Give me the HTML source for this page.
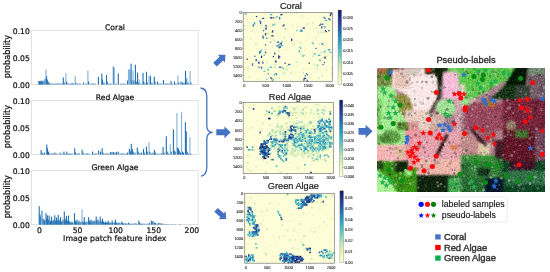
<!DOCTYPE html>
<html><head><meta charset="utf-8"><style>
html,body{margin:0;padding:0;background:#fff;}
body{width:550px;height:272px;overflow:hidden;}
svg{display:block;}
text{font-family:"Liberation Sans", "DejaVu Sans", sans-serif;}
.t1{font-size:7.65px;fill:#111;stroke:#111;stroke-width:0.22px;font-family:'DejaVu Sans',sans-serif;}
.tk{font-size:7.65px;fill:#111;stroke:#111;stroke-width:0.22px;font-family:'DejaVu Sans',sans-serif;}
.yl{font-size:8.1px;fill:#111;stroke:#111;stroke-width:0.22px;font-family:'DejaVu Sans',sans-serif;}
.xl{font-size:7.8px;fill:#111;stroke:#111;stroke-width:0.22px;font-family:'DejaVu Sans',sans-serif;}
.ht{font-size:9.2px;fill:#1a1a1a;stroke:#1a1a1a;stroke-width:0.2px;}
.hk{font-size:3.9px;fill:#222;stroke:#222;stroke-width:0.08px;}
.lg{font-size:8.7px;fill:#151515;stroke:#151515;stroke-width:0.15px;}
.pl{font-size:9.7px;fill:#262626;stroke:#262626;stroke-width:0.3px;}
.cl{font-size:9.4px;fill:#333;stroke:#333;stroke-width:0.4px;}
</style></head><body>
<svg width="550" height="272" viewBox="0 0 550 272">
<rect x="31.4" y="30.4" width="166.8" height="54.1" fill="none" stroke="#dcdcdc" stroke-width="0.9"/>
<rect x="38.35" y="81.00" width="1.1" height="3.50" fill="#2170b2"/>
<rect x="39.05" y="81.00" width="1.1" height="3.50" fill="#2170b2"/>
<rect x="39.85" y="81.50" width="1.1" height="3.00" fill="#2170b2"/>
<rect x="40.65" y="80.50" width="1.1" height="4.00" fill="#2170b2"/>
<rect x="41.45" y="81.00" width="1.1" height="3.50" fill="#2170b2"/>
<rect x="42.15" y="81.50" width="1.1" height="3.00" fill="#2170b2"/>
<rect x="43.45" y="80.50" width="1.1" height="4.00" fill="#2170b2"/>
<rect x="44.65" y="78.50" width="1.1" height="6.00" fill="#2170b2"/>
<rect x="45.45" y="69.50" width="1.1" height="15.00" fill="#7fb2dc"/>
<rect x="46.05" y="76.30" width="1.1" height="8.20" fill="#2170b2"/>
<rect x="46.75" y="79.50" width="1.1" height="5.00" fill="#2170b2"/>
<rect x="47.55" y="81.50" width="1.1" height="3.00" fill="#2170b2"/>
<rect x="48.45" y="82.50" width="1.1" height="2.00" fill="#2170b2"/>
<rect x="49.95" y="83.50" width="1.1" height="1.00" fill="#2170b2"/>
<rect x="51.45" y="83.50" width="1.1" height="1.00" fill="#2170b2"/>
<rect x="53.45" y="83.50" width="1.1" height="1.00" fill="#2170b2"/>
<rect x="55.45" y="83.50" width="1.1" height="1.00" fill="#2170b2"/>
<rect x="57.45" y="83.00" width="1.1" height="1.50" fill="#2170b2"/>
<rect x="59.45" y="83.50" width="1.1" height="1.00" fill="#2170b2"/>
<rect x="61.45" y="83.50" width="1.1" height="1.00" fill="#2170b2"/>
<rect x="62.75" y="77.50" width="1.1" height="7.00" fill="#2170b2"/>
<rect x="63.55" y="82.50" width="1.1" height="2.00" fill="#2170b2"/>
<rect x="65.35" y="73.00" width="1.1" height="11.50" fill="#7fb2dc"/>
<rect x="66.15" y="81.50" width="1.1" height="3.00" fill="#2170b2"/>
<rect x="67.45" y="83.50" width="1.1" height="1.00" fill="#2170b2"/>
<rect x="69.45" y="83.50" width="1.1" height="1.00" fill="#2170b2"/>
<rect x="71.45" y="83.00" width="1.1" height="1.50" fill="#2170b2"/>
<rect x="72.95" y="83.50" width="1.1" height="1.00" fill="#2170b2"/>
<rect x="74.65" y="75.90" width="1.1" height="8.60" fill="#7fb2dc"/>
<rect x="75.35" y="82.50" width="1.1" height="2.00" fill="#2170b2"/>
<rect x="77.45" y="83.50" width="1.1" height="1.00" fill="#2170b2"/>
<rect x="79.45" y="83.50" width="1.1" height="1.00" fill="#2170b2"/>
<rect x="82.95" y="82.50" width="1.1" height="2.00" fill="#2170b2"/>
<rect x="85.45" y="83.50" width="1.1" height="1.00" fill="#2170b2"/>
<rect x="87.35" y="70.50" width="1.1" height="14.00" fill="#7fb2dc"/>
<rect x="88.05" y="81.50" width="1.1" height="3.00" fill="#2170b2"/>
<rect x="90.45" y="83.50" width="1.1" height="1.00" fill="#2170b2"/>
<rect x="92.45" y="83.50" width="1.1" height="1.00" fill="#2170b2"/>
<rect x="94.45" y="83.50" width="1.1" height="1.00" fill="#2170b2"/>
<rect x="97.85" y="76.80" width="1.1" height="7.70" fill="#2170b2"/>
<rect x="101.25" y="73.50" width="1.1" height="11.00" fill="#2170b2"/>
<rect x="101.95" y="79.50" width="1.1" height="5.00" fill="#2170b2"/>
<rect x="103.45" y="82.50" width="1.1" height="2.00" fill="#2170b2"/>
<rect x="105.95" y="75.00" width="1.1" height="9.50" fill="#2170b2"/>
<rect x="106.65" y="81.50" width="1.1" height="3.00" fill="#2170b2"/>
<rect x="108.45" y="83.50" width="1.1" height="1.00" fill="#2170b2"/>
<rect x="110.45" y="83.50" width="1.1" height="1.00" fill="#2170b2"/>
<rect x="112.65" y="65.90" width="1.1" height="18.60" fill="#7fb2dc"/>
<rect x="113.35" y="67.50" width="1.1" height="17.00" fill="#2170b2"/>
<rect x="115.45" y="83.50" width="1.1" height="1.00" fill="#2170b2"/>
<rect x="117.75" y="73.50" width="1.1" height="11.00" fill="#2170b2"/>
<rect x="120.45" y="83.50" width="1.1" height="1.00" fill="#2170b2"/>
<rect x="122.45" y="83.50" width="1.1" height="1.00" fill="#2170b2"/>
<rect x="124.45" y="83.50" width="1.1" height="1.00" fill="#2170b2"/>
<rect x="126.95" y="80.50" width="1.1" height="4.00" fill="#2170b2"/>
<rect x="127.95" y="69.50" width="1.1" height="15.00" fill="#7fb2dc"/>
<rect x="128.75" y="69.50" width="1.1" height="15.00" fill="#7fb2dc"/>
<rect x="129.65" y="69.50" width="1.1" height="15.00" fill="#7fb2dc"/>
<rect x="130.55" y="63.70" width="1.1" height="20.80" fill="#2170b2"/>
<rect x="131.35" y="80.50" width="1.1" height="4.00" fill="#2170b2"/>
<rect x="132.45" y="70.50" width="1.1" height="14.00" fill="#7fb2dc"/>
<rect x="133.25" y="80.50" width="1.1" height="4.00" fill="#2170b2"/>
<rect x="134.85" y="64.80" width="1.1" height="19.70" fill="#2170b2"/>
<rect x="135.65" y="81.50" width="1.1" height="3.00" fill="#2170b2"/>
<rect x="137.05" y="72.50" width="1.1" height="12.00" fill="#2170b2"/>
<rect x="137.85" y="82.50" width="1.1" height="2.00" fill="#2170b2"/>
<rect x="138.75" y="79.50" width="1.1" height="5.00" fill="#7fb2dc"/>
<rect x="140.45" y="83.50" width="1.1" height="1.00" fill="#2170b2"/>
<rect x="142.45" y="72.80" width="1.1" height="11.70" fill="#2170b2"/>
<rect x="143.25" y="81.50" width="1.1" height="3.00" fill="#2170b2"/>
<rect x="144.45" y="83.50" width="1.1" height="1.00" fill="#2170b2"/>
<rect x="145.95" y="71.70" width="1.1" height="12.80" fill="#2170b2"/>
<rect x="146.75" y="82.50" width="1.1" height="2.00" fill="#2170b2"/>
<rect x="148.45" y="75.50" width="1.1" height="9.00" fill="#7fb2dc"/>
<rect x="149.95" y="76.10" width="1.1" height="8.40" fill="#2170b2"/>
<rect x="151.45" y="82.50" width="1.1" height="2.00" fill="#2170b2"/>
<rect x="153.75" y="76.70" width="1.1" height="7.80" fill="#2170b2"/>
<rect x="154.45" y="81.50" width="1.1" height="3.00" fill="#2170b2"/>
<rect x="156.95" y="81.50" width="1.1" height="3.00" fill="#2170b2"/>
<rect x="158.45" y="83.50" width="1.1" height="1.00" fill="#2170b2"/>
<rect x="160.45" y="83.50" width="1.1" height="1.00" fill="#2170b2"/>
<rect x="162.85" y="80.10" width="1.1" height="4.40" fill="#2170b2"/>
<rect x="164.45" y="83.50" width="1.1" height="1.00" fill="#2170b2"/>
<rect x="166.45" y="83.50" width="1.1" height="1.00" fill="#2170b2"/>
<rect x="168.45" y="83.50" width="1.1" height="1.00" fill="#2170b2"/>
<rect x="170.45" y="81.10" width="1.1" height="3.40" fill="#2170b2"/>
<rect x="171.45" y="83.50" width="1.1" height="1.00" fill="#2170b2"/>
<rect x="173.95" y="81.50" width="1.1" height="3.00" fill="#2170b2"/>
<rect x="175.45" y="83.50" width="1.1" height="1.00" fill="#2170b2"/>
<rect x="177.35" y="75.50" width="1.1" height="9.00" fill="#7fb2dc"/>
<rect x="178.15" y="82.50" width="1.1" height="2.00" fill="#2170b2"/>
<rect x="180.45" y="81.50" width="1.1" height="3.00" fill="#2170b2"/>
<rect x="181.95" y="82.50" width="1.1" height="2.00" fill="#2170b2"/>
<rect x="183.45" y="82.50" width="1.1" height="2.00" fill="#2170b2"/>
<rect x="184.95" y="70.80" width="1.1" height="13.70" fill="#2170b2"/>
<rect x="185.75" y="79.50" width="1.1" height="5.00" fill="#2170b2"/>
<rect x="186.45" y="77.50" width="1.1" height="7.00" fill="#7fb2dc"/>
<rect x="187.45" y="82.50" width="1.1" height="2.00" fill="#2170b2"/>
<rect x="189.55" y="71.10" width="1.1" height="13.40" fill="#7fb2dc"/>
<rect x="190.35" y="82.50" width="1.1" height="2.00" fill="#2170b2"/>
<text x="115" y="29.5" text-anchor="middle" class="t1">Coral</text>
<text x="29.8" y="33.5" text-anchor="end" class="tk">0.10</text>
<text x="29.8" y="60.6" text-anchor="end" class="tk">0.05</text>
<text x="29.8" y="87.6" text-anchor="end" class="tk">0.00</text>
<text transform="translate(10.2 56.6) rotate(-90)" text-anchor="middle" class="yl">probability</text>
<rect x="31.4" y="100.5" width="166.8" height="54.1" fill="none" stroke="#dcdcdc" stroke-width="0.9"/>
<rect x="40.55" y="150.00" width="1.1" height="4.60" fill="#2170b2"/>
<rect x="41.45" y="152.60" width="1.1" height="2.00" fill="#2170b2"/>
<rect x="42.45" y="153.60" width="1.1" height="1.00" fill="#2170b2"/>
<rect x="43.95" y="152.60" width="1.1" height="2.00" fill="#2170b2"/>
<rect x="46.25" y="144.60" width="1.1" height="10.00" fill="#2170b2"/>
<rect x="46.95" y="148.30" width="1.1" height="6.30" fill="#2170b2"/>
<rect x="47.95" y="151.60" width="1.1" height="3.00" fill="#2170b2"/>
<rect x="48.95" y="153.60" width="1.1" height="1.00" fill="#2170b2"/>
<rect x="50.45" y="153.60" width="1.1" height="1.00" fill="#2170b2"/>
<rect x="52.45" y="153.10" width="1.1" height="1.50" fill="#2170b2"/>
<rect x="54.45" y="152.60" width="1.1" height="2.00" fill="#2170b2"/>
<rect x="56.45" y="153.60" width="1.1" height="1.00" fill="#2170b2"/>
<rect x="59.45" y="152.60" width="1.1" height="2.00" fill="#2170b2"/>
<rect x="61.45" y="153.60" width="1.1" height="1.00" fill="#2170b2"/>
<rect x="63.35" y="151.60" width="1.1" height="3.00" fill="#2170b2"/>
<rect x="64.45" y="153.60" width="1.1" height="1.00" fill="#2170b2"/>
<rect x="66.25" y="151.60" width="1.1" height="3.00" fill="#2170b2"/>
<rect x="67.45" y="153.60" width="1.1" height="1.00" fill="#2170b2"/>
<rect x="69.45" y="153.10" width="1.1" height="1.50" fill="#2170b2"/>
<rect x="71.45" y="153.60" width="1.1" height="1.00" fill="#2170b2"/>
<rect x="74.15" y="148.30" width="1.1" height="6.30" fill="#2170b2"/>
<rect x="74.95" y="152.60" width="1.1" height="2.00" fill="#2170b2"/>
<rect x="76.45" y="153.60" width="1.1" height="1.00" fill="#2170b2"/>
<rect x="78.45" y="153.10" width="1.1" height="1.50" fill="#2170b2"/>
<rect x="81.55" y="149.60" width="1.1" height="5.00" fill="#2170b2"/>
<rect x="82.45" y="152.60" width="1.1" height="2.00" fill="#2170b2"/>
<rect x="84.45" y="153.60" width="1.1" height="1.00" fill="#2170b2"/>
<rect x="86.45" y="153.10" width="1.1" height="1.50" fill="#2170b2"/>
<rect x="88.45" y="153.60" width="1.1" height="1.00" fill="#2170b2"/>
<rect x="91.95" y="151.60" width="1.1" height="3.00" fill="#2170b2"/>
<rect x="93.45" y="153.60" width="1.1" height="1.00" fill="#2170b2"/>
<rect x="95.45" y="153.10" width="1.1" height="1.50" fill="#2170b2"/>
<rect x="98.05" y="150.60" width="1.1" height="4.00" fill="#2170b2"/>
<rect x="99.95" y="151.60" width="1.1" height="3.00" fill="#2170b2"/>
<rect x="101.65" y="148.30" width="1.1" height="6.30" fill="#2170b2"/>
<rect x="102.45" y="152.60" width="1.1" height="2.00" fill="#2170b2"/>
<rect x="104.45" y="153.60" width="1.1" height="1.00" fill="#2170b2"/>
<rect x="106.45" y="153.10" width="1.1" height="1.50" fill="#2170b2"/>
<rect x="108.45" y="153.60" width="1.1" height="1.00" fill="#2170b2"/>
<rect x="109.95" y="152.10" width="1.1" height="2.50" fill="#2170b2"/>
<rect x="111.45" y="152.10" width="1.1" height="2.50" fill="#2170b2"/>
<rect x="112.95" y="152.10" width="1.1" height="2.50" fill="#2170b2"/>
<rect x="114.45" y="152.60" width="1.1" height="2.00" fill="#2170b2"/>
<rect x="115.95" y="152.10" width="1.1" height="2.50" fill="#2170b2"/>
<rect x="117.65" y="151.60" width="1.1" height="3.00" fill="#2170b2"/>
<rect x="119.45" y="153.60" width="1.1" height="1.00" fill="#2170b2"/>
<rect x="121.45" y="153.10" width="1.1" height="1.50" fill="#2170b2"/>
<rect x="123.45" y="153.60" width="1.1" height="1.00" fill="#2170b2"/>
<rect x="125.45" y="153.60" width="1.1" height="1.00" fill="#2170b2"/>
<rect x="126.95" y="152.60" width="1.1" height="2.00" fill="#2170b2"/>
<rect x="128.75" y="148.90" width="1.1" height="5.70" fill="#2170b2"/>
<rect x="129.75" y="151.10" width="1.1" height="3.50" fill="#2170b2"/>
<rect x="130.75" y="143.80" width="1.1" height="10.80" fill="#2170b2"/>
<rect x="131.75" y="148.90" width="1.1" height="5.70" fill="#2170b2"/>
<rect x="132.65" y="151.60" width="1.1" height="3.00" fill="#2170b2"/>
<rect x="134.45" y="152.60" width="1.1" height="2.00" fill="#2170b2"/>
<rect x="136.75" y="147.60" width="1.1" height="7.00" fill="#2170b2"/>
<rect x="137.65" y="151.60" width="1.1" height="3.00" fill="#2170b2"/>
<rect x="139.45" y="153.10" width="1.1" height="1.50" fill="#2170b2"/>
<rect x="140.95" y="152.60" width="1.1" height="2.00" fill="#2170b2"/>
<rect x="142.95" y="148.90" width="1.1" height="5.70" fill="#2170b2"/>
<rect x="143.75" y="152.60" width="1.1" height="2.00" fill="#2170b2"/>
<rect x="145.85" y="146.60" width="1.1" height="8.00" fill="#2170b2"/>
<rect x="146.65" y="151.60" width="1.1" height="3.00" fill="#2170b2"/>
<rect x="148.45" y="142.20" width="1.1" height="12.40" fill="#7fb2dc"/>
<rect x="149.25" y="151.60" width="1.1" height="3.00" fill="#2170b2"/>
<rect x="150.95" y="153.60" width="1.1" height="1.00" fill="#2170b2"/>
<rect x="152.45" y="152.60" width="1.1" height="2.00" fill="#2170b2"/>
<rect x="153.95" y="149.80" width="1.1" height="4.80" fill="#2170b2"/>
<rect x="154.75" y="152.60" width="1.1" height="2.00" fill="#2170b2"/>
<rect x="156.45" y="153.60" width="1.1" height="1.00" fill="#2170b2"/>
<rect x="158.45" y="153.60" width="1.1" height="1.00" fill="#2170b2"/>
<rect x="160.65" y="153.20" width="1.1" height="1.40" fill="#2170b2"/>
<rect x="162.55" y="147.00" width="1.1" height="7.60" fill="#2170b2"/>
<rect x="163.45" y="152.60" width="1.1" height="2.00" fill="#2170b2"/>
<rect x="165.75" y="136.30" width="1.1" height="18.30" fill="#2170b2"/>
<rect x="166.65" y="151.60" width="1.1" height="3.00" fill="#2170b2"/>
<rect x="167.95" y="153.60" width="1.1" height="1.00" fill="#2170b2"/>
<rect x="169.75" y="144.30" width="1.1" height="10.30" fill="#7fb2dc"/>
<rect x="170.65" y="151.60" width="1.1" height="3.00" fill="#2170b2"/>
<rect x="172.85" y="129.30" width="1.1" height="25.30" fill="#2170b2"/>
<rect x="173.75" y="150.60" width="1.1" height="4.00" fill="#2170b2"/>
<rect x="174.65" y="151.60" width="1.1" height="3.00" fill="#2170b2"/>
<rect x="176.35" y="113.00" width="1.1" height="41.60" fill="#7fb2dc"/>
<rect x="177.15" y="147.60" width="1.1" height="7.00" fill="#2170b2"/>
<rect x="177.95" y="148.60" width="1.1" height="6.00" fill="#2170b2"/>
<rect x="178.75" y="150.60" width="1.1" height="4.00" fill="#2170b2"/>
<rect x="179.95" y="152.60" width="1.1" height="2.00" fill="#2170b2"/>
<rect x="181.05" y="111.80" width="1.1" height="42.80" fill="#7fb2dc"/>
<rect x="181.85" y="151.60" width="1.1" height="3.00" fill="#2170b2"/>
<rect x="182.95" y="152.60" width="1.1" height="2.00" fill="#2170b2"/>
<rect x="184.85" y="122.30" width="1.1" height="32.30" fill="#2170b2"/>
<rect x="185.75" y="131.30" width="1.1" height="23.30" fill="#2170b2"/>
<rect x="186.65" y="151.60" width="1.1" height="3.00" fill="#2170b2"/>
<rect x="187.95" y="153.60" width="1.1" height="1.00" fill="#2170b2"/>
<rect x="189.35" y="137.10" width="1.1" height="17.50" fill="#7fb2dc"/>
<rect x="190.25" y="153.60" width="1.1" height="1.00" fill="#2170b2"/>
<text x="115" y="99.6" text-anchor="middle" class="t1">Red Algae</text>
<text x="29.8" y="103.6" text-anchor="end" class="tk">0.10</text>
<text x="29.8" y="130.7" text-anchor="end" class="tk">0.05</text>
<text x="29.8" y="157.7" text-anchor="end" class="tk">0.00</text>
<text transform="translate(10.2 126.6) rotate(-90)" text-anchor="middle" class="yl">probability</text>
<rect x="31.4" y="170.6" width="166.8" height="54.0" fill="none" stroke="#dcdcdc" stroke-width="0.9"/>
<rect x="38.65" y="206.20" width="1.1" height="18.40" fill="#2170b2"/>
<rect x="39.45" y="214.60" width="1.1" height="10.00" fill="#2170b2"/>
<rect x="40.25" y="216.60" width="1.1" height="8.00" fill="#2170b2"/>
<rect x="40.95" y="210.60" width="1.1" height="14.00" fill="#7fb2dc"/>
<rect x="41.75" y="210.60" width="1.1" height="14.00" fill="#7fb2dc"/>
<rect x="42.55" y="218.60" width="1.1" height="6.00" fill="#2170b2"/>
<rect x="43.45" y="219.60" width="1.1" height="5.00" fill="#2170b2"/>
<rect x="44.15" y="220.60" width="1.1" height="4.00" fill="#2170b2"/>
<rect x="45.45" y="213.20" width="1.1" height="11.40" fill="#2170b2"/>
<rect x="46.15" y="218.60" width="1.1" height="6.00" fill="#2170b2"/>
<rect x="46.85" y="215.30" width="1.1" height="9.30" fill="#2170b2"/>
<rect x="47.65" y="219.60" width="1.1" height="5.00" fill="#2170b2"/>
<rect x="48.55" y="215.60" width="1.1" height="9.00" fill="#2170b2"/>
<rect x="49.35" y="220.60" width="1.1" height="4.00" fill="#2170b2"/>
<rect x="50.05" y="221.60" width="1.1" height="3.00" fill="#2170b2"/>
<rect x="50.85" y="216.60" width="1.1" height="8.00" fill="#2170b2"/>
<rect x="51.65" y="220.60" width="1.1" height="4.00" fill="#2170b2"/>
<rect x="52.45" y="221.60" width="1.1" height="3.00" fill="#2170b2"/>
<rect x="53.25" y="219.60" width="1.1" height="5.00" fill="#2170b2"/>
<rect x="54.25" y="215.30" width="1.1" height="9.30" fill="#2170b2"/>
<rect x="55.05" y="220.60" width="1.1" height="4.00" fill="#2170b2"/>
<rect x="55.95" y="217.60" width="1.1" height="7.00" fill="#2170b2"/>
<rect x="56.75" y="220.60" width="1.1" height="4.00" fill="#2170b2"/>
<rect x="57.65" y="214.90" width="1.1" height="9.70" fill="#2170b2"/>
<rect x="58.45" y="219.60" width="1.1" height="5.00" fill="#2170b2"/>
<rect x="59.25" y="220.60" width="1.1" height="4.00" fill="#2170b2"/>
<rect x="59.95" y="217.20" width="1.1" height="7.40" fill="#2170b2"/>
<rect x="60.75" y="221.60" width="1.1" height="3.00" fill="#2170b2"/>
<rect x="61.45" y="221.60" width="1.1" height="3.00" fill="#2170b2"/>
<rect x="62.45" y="219.60" width="1.1" height="5.00" fill="#2170b2"/>
<rect x="63.75" y="211.50" width="1.1" height="13.10" fill="#2170b2"/>
<rect x="64.45" y="218.60" width="1.1" height="6.00" fill="#2170b2"/>
<rect x="65.15" y="220.60" width="1.1" height="4.00" fill="#2170b2"/>
<rect x="65.95" y="216.10" width="1.1" height="8.50" fill="#2170b2"/>
<rect x="66.75" y="220.60" width="1.1" height="4.00" fill="#2170b2"/>
<rect x="67.95" y="215.60" width="1.1" height="9.00" fill="#2170b2"/>
<rect x="68.75" y="221.60" width="1.1" height="3.00" fill="#2170b2"/>
<rect x="69.45" y="221.60" width="1.1" height="3.00" fill="#2170b2"/>
<rect x="70.45" y="222.60" width="1.1" height="2.00" fill="#2170b2"/>
<rect x="71.45" y="221.60" width="1.1" height="3.00" fill="#2170b2"/>
<rect x="72.45" y="222.60" width="1.1" height="2.00" fill="#2170b2"/>
<rect x="73.95" y="213.20" width="1.1" height="11.40" fill="#2170b2"/>
<rect x="74.75" y="220.60" width="1.1" height="4.00" fill="#2170b2"/>
<rect x="75.65" y="221.60" width="1.1" height="3.00" fill="#2170b2"/>
<rect x="76.45" y="219.60" width="1.1" height="5.00" fill="#2170b2"/>
<rect x="77.45" y="222.60" width="1.1" height="2.00" fill="#2170b2"/>
<rect x="78.45" y="220.60" width="1.1" height="4.00" fill="#2170b2"/>
<rect x="79.45" y="222.60" width="1.1" height="2.00" fill="#2170b2"/>
<rect x="80.45" y="221.60" width="1.1" height="3.00" fill="#2170b2"/>
<rect x="81.45" y="209.20" width="1.1" height="15.40" fill="#7fb2dc"/>
<rect x="82.25" y="221.60" width="1.1" height="3.00" fill="#2170b2"/>
<rect x="82.95" y="222.60" width="1.1" height="2.00" fill="#2170b2"/>
<rect x="83.75" y="217.20" width="1.1" height="7.40" fill="#2170b2"/>
<rect x="84.45" y="221.60" width="1.1" height="3.00" fill="#2170b2"/>
<rect x="85.45" y="222.60" width="1.1" height="2.00" fill="#2170b2"/>
<rect x="86.45" y="221.60" width="1.1" height="3.00" fill="#2170b2"/>
<rect x="88.05" y="217.20" width="1.1" height="7.40" fill="#2170b2"/>
<rect x="88.85" y="220.60" width="1.1" height="4.00" fill="#2170b2"/>
<rect x="89.65" y="221.60" width="1.1" height="3.00" fill="#2170b2"/>
<rect x="90.45" y="219.60" width="1.1" height="5.00" fill="#2170b2"/>
<rect x="91.45" y="221.60" width="1.1" height="3.00" fill="#2170b2"/>
<rect x="92.45" y="220.60" width="1.1" height="4.00" fill="#2170b2"/>
<rect x="93.45" y="221.60" width="1.1" height="3.00" fill="#2170b2"/>
<rect x="94.45" y="220.60" width="1.1" height="4.00" fill="#2170b2"/>
<rect x="95.65" y="216.60" width="1.1" height="8.00" fill="#2170b2"/>
<rect x="96.45" y="220.60" width="1.1" height="4.00" fill="#2170b2"/>
<rect x="97.45" y="219.60" width="1.1" height="5.00" fill="#2170b2"/>
<rect x="98.45" y="221.60" width="1.1" height="3.00" fill="#2170b2"/>
<rect x="99.65" y="216.60" width="1.1" height="8.00" fill="#2170b2"/>
<rect x="100.45" y="220.60" width="1.1" height="4.00" fill="#2170b2"/>
<rect x="101.45" y="221.60" width="1.1" height="3.00" fill="#2170b2"/>
<rect x="101.95" y="218.60" width="1.1" height="6.00" fill="#2170b2"/>
<rect x="102.95" y="221.60" width="1.1" height="3.00" fill="#2170b2"/>
<rect x="103.95" y="222.60" width="1.1" height="2.00" fill="#2170b2"/>
<rect x="104.95" y="221.60" width="1.1" height="3.00" fill="#2170b2"/>
<rect x="105.95" y="222.60" width="1.1" height="2.00" fill="#2170b2"/>
<rect x="106.95" y="222.60" width="1.1" height="2.00" fill="#2170b2"/>
<rect x="107.65" y="220.60" width="1.1" height="4.00" fill="#2170b2"/>
<rect x="108.45" y="222.60" width="1.1" height="2.00" fill="#2170b2"/>
<rect x="109.45" y="222.60" width="1.1" height="2.00" fill="#2170b2"/>
<rect x="110.45" y="222.60" width="1.1" height="2.00" fill="#2170b2"/>
<rect x="111.65" y="220.60" width="1.1" height="4.00" fill="#2170b2"/>
<rect x="112.45" y="222.60" width="1.1" height="2.00" fill="#2170b2"/>
<rect x="113.95" y="222.60" width="1.1" height="2.00" fill="#2170b2"/>
<rect x="114.85" y="219.60" width="1.1" height="5.00" fill="#2170b2"/>
<rect x="115.65" y="222.60" width="1.1" height="2.00" fill="#2170b2"/>
<rect x="116.45" y="222.60" width="1.1" height="2.00" fill="#2170b2"/>
<rect x="117.45" y="223.60" width="1.1" height="1.00" fill="#2170b2"/>
<rect x="118.45" y="222.60" width="1.1" height="2.00" fill="#2170b2"/>
<rect x="119.45" y="223.10" width="1.1" height="1.50" fill="#2170b2"/>
<rect x="121.15" y="221.60" width="1.1" height="3.00" fill="#2170b2"/>
<rect x="121.95" y="222.60" width="1.1" height="2.00" fill="#2170b2"/>
<rect x="122.95" y="223.60" width="1.1" height="1.00" fill="#2170b2"/>
<rect x="124.45" y="223.10" width="1.1" height="1.50" fill="#2170b2"/>
<rect x="125.45" y="223.60" width="1.1" height="1.00" fill="#2170b2"/>
<rect x="126.45" y="223.60" width="1.1" height="1.00" fill="#2170b2"/>
<rect x="127.95" y="222.60" width="1.1" height="2.00" fill="#2170b2"/>
<rect x="129.45" y="223.60" width="1.1" height="1.00" fill="#2170b2"/>
<rect x="130.45" y="223.60" width="1.1" height="1.00" fill="#2170b2"/>
<rect x="132.45" y="223.60" width="1.1" height="1.00" fill="#2170b2"/>
<rect x="134.45" y="223.10" width="1.1" height="1.50" fill="#2170b2"/>
<rect x="135.95" y="223.60" width="1.1" height="1.00" fill="#2170b2"/>
<rect x="138.25" y="220.60" width="1.1" height="4.00" fill="#2170b2"/>
<rect x="139.05" y="222.60" width="1.1" height="2.00" fill="#2170b2"/>
<rect x="140.45" y="223.60" width="1.1" height="1.00" fill="#2170b2"/>
<rect x="141.45" y="223.60" width="1.1" height="1.00" fill="#2170b2"/>
<rect x="143.45" y="223.60" width="1.1" height="1.00" fill="#2170b2"/>
<rect x="145.45" y="223.60" width="1.1" height="1.00" fill="#2170b2"/>
<rect x="147.45" y="223.60" width="1.1" height="1.00" fill="#2170b2"/>
<rect x="148.95" y="223.10" width="1.1" height="1.50" fill="#2170b2"/>
<rect x="150.75" y="220.60" width="1.1" height="4.00" fill="#2170b2"/>
<rect x="151.45" y="221.60" width="1.1" height="3.00" fill="#2170b2"/>
<rect x="152.45" y="221.10" width="1.1" height="3.50" fill="#2170b2"/>
<rect x="153.95" y="222.60" width="1.1" height="2.00" fill="#2170b2"/>
<rect x="154.95" y="223.10" width="1.1" height="1.50" fill="#2170b2"/>
<rect x="156.45" y="223.60" width="1.1" height="1.00" fill="#2170b2"/>
<rect x="157.95" y="223.10" width="1.1" height="1.50" fill="#2170b2"/>
<rect x="159.45" y="223.10" width="1.1" height="1.50" fill="#2170b2"/>
<rect x="160.95" y="223.60" width="1.1" height="1.00" fill="#2170b2"/>
<rect x="162.45" y="223.60" width="1.1" height="1.00" fill="#2170b2"/>
<rect x="164.45" y="223.90" width="1.1" height="0.70" fill="#2170b2"/>
<rect x="166.45" y="224.10" width="1.1" height="0.50" fill="#2170b2"/>
<rect x="168.45" y="224.10" width="1.1" height="0.50" fill="#2170b2"/>
<rect x="171.45" y="224.10" width="1.1" height="0.50" fill="#2170b2"/>
<rect x="174.45" y="224.10" width="1.1" height="0.50" fill="#2170b2"/>
<rect x="179.45" y="224.10" width="1.1" height="0.50" fill="#2170b2"/>
<text x="115" y="169.7" text-anchor="middle" class="t1">Green Algae</text>
<text x="29.8" y="173.7" text-anchor="end" class="tk">0.10</text>
<text x="29.8" y="200.7" text-anchor="end" class="tk">0.05</text>
<text x="29.8" y="227.7" text-anchor="end" class="tk">0.00</text>
<text transform="translate(10.2 196.7) rotate(-90)" text-anchor="middle" class="yl">probability</text>
<text x="39.4" y="232.5" text-anchor="middle" class="tk">0</text>
<text x="77.5" y="232.5" text-anchor="middle" class="tk">50</text>
<text x="115.7" y="232.5" text-anchor="middle" class="tk">100</text>
<text x="153.8" y="232.5" text-anchor="middle" class="tk">150</text>
<text x="191.9" y="232.5" text-anchor="middle" class="tk">200</text>
<text x="114.8" y="241.1" text-anchor="middle" class="xl">Image patch feature index</text>
<path d="M200.6,88 C204.5,88.5 206.8,91.5 206.8,96 L206.8,126 C206.8,130 209,132.2 212.6,132.4 C209,132.6 206.8,135 206.8,139 L206.8,167 C206.8,172 204.5,175.5 200.9,176.2" fill="none" stroke="#4472c4" stroke-width="1.3"/>
<polygon points="216.3,135.3 224.4,135.3 224.4,138.2 230.7,132.3 224.4,126.4 224.4,129.3 216.3,129.3" fill="#4472c4"/>
<polygon points="216.8,66.5 223.2,60.5 225.0,62.4 225.4,54.8 217.8,54.8 219.6,56.7 213.2,62.7" fill="#4472c4"/>
<polygon points="214.3,211.7 220.4,217.2 218.6,219.2 226.2,218.9 225.6,211.3 223.8,213.3 217.7,207.9" fill="#4472c4"/>
<polygon points="358.5,134.7 365.6,134.7 365.6,138.0 372.6,131.3 365.6,124.7 365.6,127.9 358.5,127.9" fill="#4472c4"/>
<rect x="243.2" y="12.5" width="89.3" height="68.8" fill="#fdfed8"/>
<rect x="243.2" y="24.7" width="1.62" height="1.62" fill="#c9e9b4"/>
<rect x="243.2" y="28.7" width="1.62" height="1.62" fill="#c9e9b4"/>
<rect x="243.2" y="36.8" width="1.62" height="1.62" fill="#c9e9b4"/>
<rect x="243.2" y="43.6" width="1.62" height="1.62" fill="#eef8b4"/>
<rect x="244.5" y="47.6" width="1.62" height="1.62" fill="#eef8b4"/>
<rect x="244.5" y="62.5" width="1.62" height="1.62" fill="#eef8b4"/>
<rect x="245.9" y="16.6" width="1.62" height="1.62" fill="#eef8b4"/>
<rect x="247.2" y="66.5" width="1.62" height="1.62" fill="#c9e9b4"/>
<rect x="247.2" y="69.2" width="1.62" height="1.62" fill="#eef8b4"/>
<rect x="248.6" y="76.0" width="1.62" height="1.62" fill="#c9e9b4"/>
<rect x="249.9" y="38.2" width="1.62" height="1.62" fill="#eef8b4"/>
<rect x="251.3" y="30.1" width="1.62" height="1.62" fill="#c9e9b4"/>
<rect x="252.6" y="24.7" width="1.62" height="1.62" fill="#c9e9b4"/>
<rect x="252.6" y="27.4" width="1.62" height="1.62" fill="#eef8b4"/>
<rect x="255.3" y="43.6" width="1.62" height="1.62" fill="#c9e9b4"/>
<rect x="255.3" y="59.8" width="1.62" height="1.62" fill="#c9e9b4"/>
<rect x="256.7" y="47.6" width="1.62" height="1.62" fill="#eef8b4"/>
<rect x="256.7" y="78.6" width="1.62" height="1.62" fill="#eef8b4"/>
<rect x="260.8" y="13.8" width="1.62" height="1.62" fill="#eef8b4"/>
<rect x="260.8" y="24.7" width="1.62" height="1.62" fill="#c9e9b4"/>
<rect x="263.5" y="27.4" width="1.62" height="1.62" fill="#c9e9b4"/>
<rect x="264.8" y="28.7" width="1.62" height="1.62" fill="#eef8b4"/>
<rect x="264.8" y="53.0" width="1.62" height="1.62" fill="#c9e9b4"/>
<rect x="264.8" y="70.6" width="1.62" height="1.62" fill="#c9e9b4"/>
<rect x="266.2" y="32.8" width="1.62" height="1.62" fill="#c9e9b4"/>
<rect x="266.2" y="62.5" width="1.62" height="1.62" fill="#eef8b4"/>
<rect x="267.5" y="32.8" width="1.62" height="1.62" fill="#c9e9b4"/>
<rect x="268.9" y="24.7" width="1.62" height="1.62" fill="#eef8b4"/>
<rect x="270.2" y="31.4" width="1.62" height="1.62" fill="#c9e9b4"/>
<rect x="270.2" y="73.3" width="1.62" height="1.62" fill="#eef8b4"/>
<rect x="271.6" y="38.2" width="1.62" height="1.62" fill="#eef8b4"/>
<rect x="272.9" y="19.3" width="1.62" height="1.62" fill="#eef8b4"/>
<rect x="272.9" y="39.5" width="1.62" height="1.62" fill="#c9e9b4"/>
<rect x="274.3" y="61.1" width="1.62" height="1.62" fill="#c9e9b4"/>
<rect x="274.3" y="63.8" width="1.62" height="1.62" fill="#c9e9b4"/>
<rect x="275.6" y="35.5" width="1.62" height="1.62" fill="#eef8b4"/>
<rect x="275.6" y="61.1" width="1.62" height="1.62" fill="#eef8b4"/>
<rect x="277.0" y="32.8" width="1.62" height="1.62" fill="#eef8b4"/>
<rect x="278.3" y="16.6" width="1.62" height="1.62" fill="#c9e9b4"/>
<rect x="278.3" y="50.3" width="1.62" height="1.62" fill="#c9e9b4"/>
<rect x="278.3" y="77.3" width="1.62" height="1.62" fill="#c9e9b4"/>
<rect x="279.7" y="70.6" width="1.62" height="1.62" fill="#eef8b4"/>
<rect x="281.0" y="24.7" width="1.62" height="1.62" fill="#eef8b4"/>
<rect x="281.0" y="40.9" width="1.62" height="1.62" fill="#eef8b4"/>
<rect x="282.4" y="67.9" width="1.62" height="1.62" fill="#c9e9b4"/>
<rect x="282.4" y="73.3" width="1.62" height="1.62" fill="#c9e9b4"/>
<rect x="283.7" y="71.9" width="1.62" height="1.62" fill="#c9e9b4"/>
<rect x="285.1" y="49.0" width="1.62" height="1.62" fill="#eef8b4"/>
<rect x="286.4" y="65.2" width="1.62" height="1.62" fill="#c9e9b4"/>
<rect x="286.4" y="66.5" width="1.62" height="1.62" fill="#eef8b4"/>
<rect x="286.4" y="69.2" width="1.62" height="1.62" fill="#c9e9b4"/>
<rect x="290.5" y="71.9" width="1.62" height="1.62" fill="#c9e9b4"/>
<rect x="291.8" y="24.7" width="1.62" height="1.62" fill="#eef8b4"/>
<rect x="291.8" y="65.2" width="1.62" height="1.62" fill="#eef8b4"/>
<rect x="293.2" y="43.6" width="1.62" height="1.62" fill="#c9e9b4"/>
<rect x="293.2" y="71.9" width="1.62" height="1.62" fill="#eef8b4"/>
<rect x="295.9" y="12.5" width="1.62" height="1.62" fill="#c9e9b4"/>
<rect x="295.9" y="61.1" width="1.62" height="1.62" fill="#c9e9b4"/>
<rect x="297.2" y="40.9" width="1.62" height="1.62" fill="#eef8b4"/>
<rect x="298.6" y="76.0" width="1.62" height="1.62" fill="#eef8b4"/>
<rect x="299.9" y="42.2" width="1.62" height="1.62" fill="#c9e9b4"/>
<rect x="299.9" y="51.7" width="1.62" height="1.62" fill="#c9e9b4"/>
<rect x="301.3" y="15.2" width="1.62" height="1.62" fill="#c9e9b4"/>
<rect x="301.3" y="54.4" width="1.62" height="1.62" fill="#c9e9b4"/>
<rect x="302.6" y="67.9" width="1.62" height="1.62" fill="#eef8b4"/>
<rect x="302.6" y="71.9" width="1.62" height="1.62" fill="#c9e9b4"/>
<rect x="304.0" y="49.0" width="1.62" height="1.62" fill="#eef8b4"/>
<rect x="305.3" y="39.5" width="1.62" height="1.62" fill="#eef8b4"/>
<rect x="306.7" y="23.3" width="1.62" height="1.62" fill="#c9e9b4"/>
<rect x="306.7" y="34.1" width="1.62" height="1.62" fill="#eef8b4"/>
<rect x="308.0" y="67.9" width="1.62" height="1.62" fill="#eef8b4"/>
<rect x="308.0" y="77.3" width="1.62" height="1.62" fill="#c9e9b4"/>
<rect x="312.1" y="22.0" width="1.62" height="1.62" fill="#c9e9b4"/>
<rect x="312.1" y="55.7" width="1.62" height="1.62" fill="#c9e9b4"/>
<rect x="313.4" y="63.8" width="1.62" height="1.62" fill="#c9e9b4"/>
<rect x="314.8" y="27.4" width="1.62" height="1.62" fill="#c9e9b4"/>
<rect x="314.8" y="36.8" width="1.62" height="1.62" fill="#c9e9b4"/>
<rect x="316.1" y="67.9" width="1.62" height="1.62" fill="#c9e9b4"/>
<rect x="317.5" y="31.4" width="1.62" height="1.62" fill="#c9e9b4"/>
<rect x="317.5" y="34.1" width="1.62" height="1.62" fill="#eef8b4"/>
<rect x="317.5" y="54.4" width="1.62" height="1.62" fill="#c9e9b4"/>
<rect x="318.8" y="43.6" width="1.62" height="1.62" fill="#c9e9b4"/>
<rect x="320.2" y="31.4" width="1.62" height="1.62" fill="#c9e9b4"/>
<rect x="320.2" y="51.7" width="1.62" height="1.62" fill="#c9e9b4"/>
<rect x="321.5" y="57.1" width="1.62" height="1.62" fill="#c9e9b4"/>
<rect x="321.5" y="74.6" width="1.62" height="1.62" fill="#c9e9b4"/>
<rect x="322.9" y="31.4" width="1.62" height="1.62" fill="#c9e9b4"/>
<rect x="324.2" y="44.9" width="1.62" height="1.62" fill="#eef8b4"/>
<rect x="324.2" y="55.7" width="1.62" height="1.62" fill="#eef8b4"/>
<rect x="325.6" y="54.4" width="1.62" height="1.62" fill="#eef8b4"/>
<rect x="325.6" y="55.7" width="1.62" height="1.62" fill="#c9e9b4"/>
<rect x="325.6" y="69.2" width="1.62" height="1.62" fill="#c9e9b4"/>
<rect x="329.6" y="16.6" width="1.62" height="1.62" fill="#eef8b4"/>
<rect x="331.0" y="57.1" width="1.62" height="1.62" fill="#c9e9b4"/>
<rect x="331.0" y="67.9" width="1.62" height="1.62" fill="#c9e9b4"/>
<rect x="331.0" y="73.3" width="1.62" height="1.62" fill="#c9e9b4"/>
<rect x="245.6" y="13.3" width="1.25" height="1.25" fill="#45b5c4"/>
<rect x="244.6" y="13.3" width="1.25" height="1.25" fill="#45b5c4"/>
<rect x="255.9" y="15.9" width="1.25" height="1.25" fill="#1b2a80"/>
<rect x="259.1" y="20.4" width="1.25" height="1.25" fill="#2460aa"/>
<rect x="260.1" y="21.4" width="1.25" height="1.25" fill="#2460aa"/>
<rect x="259.9" y="21.9" width="1.25" height="1.25" fill="#2460aa"/>
<rect x="259.9" y="22.9" width="1.25" height="1.25" fill="#2460aa"/>
<rect x="263.0" y="17.8" width="1.25" height="1.25" fill="#2460aa"/>
<rect x="262.0" y="17.8" width="1.25" height="1.25" fill="#2460aa"/>
<rect x="252.7" y="24.3" width="1.25" height="1.25" fill="#2460aa"/>
<rect x="252.7" y="25.3" width="1.25" height="1.25" fill="#2460aa"/>
<rect x="253.9" y="23.2" width="1.25" height="1.25" fill="#1f8fc0"/>
<rect x="253.9" y="22.2" width="1.25" height="1.25" fill="#1f8fc0"/>
<rect x="270.0" y="14.0" width="1.25" height="1.25" fill="#45b5c4"/>
<rect x="271.0" y="14.0" width="1.25" height="1.25" fill="#45b5c4"/>
<rect x="270.0" y="17.2" width="1.25" height="1.25" fill="#1b2a80"/>
<rect x="271.0" y="17.2" width="1.25" height="1.25" fill="#1b2a80"/>
<rect x="272.6" y="17.2" width="1.25" height="1.25" fill="#1b2a80"/>
<rect x="276.4" y="15.9" width="1.25" height="1.25" fill="#45b5c4"/>
<rect x="275.4" y="16.9" width="1.25" height="1.25" fill="#45b5c4"/>
<rect x="280.3" y="14.0" width="1.25" height="1.25" fill="#1b2a80"/>
<rect x="281.3" y="14.0" width="1.25" height="1.25" fill="#1b2a80"/>
<rect x="279.0" y="17.2" width="1.25" height="1.25" fill="#2460aa"/>
<rect x="279.0" y="18.2" width="1.25" height="1.25" fill="#2460aa"/>
<rect x="264.9" y="24.9" width="1.25" height="1.25" fill="#2460aa"/>
<rect x="265.9" y="25.4" width="1.25" height="1.25" fill="#2460aa"/>
<rect x="265.5" y="27.5" width="1.25" height="1.25" fill="#1b2a80"/>
<rect x="265.5" y="28.5" width="1.25" height="1.25" fill="#1b2a80"/>
<rect x="273.2" y="24.3" width="1.25" height="1.25" fill="#45b5c4"/>
<rect x="272.2" y="24.3" width="1.25" height="1.25" fill="#45b5c4"/>
<rect x="274.5" y="23.6" width="1.25" height="1.25" fill="#86cfba"/>
<rect x="273.5" y="23.6" width="1.25" height="1.25" fill="#86cfba"/>
<rect x="283.5" y="24.3" width="1.25" height="1.25" fill="#1b2a80"/>
<rect x="282.5" y="25.3" width="1.25" height="1.25" fill="#1b2a80"/>
<rect x="284.8" y="28.1" width="1.25" height="1.25" fill="#45b5c4"/>
<rect x="263.0" y="30.0" width="1.25" height="1.25" fill="#2460aa"/>
<rect x="272.0" y="31.3" width="1.25" height="1.25" fill="#1b2a80"/>
<rect x="272.0" y="30.3" width="1.25" height="1.25" fill="#1b2a80"/>
<rect x="264.9" y="33.2" width="1.25" height="1.25" fill="#1b2a80"/>
<rect x="264.9" y="34.2" width="1.25" height="1.25" fill="#1b2a80"/>
<rect x="262.3" y="36.5" width="1.25" height="1.25" fill="#2460aa"/>
<rect x="262.3" y="35.5" width="1.25" height="1.25" fill="#2460aa"/>
<rect x="262.9" y="37.4" width="1.25" height="1.25" fill="#2460aa"/>
<rect x="266.2" y="37.7" width="1.25" height="1.25" fill="#2460aa"/>
<rect x="271.3" y="35.2" width="1.25" height="1.25" fill="#1b2a80"/>
<rect x="272.3" y="35.2" width="1.25" height="1.25" fill="#1b2a80"/>
<rect x="270.0" y="41.6" width="1.25" height="1.25" fill="#45b5c4"/>
<rect x="264.9" y="44.2" width="1.25" height="1.25" fill="#2460aa"/>
<rect x="279.7" y="42.9" width="1.25" height="1.25" fill="#2460aa"/>
<rect x="280.7" y="42.9" width="1.25" height="1.25" fill="#2460aa"/>
<rect x="280.6" y="43.7" width="1.25" height="1.25" fill="#1f8fc0"/>
<rect x="280.6" y="44.7" width="1.25" height="1.25" fill="#1f8fc0"/>
<rect x="278.4" y="44.2" width="1.25" height="1.25" fill="#2460aa"/>
<rect x="277.9" y="41.6" width="1.25" height="1.25" fill="#2460aa"/>
<rect x="276.9" y="41.6" width="1.25" height="1.25" fill="#2460aa"/>
<rect x="281.2" y="41.6" width="1.25" height="1.25" fill="#1f8fc0"/>
<rect x="277.4" y="45.2" width="1.25" height="1.25" fill="#2460aa"/>
<rect x="276.4" y="45.2" width="1.25" height="1.25" fill="#2460aa"/>
<rect x="281.7" y="45.0" width="1.25" height="1.25" fill="#45b5c4"/>
<rect x="279.6" y="46.7" width="1.25" height="1.25" fill="#2460aa"/>
<rect x="278.6" y="46.7" width="1.25" height="1.25" fill="#2460aa"/>
<rect x="284.2" y="37.1" width="1.25" height="1.25" fill="#c9e9b4"/>
<rect x="283.2" y="38.1" width="1.25" height="1.25" fill="#c9e9b4"/>
<rect x="329.8" y="13.3" width="1.25" height="1.25" fill="#1b2a80"/>
<rect x="330.8" y="13.3" width="1.25" height="1.25" fill="#1b2a80"/>
<rect x="329.8" y="14.9" width="1.25" height="1.25" fill="#1b2a80"/>
<rect x="323.4" y="16.8" width="1.25" height="1.25" fill="#2460aa"/>
<rect x="324.4" y="17.8" width="1.25" height="1.25" fill="#2460aa"/>
<rect x="328.3" y="18.1" width="1.25" height="1.25" fill="#1b2a80"/>
<rect x="329.3" y="19.1" width="1.25" height="1.25" fill="#1b2a80"/>
<rect x="326.0" y="19.8" width="1.25" height="1.25" fill="#45b5c4"/>
<rect x="325.0" y="19.8" width="1.25" height="1.25" fill="#45b5c4"/>
<rect x="320.2" y="23.6" width="1.25" height="1.25" fill="#1b2a80"/>
<rect x="319.2" y="24.6" width="1.25" height="1.25" fill="#1b2a80"/>
<rect x="322.1" y="23.6" width="1.25" height="1.25" fill="#1b2a80"/>
<rect x="327.2" y="23.6" width="1.25" height="1.25" fill="#c9e9b4"/>
<rect x="321.1" y="26.2" width="1.25" height="1.25" fill="#2460aa"/>
<rect x="321.1" y="27.2" width="1.25" height="1.25" fill="#2460aa"/>
<rect x="324.7" y="26.2" width="1.25" height="1.25" fill="#45b5c4"/>
<rect x="323.7" y="26.2" width="1.25" height="1.25" fill="#45b5c4"/>
<rect x="300.3" y="29.4" width="1.25" height="1.25" fill="#2460aa"/>
<rect x="301.3" y="30.4" width="1.25" height="1.25" fill="#2460aa"/>
<rect x="301.2" y="30.2" width="1.25" height="1.25" fill="#1f8fc0"/>
<rect x="299.6" y="30.6" width="1.25" height="1.25" fill="#45b5c4"/>
<rect x="300.6" y="30.6" width="1.25" height="1.25" fill="#45b5c4"/>
<rect x="302.6" y="27.5" width="1.25" height="1.25" fill="#1b2a80"/>
<rect x="303.6" y="27.5" width="1.25" height="1.25" fill="#1b2a80"/>
<rect x="296.4" y="30.0" width="1.25" height="1.25" fill="#45b5c4"/>
<rect x="324.7" y="30.0" width="1.25" height="1.25" fill="#1b2a80"/>
<rect x="325.7" y="31.0" width="1.25" height="1.25" fill="#1b2a80"/>
<rect x="328.3" y="30.0" width="1.25" height="1.25" fill="#1b2a80"/>
<rect x="291.0" y="39.7" width="1.25" height="1.25" fill="#1b2a80"/>
<rect x="291.0" y="38.7" width="1.25" height="1.25" fill="#1b2a80"/>
<rect x="311.8" y="42.2" width="1.25" height="1.25" fill="#45b5c4"/>
<rect x="312.8" y="43.2" width="1.25" height="1.25" fill="#45b5c4"/>
<rect x="321.4" y="42.9" width="1.25" height="1.25" fill="#1f8fc0"/>
<rect x="322.2" y="43.7" width="1.25" height="1.25" fill="#2460aa"/>
<rect x="278.8" y="46.7" width="1.25" height="1.25" fill="#2460aa"/>
<rect x="279.8" y="46.7" width="1.25" height="1.25" fill="#2460aa"/>
<rect x="279.6" y="46.2" width="1.25" height="1.25" fill="#1f8fc0"/>
<rect x="278.6" y="47.2" width="1.25" height="1.25" fill="#1f8fc0"/>
<rect x="260.9" y="49.4" width="1.25" height="1.25" fill="#45b5c4"/>
<rect x="259.9" y="50.4" width="1.25" height="1.25" fill="#45b5c4"/>
<rect x="258.9" y="51.4" width="1.25" height="1.25" fill="#2460aa"/>
<rect x="259.9" y="51.4" width="1.25" height="1.25" fill="#2460aa"/>
<rect x="259.9" y="51.7" width="1.25" height="1.25" fill="#1f8fc0"/>
<rect x="258.9" y="52.7" width="1.25" height="1.25" fill="#1f8fc0"/>
<rect x="264.9" y="51.7" width="1.25" height="1.25" fill="#1b2a80"/>
<rect x="274.1" y="53.4" width="1.25" height="1.25" fill="#2460aa"/>
<rect x="274.1" y="52.4" width="1.25" height="1.25" fill="#2460aa"/>
<rect x="278.1" y="55.3" width="1.25" height="1.25" fill="#1b2a80"/>
<rect x="279.1" y="56.3" width="1.25" height="1.25" fill="#1b2a80"/>
<rect x="278.1" y="56.4" width="1.25" height="1.25" fill="#1b2a80"/>
<rect x="278.1" y="57.4" width="1.25" height="1.25" fill="#1b2a80"/>
<rect x="254.3" y="55.7" width="1.25" height="1.25" fill="#2460aa"/>
<rect x="260.9" y="55.7" width="1.25" height="1.25" fill="#1b2a80"/>
<rect x="260.9" y="56.7" width="1.25" height="1.25" fill="#1b2a80"/>
<rect x="263.6" y="54.7" width="1.25" height="1.25" fill="#45b5c4"/>
<rect x="272.8" y="56.0" width="1.25" height="1.25" fill="#1b2a80"/>
<rect x="246.6" y="58.6" width="1.25" height="1.25" fill="#1b2a80"/>
<rect x="255.6" y="59.9" width="1.25" height="1.25" fill="#2460aa"/>
<rect x="255.6" y="58.9" width="1.25" height="1.25" fill="#2460aa"/>
<rect x="251.9" y="63.3" width="1.25" height="1.25" fill="#2460aa"/>
<rect x="251.9" y="64.6" width="1.25" height="1.25" fill="#2460aa"/>
<rect x="258.3" y="62.6" width="1.25" height="1.25" fill="#1b2a80"/>
<rect x="258.3" y="61.6" width="1.25" height="1.25" fill="#1b2a80"/>
<rect x="262.2" y="61.5" width="1.25" height="1.25" fill="#2460aa"/>
<rect x="262.2" y="62.5" width="1.25" height="1.25" fill="#2460aa"/>
<rect x="275.2" y="61.3" width="1.25" height="1.25" fill="#1b2a80"/>
<rect x="275.2" y="60.3" width="1.25" height="1.25" fill="#1b2a80"/>
<rect x="284.5" y="62.6" width="1.25" height="1.25" fill="#1b2a80"/>
<rect x="258.3" y="66.6" width="1.25" height="1.25" fill="#2460aa"/>
<rect x="260.9" y="66.6" width="1.25" height="1.25" fill="#2460aa"/>
<rect x="260.9" y="67.6" width="1.25" height="1.25" fill="#2460aa"/>
<rect x="270.8" y="66.6" width="1.25" height="1.25" fill="#45b5c4"/>
<rect x="269.8" y="66.6" width="1.25" height="1.25" fill="#45b5c4"/>
<rect x="274.1" y="66.6" width="1.25" height="1.25" fill="#86cfba"/>
<rect x="278.8" y="66.6" width="1.25" height="1.25" fill="#2460aa"/>
<rect x="279.8" y="66.6" width="1.25" height="1.25" fill="#2460aa"/>
<rect x="281.4" y="66.6" width="1.25" height="1.25" fill="#45b5c4"/>
<rect x="282.4" y="67.6" width="1.25" height="1.25" fill="#45b5c4"/>
<rect x="267.5" y="68.5" width="1.25" height="1.25" fill="#45b5c4"/>
<rect x="267.5" y="69.5" width="1.25" height="1.25" fill="#45b5c4"/>
<rect x="263.6" y="70.5" width="1.25" height="1.25" fill="#45b5c4"/>
<rect x="284.7" y="68.5" width="1.25" height="1.25" fill="#c9e9b4"/>
<rect x="283.7" y="69.5" width="1.25" height="1.25" fill="#c9e9b4"/>
<rect x="267.5" y="73.2" width="1.25" height="1.25" fill="#2460aa"/>
<rect x="274.8" y="73.2" width="1.25" height="1.25" fill="#45b5c4"/>
<rect x="273.8" y="74.2" width="1.25" height="1.25" fill="#45b5c4"/>
<rect x="275.9" y="73.2" width="1.25" height="1.25" fill="#1f8fc0"/>
<rect x="275.9" y="74.2" width="1.25" height="1.25" fill="#1f8fc0"/>
<rect x="270.2" y="77.1" width="1.25" height="1.25" fill="#1b2a80"/>
<rect x="271.2" y="78.1" width="1.25" height="1.25" fill="#1b2a80"/>
<rect x="266.2" y="78.5" width="1.25" height="1.25" fill="#45b5c4"/>
<rect x="272.8" y="79.1" width="1.25" height="1.25" fill="#45b5c4"/>
<rect x="271.8" y="80.1" width="1.25" height="1.25" fill="#45b5c4"/>
<rect x="299.3" y="46.7" width="1.25" height="1.25" fill="#45b5c4"/>
<rect x="300.3" y="47.7" width="1.25" height="1.25" fill="#45b5c4"/>
<rect x="298.6" y="50.0" width="1.25" height="1.25" fill="#45b5c4"/>
<rect x="298.6" y="51.0" width="1.25" height="1.25" fill="#45b5c4"/>
<rect x="315.4" y="47.8" width="1.25" height="1.25" fill="#2460aa"/>
<rect x="327.7" y="49.1" width="1.25" height="1.25" fill="#45b5c4"/>
<rect x="328.7" y="49.1" width="1.25" height="1.25" fill="#45b5c4"/>
<rect x="328.9" y="49.1" width="1.25" height="1.25" fill="#1f8fc0"/>
<rect x="324.4" y="50.7" width="1.25" height="1.25" fill="#45b5c4"/>
<rect x="323.4" y="51.7" width="1.25" height="1.25" fill="#45b5c4"/>
<rect x="330.4" y="51.7" width="1.25" height="1.25" fill="#45b5c4"/>
<rect x="329.4" y="51.7" width="1.25" height="1.25" fill="#45b5c4"/>
<rect x="314.5" y="53.3" width="1.25" height="1.25" fill="#45b5c4"/>
<rect x="313.5" y="53.3" width="1.25" height="1.25" fill="#45b5c4"/>
<rect x="319.1" y="54.7" width="1.25" height="1.25" fill="#45b5c4"/>
<rect x="318.1" y="54.7" width="1.25" height="1.25" fill="#45b5c4"/>
<rect x="303.3" y="54.7" width="1.25" height="1.25" fill="#45b5c4"/>
<rect x="302.3" y="55.7" width="1.25" height="1.25" fill="#45b5c4"/>
<rect x="324.4" y="57.6" width="1.25" height="1.25" fill="#1b2a80"/>
<rect x="324.4" y="56.6" width="1.25" height="1.25" fill="#1b2a80"/>
<rect x="319.8" y="59.7" width="1.25" height="1.25" fill="#45b5c4"/>
<rect x="318.8" y="59.7" width="1.25" height="1.25" fill="#45b5c4"/>
<rect x="288.1" y="63.9" width="1.25" height="1.25" fill="#2460aa"/>
<rect x="289.1" y="63.9" width="1.25" height="1.25" fill="#2460aa"/>
<rect x="308.6" y="62.6" width="1.25" height="1.25" fill="#1b2a80"/>
<rect x="323.8" y="61.9" width="1.25" height="1.25" fill="#2460aa"/>
<rect x="322.4" y="63.9" width="1.25" height="1.25" fill="#2460aa"/>
<rect x="316.8" y="65.2" width="1.25" height="1.25" fill="#86cfba"/>
<rect x="316.8" y="64.2" width="1.25" height="1.25" fill="#86cfba"/>
<rect x="305.9" y="73.2" width="1.25" height="1.25" fill="#2460aa"/>
<rect x="306.9" y="74.2" width="1.25" height="1.25" fill="#2460aa"/>
<rect x="304.6" y="75.2" width="1.25" height="1.25" fill="#2460aa"/>
<rect x="304.9" y="77.8" width="1.25" height="1.25" fill="#1b2a80"/>
<rect x="303.9" y="77.8" width="1.25" height="1.25" fill="#1b2a80"/>
<rect x="303.3" y="79.6" width="1.25" height="1.25" fill="#2460aa"/>
<rect x="303.3" y="78.6" width="1.25" height="1.25" fill="#2460aa"/>
<rect x="306.6" y="79.6" width="1.25" height="1.25" fill="#2460aa"/>
<rect x="306.6" y="80.6" width="1.25" height="1.25" fill="#2460aa"/>
<rect x="317.8" y="77.8" width="1.25" height="1.25" fill="#c9e9b4"/>
<rect x="318.8" y="77.8" width="1.25" height="1.25" fill="#c9e9b4"/>
<rect x="243.2" y="12.5" width="89.3" height="68.8" fill="none" stroke="#7a7a7a" stroke-width="0.7"/>
<line x1="242.0" y1="12.8" x2="243.2" y2="12.8" stroke="#555" stroke-width="0.4"/>
<text x="241.6" y="14.1" text-anchor="end" class="hk">0</text>
<line x1="242.0" y1="21.8" x2="243.2" y2="21.8" stroke="#555" stroke-width="0.4"/>
<text x="241.6" y="23.1" text-anchor="end" class="hk">200</text>
<line x1="242.0" y1="30.8" x2="243.2" y2="30.8" stroke="#555" stroke-width="0.4"/>
<text x="241.6" y="32.1" text-anchor="end" class="hk">400</text>
<line x1="242.0" y1="39.8" x2="243.2" y2="39.8" stroke="#555" stroke-width="0.4"/>
<text x="241.6" y="41.1" text-anchor="end" class="hk">600</text>
<line x1="242.0" y1="48.8" x2="243.2" y2="48.8" stroke="#555" stroke-width="0.4"/>
<text x="241.6" y="50.1" text-anchor="end" class="hk">800</text>
<line x1="242.0" y1="57.8" x2="243.2" y2="57.8" stroke="#555" stroke-width="0.4"/>
<text x="241.6" y="59.1" text-anchor="end" class="hk">1000</text>
<line x1="242.0" y1="66.8" x2="243.2" y2="66.8" stroke="#555" stroke-width="0.4"/>
<text x="241.6" y="68.1" text-anchor="end" class="hk">1200</text>
<line x1="242.0" y1="75.8" x2="243.2" y2="75.8" stroke="#555" stroke-width="0.4"/>
<text x="241.6" y="77.1" text-anchor="end" class="hk">1400</text>
<line x1="244.3" y1="81.3" x2="244.3" y2="82.5" stroke="#555" stroke-width="0.4"/>
<text x="244.3" y="86.9" text-anchor="middle" class="hk">0</text>
<line x1="265.6" y1="81.3" x2="265.6" y2="82.5" stroke="#555" stroke-width="0.4"/>
<text x="265.6" y="86.9" text-anchor="middle" class="hk">500</text>
<line x1="286.9" y1="81.3" x2="286.9" y2="82.5" stroke="#555" stroke-width="0.4"/>
<text x="286.9" y="86.9" text-anchor="middle" class="hk">1000</text>
<line x1="308.2" y1="81.3" x2="308.2" y2="82.5" stroke="#555" stroke-width="0.4"/>
<text x="308.2" y="86.9" text-anchor="middle" class="hk">1500</text>
<line x1="329.5" y1="81.3" x2="329.5" y2="82.5" stroke="#555" stroke-width="0.4"/>
<text x="329.5" y="86.9" text-anchor="middle" class="hk">2000</text>
<linearGradient id="g1" x1="0" y1="1" x2="0" y2="0"><stop offset="0" stop-color="#ffffd9"/><stop offset="0.125" stop-color="#edf8b1"/><stop offset="0.25" stop-color="#c7e9b4"/><stop offset="0.375" stop-color="#7fcdbb"/><stop offset="0.5" stop-color="#41b6c4"/><stop offset="0.625" stop-color="#1d91c0"/><stop offset="0.75" stop-color="#225ea8"/><stop offset="0.875" stop-color="#253494"/><stop offset="1" stop-color="#081d58"/></linearGradient>
<rect x="338.0" y="10.0" width="3.6" height="74.5" fill="url(#g1)" stroke="#888" stroke-width="0.4"/>
<line x1="341.6" y1="84.3" x2="342.6" y2="84.3" stroke="#555" stroke-width="0.4"/>
<text x="343.2" y="85.6" class="hk">0.000</text>
<line x1="341.6" y1="73.2" x2="342.6" y2="73.2" stroke="#555" stroke-width="0.4"/>
<text x="343.2" y="74.5" class="hk">0.005</text>
<line x1="341.6" y1="62.2" x2="342.6" y2="62.2" stroke="#555" stroke-width="0.4"/>
<text x="343.2" y="63.5" class="hk">0.010</text>
<line x1="341.6" y1="51.1" x2="342.6" y2="51.1" stroke="#555" stroke-width="0.4"/>
<text x="343.2" y="52.4" class="hk">0.015</text>
<line x1="341.6" y1="40.1" x2="342.6" y2="40.1" stroke="#555" stroke-width="0.4"/>
<text x="343.2" y="41.4" class="hk">0.020</text>
<line x1="341.6" y1="29.0" x2="342.6" y2="29.0" stroke="#555" stroke-width="0.4"/>
<text x="343.2" y="30.3" class="hk">0.025</text>
<line x1="341.6" y1="18.0" x2="342.6" y2="18.0" stroke="#555" stroke-width="0.4"/>
<text x="343.2" y="19.3" class="hk">0.030</text>
<text x="290.9" y="9.2" text-anchor="middle" class="ht">Coral</text>
<rect x="243.2" y="102.5" width="90.4" height="70.9" fill="#fdfed8"/>
<rect x="245.9" y="161.9" width="1.62" height="1.62" fill="#eef8b4"/>
<rect x="247.2" y="128.1" width="1.62" height="1.62" fill="#eef8b4"/>
<rect x="247.2" y="155.1" width="1.62" height="1.62" fill="#c9e9b4"/>
<rect x="247.2" y="161.9" width="1.62" height="1.62" fill="#c9e9b4"/>
<rect x="247.2" y="168.6" width="1.62" height="1.62" fill="#c9e9b4"/>
<rect x="248.6" y="106.5" width="1.62" height="1.62" fill="#c9e9b4"/>
<rect x="249.9" y="170.0" width="1.62" height="1.62" fill="#c9e9b4"/>
<rect x="251.3" y="126.8" width="1.62" height="1.62" fill="#c9e9b4"/>
<rect x="252.6" y="103.8" width="1.62" height="1.62" fill="#c9e9b4"/>
<rect x="255.3" y="165.9" width="1.62" height="1.62" fill="#c9e9b4"/>
<rect x="256.7" y="120.0" width="1.62" height="1.62" fill="#eef8b4"/>
<rect x="259.4" y="132.2" width="1.62" height="1.62" fill="#c9e9b4"/>
<rect x="259.4" y="145.7" width="1.62" height="1.62" fill="#eef8b4"/>
<rect x="260.8" y="129.5" width="1.62" height="1.62" fill="#c9e9b4"/>
<rect x="262.1" y="122.7" width="1.62" height="1.62" fill="#c9e9b4"/>
<rect x="262.1" y="159.2" width="1.62" height="1.62" fill="#c9e9b4"/>
<rect x="264.8" y="144.3" width="1.62" height="1.62" fill="#c9e9b4"/>
<rect x="264.8" y="148.4" width="1.62" height="1.62" fill="#eef8b4"/>
<rect x="264.8" y="171.3" width="1.62" height="1.62" fill="#c9e9b4"/>
<rect x="266.2" y="161.9" width="1.62" height="1.62" fill="#c9e9b4"/>
<rect x="268.9" y="124.1" width="1.62" height="1.62" fill="#c9e9b4"/>
<rect x="270.2" y="147.0" width="1.62" height="1.62" fill="#c9e9b4"/>
<rect x="270.2" y="148.4" width="1.62" height="1.62" fill="#c9e9b4"/>
<rect x="270.2" y="152.4" width="1.62" height="1.62" fill="#c9e9b4"/>
<rect x="272.9" y="130.8" width="1.62" height="1.62" fill="#eef8b4"/>
<rect x="274.3" y="107.9" width="1.62" height="1.62" fill="#eef8b4"/>
<rect x="274.3" y="136.2" width="1.62" height="1.62" fill="#c9e9b4"/>
<rect x="275.6" y="141.6" width="1.62" height="1.62" fill="#c9e9b4"/>
<rect x="275.6" y="143.0" width="1.62" height="1.62" fill="#eef8b4"/>
<rect x="277.0" y="117.3" width="1.62" height="1.62" fill="#c9e9b4"/>
<rect x="277.0" y="122.7" width="1.62" height="1.62" fill="#c9e9b4"/>
<rect x="278.3" y="156.5" width="1.62" height="1.62" fill="#eef8b4"/>
<rect x="278.3" y="170.0" width="1.62" height="1.62" fill="#eef8b4"/>
<rect x="279.7" y="171.3" width="1.62" height="1.62" fill="#c9e9b4"/>
<rect x="281.0" y="117.3" width="1.62" height="1.62" fill="#eef8b4"/>
<rect x="282.4" y="129.5" width="1.62" height="1.62" fill="#eef8b4"/>
<rect x="282.4" y="132.2" width="1.62" height="1.62" fill="#c9e9b4"/>
<rect x="285.1" y="129.5" width="1.62" height="1.62" fill="#eef8b4"/>
<rect x="285.1" y="144.3" width="1.62" height="1.62" fill="#c9e9b4"/>
<rect x="287.8" y="129.5" width="1.62" height="1.62" fill="#c9e9b4"/>
<rect x="289.1" y="161.9" width="1.62" height="1.62" fill="#eef8b4"/>
<rect x="290.5" y="126.8" width="1.62" height="1.62" fill="#eef8b4"/>
<rect x="291.8" y="114.6" width="1.62" height="1.62" fill="#c9e9b4"/>
<rect x="291.8" y="149.7" width="1.62" height="1.62" fill="#c9e9b4"/>
<rect x="294.5" y="111.9" width="1.62" height="1.62" fill="#c9e9b4"/>
<rect x="294.5" y="147.0" width="1.62" height="1.62" fill="#c9e9b4"/>
<rect x="295.9" y="120.0" width="1.62" height="1.62" fill="#c9e9b4"/>
<rect x="295.9" y="138.9" width="1.62" height="1.62" fill="#c9e9b4"/>
<rect x="297.2" y="111.9" width="1.62" height="1.62" fill="#eef8b4"/>
<rect x="297.2" y="167.3" width="1.62" height="1.62" fill="#c9e9b4"/>
<rect x="298.6" y="105.2" width="1.62" height="1.62" fill="#eef8b4"/>
<rect x="298.6" y="153.8" width="1.62" height="1.62" fill="#eef8b4"/>
<rect x="299.9" y="151.1" width="1.62" height="1.62" fill="#eef8b4"/>
<rect x="302.6" y="156.5" width="1.62" height="1.62" fill="#c9e9b4"/>
<rect x="304.0" y="106.5" width="1.62" height="1.62" fill="#eef8b4"/>
<rect x="306.7" y="128.1" width="1.62" height="1.62" fill="#eef8b4"/>
<rect x="308.0" y="144.3" width="1.62" height="1.62" fill="#eef8b4"/>
<rect x="308.0" y="152.4" width="1.62" height="1.62" fill="#eef8b4"/>
<rect x="309.4" y="120.0" width="1.62" height="1.62" fill="#eef8b4"/>
<rect x="310.7" y="128.1" width="1.62" height="1.62" fill="#c9e9b4"/>
<rect x="310.7" y="160.5" width="1.62" height="1.62" fill="#eef8b4"/>
<rect x="312.1" y="138.9" width="1.62" height="1.62" fill="#c9e9b4"/>
<rect x="312.1" y="157.8" width="1.62" height="1.62" fill="#c9e9b4"/>
<rect x="313.4" y="120.0" width="1.62" height="1.62" fill="#eef8b4"/>
<rect x="313.4" y="147.0" width="1.62" height="1.62" fill="#eef8b4"/>
<rect x="314.8" y="103.8" width="1.62" height="1.62" fill="#c9e9b4"/>
<rect x="314.8" y="114.6" width="1.62" height="1.62" fill="#eef8b4"/>
<rect x="314.8" y="171.3" width="1.62" height="1.62" fill="#eef8b4"/>
<rect x="316.1" y="105.2" width="1.62" height="1.62" fill="#eef8b4"/>
<rect x="317.5" y="103.8" width="1.62" height="1.62" fill="#c9e9b4"/>
<rect x="318.8" y="116.0" width="1.62" height="1.62" fill="#c9e9b4"/>
<rect x="320.2" y="117.3" width="1.62" height="1.62" fill="#eef8b4"/>
<rect x="320.2" y="128.1" width="1.62" height="1.62" fill="#c9e9b4"/>
<rect x="321.5" y="171.3" width="1.62" height="1.62" fill="#eef8b4"/>
<rect x="322.9" y="140.3" width="1.62" height="1.62" fill="#eef8b4"/>
<rect x="324.2" y="106.5" width="1.62" height="1.62" fill="#c9e9b4"/>
<rect x="326.9" y="125.4" width="1.62" height="1.62" fill="#c9e9b4"/>
<rect x="326.9" y="130.8" width="1.62" height="1.62" fill="#c9e9b4"/>
<rect x="328.3" y="161.9" width="1.62" height="1.62" fill="#eef8b4"/>
<rect x="331.0" y="130.8" width="1.62" height="1.62" fill="#c9e9b4"/>
<rect x="331.0" y="136.2" width="1.62" height="1.62" fill="#c9e9b4"/>
<rect x="267.4" y="134.8" width="1.62" height="1.62" fill="#86cfba"/>
<rect x="268.7" y="132.1" width="1.62" height="1.62" fill="#86cfba"/>
<rect x="268.7" y="133.5" width="1.62" height="1.62" fill="#86cfba"/>
<rect x="268.7" y="134.8" width="1.62" height="1.62" fill="#eef8b4"/>
<rect x="270.1" y="133.5" width="1.62" height="1.62" fill="#c9e9b4"/>
<rect x="270.1" y="134.8" width="1.62" height="1.62" fill="#eef8b4"/>
<rect x="270.1" y="141.6" width="1.62" height="1.62" fill="#c9e9b4"/>
<rect x="270.1" y="144.3" width="1.62" height="1.62" fill="#86cfba"/>
<rect x="270.1" y="145.6" width="1.62" height="1.62" fill="#c9e9b4"/>
<rect x="271.4" y="129.4" width="1.62" height="1.62" fill="#86cfba"/>
<rect x="271.4" y="130.8" width="1.62" height="1.62" fill="#c9e9b4"/>
<rect x="271.4" y="134.8" width="1.62" height="1.62" fill="#86cfba"/>
<rect x="271.4" y="141.6" width="1.62" height="1.62" fill="#eef8b4"/>
<rect x="271.4" y="142.9" width="1.62" height="1.62" fill="#c9e9b4"/>
<rect x="271.4" y="144.3" width="1.62" height="1.62" fill="#c9e9b4"/>
<rect x="272.8" y="129.4" width="1.62" height="1.62" fill="#c9e9b4"/>
<rect x="272.8" y="132.1" width="1.62" height="1.62" fill="#c9e9b4"/>
<rect x="272.8" y="134.8" width="1.62" height="1.62" fill="#eef8b4"/>
<rect x="272.8" y="138.9" width="1.62" height="1.62" fill="#c9e9b4"/>
<rect x="272.8" y="141.6" width="1.62" height="1.62" fill="#c9e9b4"/>
<rect x="272.8" y="142.9" width="1.62" height="1.62" fill="#c9e9b4"/>
<rect x="272.8" y="145.6" width="1.62" height="1.62" fill="#c9e9b4"/>
<rect x="272.8" y="147.0" width="1.62" height="1.62" fill="#c9e9b4"/>
<rect x="274.1" y="132.1" width="1.62" height="1.62" fill="#c9e9b4"/>
<rect x="274.1" y="134.8" width="1.62" height="1.62" fill="#c9e9b4"/>
<rect x="274.1" y="137.5" width="1.62" height="1.62" fill="#c9e9b4"/>
<rect x="274.1" y="147.0" width="1.62" height="1.62" fill="#c9e9b4"/>
<rect x="274.1" y="148.3" width="1.62" height="1.62" fill="#c9e9b4"/>
<rect x="275.5" y="126.7" width="1.62" height="1.62" fill="#c9e9b4"/>
<rect x="275.5" y="130.8" width="1.62" height="1.62" fill="#86cfba"/>
<rect x="275.5" y="134.8" width="1.62" height="1.62" fill="#86cfba"/>
<rect x="275.5" y="140.2" width="1.62" height="1.62" fill="#c9e9b4"/>
<rect x="275.5" y="141.6" width="1.62" height="1.62" fill="#86cfba"/>
<rect x="275.5" y="142.9" width="1.62" height="1.62" fill="#c9e9b4"/>
<rect x="275.5" y="147.0" width="1.62" height="1.62" fill="#eef8b4"/>
<rect x="275.5" y="149.7" width="1.62" height="1.62" fill="#c9e9b4"/>
<rect x="276.8" y="125.4" width="1.62" height="1.62" fill="#86cfba"/>
<rect x="276.8" y="129.4" width="1.62" height="1.62" fill="#c9e9b4"/>
<rect x="276.8" y="142.9" width="1.62" height="1.62" fill="#86cfba"/>
<rect x="276.8" y="149.7" width="1.62" height="1.62" fill="#c9e9b4"/>
<rect x="276.8" y="151.0" width="1.62" height="1.62" fill="#eef8b4"/>
<rect x="278.2" y="126.7" width="1.62" height="1.62" fill="#c9e9b4"/>
<rect x="278.2" y="129.4" width="1.62" height="1.62" fill="#eef8b4"/>
<rect x="278.2" y="130.8" width="1.62" height="1.62" fill="#c9e9b4"/>
<rect x="278.2" y="145.6" width="1.62" height="1.62" fill="#c9e9b4"/>
<rect x="278.2" y="147.0" width="1.62" height="1.62" fill="#86cfba"/>
<rect x="279.5" y="126.7" width="1.62" height="1.62" fill="#c9e9b4"/>
<rect x="279.5" y="128.1" width="1.62" height="1.62" fill="#c9e9b4"/>
<rect x="279.5" y="130.8" width="1.62" height="1.62" fill="#86cfba"/>
<rect x="279.5" y="132.1" width="1.62" height="1.62" fill="#c9e9b4"/>
<rect x="279.5" y="133.5" width="1.62" height="1.62" fill="#86cfba"/>
<rect x="279.5" y="145.6" width="1.62" height="1.62" fill="#c9e9b4"/>
<rect x="279.5" y="148.3" width="1.62" height="1.62" fill="#86cfba"/>
<rect x="279.5" y="149.7" width="1.62" height="1.62" fill="#c9e9b4"/>
<rect x="280.9" y="125.4" width="1.62" height="1.62" fill="#86cfba"/>
<rect x="280.9" y="126.7" width="1.62" height="1.62" fill="#c9e9b4"/>
<rect x="280.9" y="129.4" width="1.62" height="1.62" fill="#c9e9b4"/>
<rect x="280.9" y="138.9" width="1.62" height="1.62" fill="#c9e9b4"/>
<rect x="280.9" y="144.3" width="1.62" height="1.62" fill="#c9e9b4"/>
<rect x="280.9" y="151.0" width="1.62" height="1.62" fill="#c9e9b4"/>
<rect x="282.2" y="124.0" width="1.62" height="1.62" fill="#eef8b4"/>
<rect x="282.2" y="128.1" width="1.62" height="1.62" fill="#c9e9b4"/>
<rect x="282.2" y="132.1" width="1.62" height="1.62" fill="#86cfba"/>
<rect x="282.2" y="133.5" width="1.62" height="1.62" fill="#86cfba"/>
<rect x="282.2" y="134.8" width="1.62" height="1.62" fill="#c9e9b4"/>
<rect x="282.2" y="136.2" width="1.62" height="1.62" fill="#c9e9b4"/>
<rect x="282.2" y="138.9" width="1.62" height="1.62" fill="#c9e9b4"/>
<rect x="282.2" y="140.2" width="1.62" height="1.62" fill="#c9e9b4"/>
<rect x="282.2" y="141.6" width="1.62" height="1.62" fill="#c9e9b4"/>
<rect x="282.2" y="144.3" width="1.62" height="1.62" fill="#c9e9b4"/>
<rect x="282.2" y="147.0" width="1.62" height="1.62" fill="#eef8b4"/>
<rect x="282.2" y="149.7" width="1.62" height="1.62" fill="#c9e9b4"/>
<rect x="283.6" y="133.5" width="1.62" height="1.62" fill="#c9e9b4"/>
<rect x="283.6" y="137.5" width="1.62" height="1.62" fill="#c9e9b4"/>
<rect x="283.6" y="138.9" width="1.62" height="1.62" fill="#c9e9b4"/>
<rect x="283.6" y="140.2" width="1.62" height="1.62" fill="#c9e9b4"/>
<rect x="283.6" y="144.3" width="1.62" height="1.62" fill="#c9e9b4"/>
<rect x="283.6" y="149.7" width="1.62" height="1.62" fill="#eef8b4"/>
<rect x="284.9" y="122.7" width="1.62" height="1.62" fill="#c9e9b4"/>
<rect x="284.9" y="130.8" width="1.62" height="1.62" fill="#c9e9b4"/>
<rect x="284.9" y="132.1" width="1.62" height="1.62" fill="#86cfba"/>
<rect x="284.9" y="133.5" width="1.62" height="1.62" fill="#c9e9b4"/>
<rect x="284.9" y="136.2" width="1.62" height="1.62" fill="#86cfba"/>
<rect x="284.9" y="140.2" width="1.62" height="1.62" fill="#86cfba"/>
<rect x="284.9" y="141.6" width="1.62" height="1.62" fill="#c9e9b4"/>
<rect x="284.9" y="142.9" width="1.62" height="1.62" fill="#eef8b4"/>
<rect x="284.9" y="144.3" width="1.62" height="1.62" fill="#86cfba"/>
<rect x="284.9" y="148.3" width="1.62" height="1.62" fill="#c9e9b4"/>
<rect x="284.9" y="149.7" width="1.62" height="1.62" fill="#c9e9b4"/>
<rect x="286.3" y="122.7" width="1.62" height="1.62" fill="#c9e9b4"/>
<rect x="286.3" y="125.4" width="1.62" height="1.62" fill="#eef8b4"/>
<rect x="286.3" y="126.7" width="1.62" height="1.62" fill="#c9e9b4"/>
<rect x="286.3" y="129.4" width="1.62" height="1.62" fill="#eef8b4"/>
<rect x="286.3" y="133.5" width="1.62" height="1.62" fill="#c9e9b4"/>
<rect x="286.3" y="137.5" width="1.62" height="1.62" fill="#c9e9b4"/>
<rect x="286.3" y="142.9" width="1.62" height="1.62" fill="#86cfba"/>
<rect x="286.3" y="144.3" width="1.62" height="1.62" fill="#86cfba"/>
<rect x="286.3" y="145.6" width="1.62" height="1.62" fill="#c9e9b4"/>
<rect x="286.3" y="147.0" width="1.62" height="1.62" fill="#c9e9b4"/>
<rect x="286.3" y="148.3" width="1.62" height="1.62" fill="#86cfba"/>
<rect x="286.3" y="151.0" width="1.62" height="1.62" fill="#c9e9b4"/>
<rect x="286.3" y="152.4" width="1.62" height="1.62" fill="#c9e9b4"/>
<rect x="287.6" y="128.1" width="1.62" height="1.62" fill="#c9e9b4"/>
<rect x="287.6" y="129.4" width="1.62" height="1.62" fill="#86cfba"/>
<rect x="287.6" y="130.8" width="1.62" height="1.62" fill="#c9e9b4"/>
<rect x="287.6" y="132.1" width="1.62" height="1.62" fill="#eef8b4"/>
<rect x="287.6" y="141.6" width="1.62" height="1.62" fill="#c9e9b4"/>
<rect x="287.6" y="144.3" width="1.62" height="1.62" fill="#eef8b4"/>
<rect x="287.6" y="149.7" width="1.62" height="1.62" fill="#eef8b4"/>
<rect x="287.6" y="153.7" width="1.62" height="1.62" fill="#c9e9b4"/>
<rect x="289.0" y="121.3" width="1.62" height="1.62" fill="#c9e9b4"/>
<rect x="289.0" y="128.1" width="1.62" height="1.62" fill="#eef8b4"/>
<rect x="289.0" y="129.4" width="1.62" height="1.62" fill="#c9e9b4"/>
<rect x="289.0" y="133.5" width="1.62" height="1.62" fill="#c9e9b4"/>
<rect x="289.0" y="145.6" width="1.62" height="1.62" fill="#c9e9b4"/>
<rect x="290.3" y="125.4" width="1.62" height="1.62" fill="#86cfba"/>
<rect x="290.3" y="133.5" width="1.62" height="1.62" fill="#86cfba"/>
<rect x="290.3" y="137.5" width="1.62" height="1.62" fill="#86cfba"/>
<rect x="290.3" y="138.9" width="1.62" height="1.62" fill="#86cfba"/>
<rect x="290.3" y="141.6" width="1.62" height="1.62" fill="#c9e9b4"/>
<rect x="290.3" y="147.0" width="1.62" height="1.62" fill="#eef8b4"/>
<rect x="290.3" y="151.0" width="1.62" height="1.62" fill="#c9e9b4"/>
<rect x="290.3" y="152.4" width="1.62" height="1.62" fill="#c9e9b4"/>
<rect x="290.3" y="153.7" width="1.62" height="1.62" fill="#c9e9b4"/>
<rect x="291.7" y="125.4" width="1.62" height="1.62" fill="#c9e9b4"/>
<rect x="291.7" y="137.5" width="1.62" height="1.62" fill="#c9e9b4"/>
<rect x="291.7" y="138.9" width="1.62" height="1.62" fill="#c9e9b4"/>
<rect x="291.7" y="140.2" width="1.62" height="1.62" fill="#eef8b4"/>
<rect x="291.7" y="142.9" width="1.62" height="1.62" fill="#86cfba"/>
<rect x="291.7" y="144.3" width="1.62" height="1.62" fill="#eef8b4"/>
<rect x="291.7" y="145.6" width="1.62" height="1.62" fill="#eef8b4"/>
<rect x="291.7" y="148.3" width="1.62" height="1.62" fill="#86cfba"/>
<rect x="291.7" y="149.7" width="1.62" height="1.62" fill="#c9e9b4"/>
<rect x="291.7" y="151.0" width="1.62" height="1.62" fill="#c9e9b4"/>
<rect x="291.7" y="152.4" width="1.62" height="1.62" fill="#c9e9b4"/>
<rect x="293.0" y="121.3" width="1.62" height="1.62" fill="#c9e9b4"/>
<rect x="293.0" y="122.7" width="1.62" height="1.62" fill="#c9e9b4"/>
<rect x="293.0" y="124.0" width="1.62" height="1.62" fill="#c9e9b4"/>
<rect x="293.0" y="125.4" width="1.62" height="1.62" fill="#c9e9b4"/>
<rect x="293.0" y="128.1" width="1.62" height="1.62" fill="#86cfba"/>
<rect x="293.0" y="129.4" width="1.62" height="1.62" fill="#c9e9b4"/>
<rect x="293.0" y="133.5" width="1.62" height="1.62" fill="#c9e9b4"/>
<rect x="293.0" y="134.8" width="1.62" height="1.62" fill="#c9e9b4"/>
<rect x="293.0" y="137.5" width="1.62" height="1.62" fill="#c9e9b4"/>
<rect x="293.0" y="140.2" width="1.62" height="1.62" fill="#c9e9b4"/>
<rect x="293.0" y="141.6" width="1.62" height="1.62" fill="#c9e9b4"/>
<rect x="293.0" y="142.9" width="1.62" height="1.62" fill="#86cfba"/>
<rect x="293.0" y="151.0" width="1.62" height="1.62" fill="#c9e9b4"/>
<rect x="293.0" y="152.4" width="1.62" height="1.62" fill="#eef8b4"/>
<rect x="293.0" y="153.7" width="1.62" height="1.62" fill="#c9e9b4"/>
<rect x="293.0" y="155.1" width="1.62" height="1.62" fill="#c9e9b4"/>
<rect x="294.4" y="124.0" width="1.62" height="1.62" fill="#eef8b4"/>
<rect x="294.4" y="126.7" width="1.62" height="1.62" fill="#c9e9b4"/>
<rect x="294.4" y="128.1" width="1.62" height="1.62" fill="#eef8b4"/>
<rect x="294.4" y="130.8" width="1.62" height="1.62" fill="#c9e9b4"/>
<rect x="294.4" y="137.5" width="1.62" height="1.62" fill="#86cfba"/>
<rect x="294.4" y="144.3" width="1.62" height="1.62" fill="#c9e9b4"/>
<rect x="294.4" y="147.0" width="1.62" height="1.62" fill="#c9e9b4"/>
<rect x="294.4" y="149.7" width="1.62" height="1.62" fill="#86cfba"/>
<rect x="294.4" y="155.1" width="1.62" height="1.62" fill="#c9e9b4"/>
<rect x="295.7" y="121.3" width="1.62" height="1.62" fill="#eef8b4"/>
<rect x="295.7" y="122.7" width="1.62" height="1.62" fill="#86cfba"/>
<rect x="295.7" y="125.4" width="1.62" height="1.62" fill="#c9e9b4"/>
<rect x="295.7" y="129.4" width="1.62" height="1.62" fill="#eef8b4"/>
<rect x="295.7" y="130.8" width="1.62" height="1.62" fill="#c9e9b4"/>
<rect x="295.7" y="132.1" width="1.62" height="1.62" fill="#c9e9b4"/>
<rect x="295.7" y="134.8" width="1.62" height="1.62" fill="#eef8b4"/>
<rect x="295.7" y="136.2" width="1.62" height="1.62" fill="#c9e9b4"/>
<rect x="295.7" y="138.9" width="1.62" height="1.62" fill="#86cfba"/>
<rect x="295.7" y="142.9" width="1.62" height="1.62" fill="#c9e9b4"/>
<rect x="295.7" y="144.3" width="1.62" height="1.62" fill="#eef8b4"/>
<rect x="295.7" y="148.3" width="1.62" height="1.62" fill="#c9e9b4"/>
<rect x="295.7" y="155.1" width="1.62" height="1.62" fill="#c9e9b4"/>
<rect x="297.1" y="122.7" width="1.62" height="1.62" fill="#c9e9b4"/>
<rect x="297.1" y="126.7" width="1.62" height="1.62" fill="#c9e9b4"/>
<rect x="297.1" y="128.1" width="1.62" height="1.62" fill="#c9e9b4"/>
<rect x="297.1" y="136.2" width="1.62" height="1.62" fill="#86cfba"/>
<rect x="297.1" y="138.9" width="1.62" height="1.62" fill="#86cfba"/>
<rect x="297.1" y="141.6" width="1.62" height="1.62" fill="#86cfba"/>
<rect x="297.1" y="145.6" width="1.62" height="1.62" fill="#eef8b4"/>
<rect x="297.1" y="149.7" width="1.62" height="1.62" fill="#c9e9b4"/>
<rect x="297.1" y="152.4" width="1.62" height="1.62" fill="#c9e9b4"/>
<rect x="297.1" y="153.7" width="1.62" height="1.62" fill="#c9e9b4"/>
<rect x="297.1" y="155.1" width="1.62" height="1.62" fill="#eef8b4"/>
<rect x="298.4" y="121.3" width="1.62" height="1.62" fill="#86cfba"/>
<rect x="298.4" y="125.4" width="1.62" height="1.62" fill="#c9e9b4"/>
<rect x="298.4" y="130.8" width="1.62" height="1.62" fill="#c9e9b4"/>
<rect x="298.4" y="134.8" width="1.62" height="1.62" fill="#86cfba"/>
<rect x="298.4" y="136.2" width="1.62" height="1.62" fill="#c9e9b4"/>
<rect x="298.4" y="140.2" width="1.62" height="1.62" fill="#eef8b4"/>
<rect x="298.4" y="144.3" width="1.62" height="1.62" fill="#eef8b4"/>
<rect x="298.4" y="145.6" width="1.62" height="1.62" fill="#86cfba"/>
<rect x="298.4" y="147.0" width="1.62" height="1.62" fill="#c9e9b4"/>
<rect x="298.4" y="148.3" width="1.62" height="1.62" fill="#eef8b4"/>
<rect x="299.8" y="126.7" width="1.62" height="1.62" fill="#c9e9b4"/>
<rect x="299.8" y="129.4" width="1.62" height="1.62" fill="#86cfba"/>
<rect x="299.8" y="136.2" width="1.62" height="1.62" fill="#86cfba"/>
<rect x="299.8" y="140.2" width="1.62" height="1.62" fill="#c9e9b4"/>
<rect x="299.8" y="144.3" width="1.62" height="1.62" fill="#86cfba"/>
<rect x="299.8" y="147.0" width="1.62" height="1.62" fill="#86cfba"/>
<rect x="301.1" y="121.3" width="1.62" height="1.62" fill="#86cfba"/>
<rect x="301.1" y="122.7" width="1.62" height="1.62" fill="#c9e9b4"/>
<rect x="301.1" y="128.1" width="1.62" height="1.62" fill="#c9e9b4"/>
<rect x="301.1" y="129.4" width="1.62" height="1.62" fill="#c9e9b4"/>
<rect x="301.1" y="130.8" width="1.62" height="1.62" fill="#c9e9b4"/>
<rect x="301.1" y="134.8" width="1.62" height="1.62" fill="#c9e9b4"/>
<rect x="301.1" y="137.5" width="1.62" height="1.62" fill="#c9e9b4"/>
<rect x="301.1" y="138.9" width="1.62" height="1.62" fill="#c9e9b4"/>
<rect x="301.1" y="142.9" width="1.62" height="1.62" fill="#86cfba"/>
<rect x="301.1" y="149.7" width="1.62" height="1.62" fill="#c9e9b4"/>
<rect x="301.1" y="152.4" width="1.62" height="1.62" fill="#c9e9b4"/>
<rect x="301.1" y="153.7" width="1.62" height="1.62" fill="#c9e9b4"/>
<rect x="301.1" y="155.1" width="1.62" height="1.62" fill="#c9e9b4"/>
<rect x="302.5" y="125.4" width="1.62" height="1.62" fill="#86cfba"/>
<rect x="302.5" y="126.7" width="1.62" height="1.62" fill="#c9e9b4"/>
<rect x="302.5" y="128.1" width="1.62" height="1.62" fill="#eef8b4"/>
<rect x="302.5" y="129.4" width="1.62" height="1.62" fill="#eef8b4"/>
<rect x="302.5" y="133.5" width="1.62" height="1.62" fill="#c9e9b4"/>
<rect x="302.5" y="138.9" width="1.62" height="1.62" fill="#c9e9b4"/>
<rect x="302.5" y="140.2" width="1.62" height="1.62" fill="#c9e9b4"/>
<rect x="302.5" y="141.6" width="1.62" height="1.62" fill="#eef8b4"/>
<rect x="302.5" y="145.6" width="1.62" height="1.62" fill="#c9e9b4"/>
<rect x="302.5" y="151.0" width="1.62" height="1.62" fill="#c9e9b4"/>
<rect x="303.8" y="124.0" width="1.62" height="1.62" fill="#c9e9b4"/>
<rect x="303.8" y="125.4" width="1.62" height="1.62" fill="#c9e9b4"/>
<rect x="303.8" y="126.7" width="1.62" height="1.62" fill="#c9e9b4"/>
<rect x="303.8" y="129.4" width="1.62" height="1.62" fill="#86cfba"/>
<rect x="303.8" y="132.1" width="1.62" height="1.62" fill="#c9e9b4"/>
<rect x="303.8" y="133.5" width="1.62" height="1.62" fill="#c9e9b4"/>
<rect x="303.8" y="136.2" width="1.62" height="1.62" fill="#c9e9b4"/>
<rect x="303.8" y="137.5" width="1.62" height="1.62" fill="#c9e9b4"/>
<rect x="303.8" y="142.9" width="1.62" height="1.62" fill="#86cfba"/>
<rect x="303.8" y="144.3" width="1.62" height="1.62" fill="#eef8b4"/>
<rect x="303.8" y="145.6" width="1.62" height="1.62" fill="#eef8b4"/>
<rect x="303.8" y="147.0" width="1.62" height="1.62" fill="#c9e9b4"/>
<rect x="303.8" y="149.7" width="1.62" height="1.62" fill="#86cfba"/>
<rect x="303.8" y="151.0" width="1.62" height="1.62" fill="#c9e9b4"/>
<rect x="303.8" y="152.4" width="1.62" height="1.62" fill="#86cfba"/>
<rect x="303.8" y="153.7" width="1.62" height="1.62" fill="#c9e9b4"/>
<rect x="305.2" y="130.8" width="1.62" height="1.62" fill="#86cfba"/>
<rect x="305.2" y="132.1" width="1.62" height="1.62" fill="#c9e9b4"/>
<rect x="305.2" y="136.2" width="1.62" height="1.62" fill="#c9e9b4"/>
<rect x="305.2" y="137.5" width="1.62" height="1.62" fill="#c9e9b4"/>
<rect x="305.2" y="140.2" width="1.62" height="1.62" fill="#c9e9b4"/>
<rect x="305.2" y="142.9" width="1.62" height="1.62" fill="#c9e9b4"/>
<rect x="305.2" y="145.6" width="1.62" height="1.62" fill="#c9e9b4"/>
<rect x="305.2" y="147.0" width="1.62" height="1.62" fill="#c9e9b4"/>
<rect x="305.2" y="148.3" width="1.62" height="1.62" fill="#86cfba"/>
<rect x="305.2" y="152.4" width="1.62" height="1.62" fill="#c9e9b4"/>
<rect x="306.5" y="122.7" width="1.62" height="1.62" fill="#c9e9b4"/>
<rect x="306.5" y="125.4" width="1.62" height="1.62" fill="#c9e9b4"/>
<rect x="306.5" y="126.7" width="1.62" height="1.62" fill="#eef8b4"/>
<rect x="306.5" y="128.1" width="1.62" height="1.62" fill="#c9e9b4"/>
<rect x="306.5" y="129.4" width="1.62" height="1.62" fill="#86cfba"/>
<rect x="306.5" y="133.5" width="1.62" height="1.62" fill="#eef8b4"/>
<rect x="306.5" y="137.5" width="1.62" height="1.62" fill="#eef8b4"/>
<rect x="306.5" y="138.9" width="1.62" height="1.62" fill="#c9e9b4"/>
<rect x="306.5" y="142.9" width="1.62" height="1.62" fill="#c9e9b4"/>
<rect x="306.5" y="144.3" width="1.62" height="1.62" fill="#eef8b4"/>
<rect x="306.5" y="151.0" width="1.62" height="1.62" fill="#eef8b4"/>
<rect x="306.5" y="152.4" width="1.62" height="1.62" fill="#c9e9b4"/>
<rect x="307.9" y="130.8" width="1.62" height="1.62" fill="#c9e9b4"/>
<rect x="307.9" y="132.1" width="1.62" height="1.62" fill="#c9e9b4"/>
<rect x="307.9" y="136.2" width="1.62" height="1.62" fill="#c9e9b4"/>
<rect x="307.9" y="140.2" width="1.62" height="1.62" fill="#c9e9b4"/>
<rect x="307.9" y="141.6" width="1.62" height="1.62" fill="#c9e9b4"/>
<rect x="307.9" y="142.9" width="1.62" height="1.62" fill="#c9e9b4"/>
<rect x="307.9" y="151.0" width="1.62" height="1.62" fill="#c9e9b4"/>
<rect x="307.9" y="152.4" width="1.62" height="1.62" fill="#c9e9b4"/>
<rect x="309.2" y="121.3" width="1.62" height="1.62" fill="#86cfba"/>
<rect x="309.2" y="122.7" width="1.62" height="1.62" fill="#86cfba"/>
<rect x="309.2" y="125.4" width="1.62" height="1.62" fill="#eef8b4"/>
<rect x="309.2" y="129.4" width="1.62" height="1.62" fill="#c9e9b4"/>
<rect x="309.2" y="130.8" width="1.62" height="1.62" fill="#86cfba"/>
<rect x="309.2" y="133.5" width="1.62" height="1.62" fill="#c9e9b4"/>
<rect x="309.2" y="144.3" width="1.62" height="1.62" fill="#c9e9b4"/>
<rect x="309.2" y="145.6" width="1.62" height="1.62" fill="#c9e9b4"/>
<rect x="309.2" y="147.0" width="1.62" height="1.62" fill="#c9e9b4"/>
<rect x="309.2" y="148.3" width="1.62" height="1.62" fill="#86cfba"/>
<rect x="309.2" y="153.7" width="1.62" height="1.62" fill="#eef8b4"/>
<rect x="309.2" y="155.1" width="1.62" height="1.62" fill="#c9e9b4"/>
<rect x="310.6" y="121.3" width="1.62" height="1.62" fill="#86cfba"/>
<rect x="310.6" y="122.7" width="1.62" height="1.62" fill="#c9e9b4"/>
<rect x="310.6" y="128.1" width="1.62" height="1.62" fill="#c9e9b4"/>
<rect x="310.6" y="129.4" width="1.62" height="1.62" fill="#c9e9b4"/>
<rect x="310.6" y="130.8" width="1.62" height="1.62" fill="#86cfba"/>
<rect x="310.6" y="132.1" width="1.62" height="1.62" fill="#c9e9b4"/>
<rect x="310.6" y="133.5" width="1.62" height="1.62" fill="#c9e9b4"/>
<rect x="310.6" y="136.2" width="1.62" height="1.62" fill="#eef8b4"/>
<rect x="310.6" y="141.6" width="1.62" height="1.62" fill="#86cfba"/>
<rect x="310.6" y="144.3" width="1.62" height="1.62" fill="#86cfba"/>
<rect x="310.6" y="147.0" width="1.62" height="1.62" fill="#eef8b4"/>
<rect x="310.6" y="149.7" width="1.62" height="1.62" fill="#c9e9b4"/>
<rect x="310.6" y="152.4" width="1.62" height="1.62" fill="#c9e9b4"/>
<rect x="311.9" y="125.4" width="1.62" height="1.62" fill="#c9e9b4"/>
<rect x="311.9" y="128.1" width="1.62" height="1.62" fill="#c9e9b4"/>
<rect x="311.9" y="132.1" width="1.62" height="1.62" fill="#eef8b4"/>
<rect x="311.9" y="133.5" width="1.62" height="1.62" fill="#eef8b4"/>
<rect x="311.9" y="136.2" width="1.62" height="1.62" fill="#c9e9b4"/>
<rect x="311.9" y="138.9" width="1.62" height="1.62" fill="#c9e9b4"/>
<rect x="311.9" y="142.9" width="1.62" height="1.62" fill="#c9e9b4"/>
<rect x="311.9" y="145.6" width="1.62" height="1.62" fill="#c9e9b4"/>
<rect x="311.9" y="148.3" width="1.62" height="1.62" fill="#c9e9b4"/>
<rect x="311.9" y="151.0" width="1.62" height="1.62" fill="#86cfba"/>
<rect x="311.9" y="153.7" width="1.62" height="1.62" fill="#c9e9b4"/>
<rect x="313.3" y="125.4" width="1.62" height="1.62" fill="#c9e9b4"/>
<rect x="313.3" y="128.1" width="1.62" height="1.62" fill="#c9e9b4"/>
<rect x="313.3" y="130.8" width="1.62" height="1.62" fill="#c9e9b4"/>
<rect x="313.3" y="132.1" width="1.62" height="1.62" fill="#c9e9b4"/>
<rect x="313.3" y="133.5" width="1.62" height="1.62" fill="#c9e9b4"/>
<rect x="313.3" y="136.2" width="1.62" height="1.62" fill="#eef8b4"/>
<rect x="313.3" y="138.9" width="1.62" height="1.62" fill="#c9e9b4"/>
<rect x="313.3" y="141.6" width="1.62" height="1.62" fill="#eef8b4"/>
<rect x="313.3" y="142.9" width="1.62" height="1.62" fill="#86cfba"/>
<rect x="313.3" y="145.6" width="1.62" height="1.62" fill="#c9e9b4"/>
<rect x="313.3" y="148.3" width="1.62" height="1.62" fill="#c9e9b4"/>
<rect x="313.3" y="153.7" width="1.62" height="1.62" fill="#c9e9b4"/>
<rect x="314.6" y="128.1" width="1.62" height="1.62" fill="#c9e9b4"/>
<rect x="314.6" y="132.1" width="1.62" height="1.62" fill="#c9e9b4"/>
<rect x="314.6" y="133.5" width="1.62" height="1.62" fill="#eef8b4"/>
<rect x="314.6" y="141.6" width="1.62" height="1.62" fill="#eef8b4"/>
<rect x="314.6" y="144.3" width="1.62" height="1.62" fill="#eef8b4"/>
<rect x="314.6" y="151.0" width="1.62" height="1.62" fill="#c9e9b4"/>
<rect x="314.6" y="153.7" width="1.62" height="1.62" fill="#eef8b4"/>
<rect x="316.0" y="124.0" width="1.62" height="1.62" fill="#c9e9b4"/>
<rect x="316.0" y="126.7" width="1.62" height="1.62" fill="#c9e9b4"/>
<rect x="316.0" y="128.1" width="1.62" height="1.62" fill="#86cfba"/>
<rect x="316.0" y="134.8" width="1.62" height="1.62" fill="#86cfba"/>
<rect x="316.0" y="140.2" width="1.62" height="1.62" fill="#c9e9b4"/>
<rect x="316.0" y="142.9" width="1.62" height="1.62" fill="#c9e9b4"/>
<rect x="316.0" y="147.0" width="1.62" height="1.62" fill="#eef8b4"/>
<rect x="316.0" y="152.4" width="1.62" height="1.62" fill="#c9e9b4"/>
<rect x="317.3" y="124.0" width="1.62" height="1.62" fill="#c9e9b4"/>
<rect x="317.3" y="126.7" width="1.62" height="1.62" fill="#c9e9b4"/>
<rect x="317.3" y="132.1" width="1.62" height="1.62" fill="#c9e9b4"/>
<rect x="317.3" y="142.9" width="1.62" height="1.62" fill="#eef8b4"/>
<rect x="317.3" y="145.6" width="1.62" height="1.62" fill="#c9e9b4"/>
<rect x="317.3" y="147.0" width="1.62" height="1.62" fill="#86cfba"/>
<rect x="317.3" y="151.0" width="1.62" height="1.62" fill="#c9e9b4"/>
<rect x="317.3" y="152.4" width="1.62" height="1.62" fill="#c9e9b4"/>
<rect x="318.7" y="124.0" width="1.62" height="1.62" fill="#86cfba"/>
<rect x="318.7" y="129.4" width="1.62" height="1.62" fill="#86cfba"/>
<rect x="318.7" y="130.8" width="1.62" height="1.62" fill="#c9e9b4"/>
<rect x="318.7" y="133.5" width="1.62" height="1.62" fill="#eef8b4"/>
<rect x="318.7" y="134.8" width="1.62" height="1.62" fill="#eef8b4"/>
<rect x="318.7" y="136.2" width="1.62" height="1.62" fill="#86cfba"/>
<rect x="318.7" y="137.5" width="1.62" height="1.62" fill="#c9e9b4"/>
<rect x="318.7" y="138.9" width="1.62" height="1.62" fill="#86cfba"/>
<rect x="318.7" y="148.3" width="1.62" height="1.62" fill="#c9e9b4"/>
<rect x="320.0" y="132.1" width="1.62" height="1.62" fill="#c9e9b4"/>
<rect x="320.0" y="136.2" width="1.62" height="1.62" fill="#86cfba"/>
<rect x="320.0" y="137.5" width="1.62" height="1.62" fill="#eef8b4"/>
<rect x="320.0" y="138.9" width="1.62" height="1.62" fill="#c9e9b4"/>
<rect x="320.0" y="140.2" width="1.62" height="1.62" fill="#c9e9b4"/>
<rect x="320.0" y="142.9" width="1.62" height="1.62" fill="#c9e9b4"/>
<rect x="320.0" y="147.0" width="1.62" height="1.62" fill="#c9e9b4"/>
<rect x="320.0" y="148.3" width="1.62" height="1.62" fill="#c9e9b4"/>
<rect x="321.4" y="125.4" width="1.62" height="1.62" fill="#c9e9b4"/>
<rect x="321.4" y="128.1" width="1.62" height="1.62" fill="#eef8b4"/>
<rect x="321.4" y="132.1" width="1.62" height="1.62" fill="#86cfba"/>
<rect x="321.4" y="134.8" width="1.62" height="1.62" fill="#c9e9b4"/>
<rect x="321.4" y="148.3" width="1.62" height="1.62" fill="#eef8b4"/>
<rect x="321.4" y="149.7" width="1.62" height="1.62" fill="#86cfba"/>
<rect x="322.7" y="126.7" width="1.62" height="1.62" fill="#86cfba"/>
<rect x="322.7" y="128.1" width="1.62" height="1.62" fill="#86cfba"/>
<rect x="322.7" y="133.5" width="1.62" height="1.62" fill="#86cfba"/>
<rect x="322.7" y="138.9" width="1.62" height="1.62" fill="#eef8b4"/>
<rect x="322.7" y="140.2" width="1.62" height="1.62" fill="#c9e9b4"/>
<rect x="322.7" y="141.6" width="1.62" height="1.62" fill="#c9e9b4"/>
<rect x="322.7" y="142.9" width="1.62" height="1.62" fill="#c9e9b4"/>
<rect x="324.1" y="133.5" width="1.62" height="1.62" fill="#c9e9b4"/>
<rect x="324.1" y="138.9" width="1.62" height="1.62" fill="#c9e9b4"/>
<rect x="324.1" y="144.3" width="1.62" height="1.62" fill="#c9e9b4"/>
<rect x="324.1" y="148.3" width="1.62" height="1.62" fill="#c9e9b4"/>
<rect x="324.1" y="149.7" width="1.62" height="1.62" fill="#eef8b4"/>
<rect x="325.4" y="132.1" width="1.62" height="1.62" fill="#eef8b4"/>
<rect x="325.4" y="134.8" width="1.62" height="1.62" fill="#c9e9b4"/>
<rect x="325.4" y="138.9" width="1.62" height="1.62" fill="#86cfba"/>
<rect x="325.4" y="140.2" width="1.62" height="1.62" fill="#c9e9b4"/>
<rect x="326.8" y="132.1" width="1.62" height="1.62" fill="#c9e9b4"/>
<rect x="326.8" y="141.6" width="1.62" height="1.62" fill="#c9e9b4"/>
<rect x="326.8" y="144.3" width="1.62" height="1.62" fill="#c9e9b4"/>
<rect x="326.8" y="147.0" width="1.62" height="1.62" fill="#c9e9b4"/>
<rect x="326.8" y="148.3" width="1.62" height="1.62" fill="#c9e9b4"/>
<rect x="328.1" y="129.4" width="1.62" height="1.62" fill="#c9e9b4"/>
<rect x="328.1" y="134.8" width="1.62" height="1.62" fill="#c9e9b4"/>
<rect x="328.1" y="137.5" width="1.62" height="1.62" fill="#86cfba"/>
<rect x="328.1" y="147.0" width="1.62" height="1.62" fill="#c9e9b4"/>
<rect x="329.5" y="129.4" width="1.62" height="1.62" fill="#eef8b4"/>
<rect x="329.5" y="130.8" width="1.62" height="1.62" fill="#c9e9b4"/>
<rect x="329.5" y="133.5" width="1.62" height="1.62" fill="#c9e9b4"/>
<rect x="329.5" y="142.9" width="1.62" height="1.62" fill="#eef8b4"/>
<rect x="330.8" y="136.2" width="1.62" height="1.62" fill="#86cfba"/>
<rect x="330.8" y="137.5" width="1.62" height="1.62" fill="#eef8b4"/>
<rect x="330.8" y="138.9" width="1.62" height="1.62" fill="#c9e9b4"/>
<rect x="332.2" y="134.8" width="1.62" height="1.62" fill="#c9e9b4"/>
<rect x="332.2" y="137.5" width="1.62" height="1.62" fill="#c9e9b4"/>
<rect x="264.7" y="114.4" width="1.62" height="1.62" fill="#c9e9b4"/>
<rect x="266.1" y="110.4" width="1.62" height="1.62" fill="#86cfba"/>
<rect x="266.1" y="113.1" width="1.62" height="1.62" fill="#c9e9b4"/>
<rect x="268.8" y="113.1" width="1.62" height="1.62" fill="#eef8b4"/>
<rect x="270.1" y="114.4" width="1.62" height="1.62" fill="#eef8b4"/>
<rect x="271.5" y="111.7" width="1.62" height="1.62" fill="#eef8b4"/>
<rect x="272.8" y="107.7" width="1.62" height="1.62" fill="#eef8b4"/>
<rect x="272.8" y="110.4" width="1.62" height="1.62" fill="#c9e9b4"/>
<rect x="274.2" y="110.4" width="1.62" height="1.62" fill="#86cfba"/>
<rect x="275.5" y="110.4" width="1.62" height="1.62" fill="#eef8b4"/>
<rect x="275.5" y="114.4" width="1.62" height="1.62" fill="#eef8b4"/>
<rect x="276.9" y="106.3" width="1.62" height="1.62" fill="#eef8b4"/>
<rect x="276.9" y="114.4" width="1.62" height="1.62" fill="#86cfba"/>
<rect x="278.2" y="106.3" width="1.62" height="1.62" fill="#c9e9b4"/>
<rect x="278.2" y="109.0" width="1.62" height="1.62" fill="#c9e9b4"/>
<rect x="278.2" y="110.4" width="1.62" height="1.62" fill="#c9e9b4"/>
<rect x="278.2" y="113.1" width="1.62" height="1.62" fill="#c9e9b4"/>
<rect x="278.2" y="114.4" width="1.62" height="1.62" fill="#c9e9b4"/>
<rect x="279.6" y="111.7" width="1.62" height="1.62" fill="#c9e9b4"/>
<rect x="279.6" y="115.8" width="1.62" height="1.62" fill="#eef8b4"/>
<rect x="280.9" y="110.4" width="1.62" height="1.62" fill="#86cfba"/>
<rect x="282.3" y="107.7" width="1.62" height="1.62" fill="#c9e9b4"/>
<rect x="282.3" y="110.4" width="1.62" height="1.62" fill="#c9e9b4"/>
<rect x="283.6" y="113.1" width="1.62" height="1.62" fill="#eef8b4"/>
<rect x="283.6" y="117.1" width="1.62" height="1.62" fill="#eef8b4"/>
<rect x="285.0" y="107.7" width="1.62" height="1.62" fill="#86cfba"/>
<rect x="285.0" y="113.1" width="1.62" height="1.62" fill="#c9e9b4"/>
<rect x="286.3" y="106.3" width="1.62" height="1.62" fill="#86cfba"/>
<rect x="286.3" y="107.7" width="1.62" height="1.62" fill="#86cfba"/>
<rect x="287.7" y="113.1" width="1.62" height="1.62" fill="#eef8b4"/>
<rect x="287.7" y="115.8" width="1.62" height="1.62" fill="#86cfba"/>
<rect x="287.7" y="117.1" width="1.62" height="1.62" fill="#c9e9b4"/>
<rect x="289.0" y="110.4" width="1.62" height="1.62" fill="#eef8b4"/>
<rect x="290.4" y="106.3" width="1.62" height="1.62" fill="#eef8b4"/>
<rect x="290.4" y="111.7" width="1.62" height="1.62" fill="#c9e9b4"/>
<rect x="290.4" y="114.4" width="1.62" height="1.62" fill="#eef8b4"/>
<rect x="290.4" y="118.5" width="1.62" height="1.62" fill="#eef8b4"/>
<rect x="291.7" y="109.0" width="1.62" height="1.62" fill="#eef8b4"/>
<rect x="291.7" y="111.7" width="1.62" height="1.62" fill="#eef8b4"/>
<rect x="291.7" y="113.1" width="1.62" height="1.62" fill="#c9e9b4"/>
<rect x="291.7" y="118.5" width="1.62" height="1.62" fill="#eef8b4"/>
<rect x="293.1" y="107.7" width="1.62" height="1.62" fill="#86cfba"/>
<rect x="293.1" y="111.7" width="1.62" height="1.62" fill="#c9e9b4"/>
<rect x="294.4" y="109.0" width="1.62" height="1.62" fill="#c9e9b4"/>
<rect x="294.4" y="117.1" width="1.62" height="1.62" fill="#eef8b4"/>
<rect x="295.8" y="106.3" width="1.62" height="1.62" fill="#eef8b4"/>
<rect x="295.8" y="111.7" width="1.62" height="1.62" fill="#c9e9b4"/>
<rect x="295.8" y="117.1" width="1.62" height="1.62" fill="#c9e9b4"/>
<rect x="297.1" y="106.3" width="1.62" height="1.62" fill="#eef8b4"/>
<rect x="297.1" y="109.0" width="1.62" height="1.62" fill="#eef8b4"/>
<rect x="298.5" y="113.1" width="1.62" height="1.62" fill="#eef8b4"/>
<rect x="298.5" y="115.8" width="1.62" height="1.62" fill="#eef8b4"/>
<rect x="299.8" y="109.0" width="1.62" height="1.62" fill="#eef8b4"/>
<rect x="299.8" y="113.1" width="1.62" height="1.62" fill="#eef8b4"/>
<rect x="299.8" y="114.4" width="1.62" height="1.62" fill="#eef8b4"/>
<rect x="301.2" y="111.7" width="1.62" height="1.62" fill="#86cfba"/>
<rect x="301.2" y="115.8" width="1.62" height="1.62" fill="#eef8b4"/>
<rect x="302.5" y="106.3" width="1.62" height="1.62" fill="#eef8b4"/>
<rect x="302.5" y="109.0" width="1.62" height="1.62" fill="#86cfba"/>
<rect x="302.5" y="113.1" width="1.62" height="1.62" fill="#86cfba"/>
<rect x="303.9" y="107.7" width="1.62" height="1.62" fill="#eef8b4"/>
<rect x="303.9" y="115.8" width="1.62" height="1.62" fill="#eef8b4"/>
<rect x="303.9" y="117.1" width="1.62" height="1.62" fill="#eef8b4"/>
<rect x="305.2" y="106.3" width="1.62" height="1.62" fill="#c9e9b4"/>
<rect x="305.2" y="111.7" width="1.62" height="1.62" fill="#c9e9b4"/>
<rect x="305.2" y="113.1" width="1.62" height="1.62" fill="#eef8b4"/>
<rect x="305.2" y="114.4" width="1.62" height="1.62" fill="#eef8b4"/>
<rect x="307.9" y="106.3" width="1.62" height="1.62" fill="#eef8b4"/>
<rect x="307.9" y="117.1" width="1.62" height="1.62" fill="#eef8b4"/>
<rect x="309.3" y="111.7" width="1.62" height="1.62" fill="#eef8b4"/>
<rect x="309.3" y="114.4" width="1.62" height="1.62" fill="#eef8b4"/>
<rect x="310.6" y="109.0" width="1.62" height="1.62" fill="#c9e9b4"/>
<rect x="310.6" y="111.7" width="1.62" height="1.62" fill="#c9e9b4"/>
<rect x="312.0" y="117.1" width="1.62" height="1.62" fill="#eef8b4"/>
<rect x="313.3" y="113.1" width="1.62" height="1.62" fill="#c9e9b4"/>
<rect x="316.0" y="110.4" width="1.62" height="1.62" fill="#c9e9b4"/>
<rect x="317.4" y="109.0" width="1.62" height="1.62" fill="#86cfba"/>
<rect x="317.4" y="113.1" width="1.62" height="1.62" fill="#86cfba"/>
<rect x="317.4" y="117.1" width="1.62" height="1.62" fill="#eef8b4"/>
<rect x="320.1" y="109.0" width="1.62" height="1.62" fill="#eef8b4"/>
<rect x="321.4" y="109.0" width="1.62" height="1.62" fill="#c9e9b4"/>
<rect x="321.4" y="111.7" width="1.62" height="1.62" fill="#86cfba"/>
<rect x="322.8" y="109.0" width="1.62" height="1.62" fill="#86cfba"/>
<rect x="322.8" y="113.1" width="1.62" height="1.62" fill="#86cfba"/>
<rect x="324.1" y="110.4" width="1.62" height="1.62" fill="#c9e9b4"/>
<rect x="328.2" y="110.4" width="1.62" height="1.62" fill="#eef8b4"/>
<rect x="259.4" y="146.7" width="1.62" height="1.62" fill="#0c2160"/>
<rect x="259.4" y="148.0" width="1.62" height="1.62" fill="#0c2160"/>
<rect x="259.4" y="150.7" width="1.62" height="1.62" fill="#1f8fc0"/>
<rect x="259.4" y="153.4" width="1.62" height="1.62" fill="#2460aa"/>
<rect x="260.7" y="145.3" width="1.62" height="1.62" fill="#0c2160"/>
<rect x="260.7" y="148.0" width="1.62" height="1.62" fill="#1f8fc0"/>
<rect x="260.7" y="149.4" width="1.62" height="1.62" fill="#1f8fc0"/>
<rect x="260.7" y="150.7" width="1.62" height="1.62" fill="#0c2160"/>
<rect x="260.7" y="152.1" width="1.62" height="1.62" fill="#2460aa"/>
<rect x="262.1" y="145.3" width="1.62" height="1.62" fill="#1f8fc0"/>
<rect x="262.1" y="146.7" width="1.62" height="1.62" fill="#0c2160"/>
<rect x="262.1" y="149.4" width="1.62" height="1.62" fill="#2460aa"/>
<rect x="262.1" y="150.7" width="1.62" height="1.62" fill="#0c2160"/>
<rect x="262.1" y="152.1" width="1.62" height="1.62" fill="#0c2160"/>
<rect x="262.1" y="153.4" width="1.62" height="1.62" fill="#1f8fc0"/>
<rect x="262.1" y="156.1" width="1.62" height="1.62" fill="#2460aa"/>
<rect x="263.4" y="146.7" width="1.62" height="1.62" fill="#0c2160"/>
<rect x="263.4" y="148.0" width="1.62" height="1.62" fill="#1f8fc0"/>
<rect x="263.4" y="149.4" width="1.62" height="1.62" fill="#1b2a80"/>
<rect x="263.4" y="150.7" width="1.62" height="1.62" fill="#2460aa"/>
<rect x="263.4" y="152.1" width="1.62" height="1.62" fill="#1b2a80"/>
<rect x="263.4" y="153.4" width="1.62" height="1.62" fill="#2460aa"/>
<rect x="263.4" y="154.8" width="1.62" height="1.62" fill="#2460aa"/>
<rect x="263.4" y="156.1" width="1.62" height="1.62" fill="#0c2160"/>
<rect x="263.4" y="157.5" width="1.62" height="1.62" fill="#0c2160"/>
<rect x="264.8" y="145.3" width="1.62" height="1.62" fill="#2460aa"/>
<rect x="264.8" y="146.7" width="1.62" height="1.62" fill="#1f8fc0"/>
<rect x="264.8" y="148.0" width="1.62" height="1.62" fill="#0c2160"/>
<rect x="264.8" y="149.4" width="1.62" height="1.62" fill="#1f8fc0"/>
<rect x="264.8" y="150.7" width="1.62" height="1.62" fill="#1f8fc0"/>
<rect x="264.8" y="152.1" width="1.62" height="1.62" fill="#1b2a80"/>
<rect x="264.8" y="153.4" width="1.62" height="1.62" fill="#0c2160"/>
<rect x="264.8" y="154.8" width="1.62" height="1.62" fill="#1f8fc0"/>
<rect x="264.8" y="157.5" width="1.62" height="1.62" fill="#0c2160"/>
<rect x="266.1" y="145.3" width="1.62" height="1.62" fill="#0c2160"/>
<rect x="266.1" y="146.7" width="1.62" height="1.62" fill="#0c2160"/>
<rect x="266.1" y="152.1" width="1.62" height="1.62" fill="#2460aa"/>
<rect x="266.1" y="153.4" width="1.62" height="1.62" fill="#1f8fc0"/>
<rect x="266.1" y="154.8" width="1.62" height="1.62" fill="#1b2a80"/>
<rect x="267.5" y="146.7" width="1.62" height="1.62" fill="#2460aa"/>
<rect x="267.5" y="148.0" width="1.62" height="1.62" fill="#1f8fc0"/>
<rect x="267.5" y="149.4" width="1.62" height="1.62" fill="#2460aa"/>
<rect x="267.5" y="150.7" width="1.62" height="1.62" fill="#1b2a80"/>
<rect x="267.5" y="152.1" width="1.62" height="1.62" fill="#1f8fc0"/>
<rect x="267.5" y="153.4" width="1.62" height="1.62" fill="#0c2160"/>
<rect x="267.5" y="156.1" width="1.62" height="1.62" fill="#0c2160"/>
<rect x="268.8" y="148.0" width="1.62" height="1.62" fill="#1f8fc0"/>
<rect x="268.8" y="149.4" width="1.62" height="1.62" fill="#2460aa"/>
<rect x="268.8" y="153.4" width="1.62" height="1.62" fill="#2460aa"/>
<rect x="260.4" y="143.3" width="1.62" height="1.62" fill="#1b2a80"/>
<rect x="260.4" y="144.7" width="1.62" height="1.62" fill="#2460aa"/>
<rect x="260.4" y="146.0" width="1.62" height="1.62" fill="#1b2a80"/>
<rect x="260.4" y="147.4" width="1.62" height="1.62" fill="#2460aa"/>
<rect x="261.7" y="143.3" width="1.62" height="1.62" fill="#1b2a80"/>
<rect x="261.7" y="144.7" width="1.62" height="1.62" fill="#2460aa"/>
<rect x="261.7" y="146.0" width="1.62" height="1.62" fill="#1b2a80"/>
<rect x="263.1" y="143.3" width="1.62" height="1.62" fill="#2460aa"/>
<rect x="263.1" y="146.0" width="1.62" height="1.62" fill="#2460aa"/>
<rect x="263.1" y="147.4" width="1.62" height="1.62" fill="#1b2a80"/>
<rect x="264.4" y="143.3" width="1.62" height="1.62" fill="#2460aa"/>
<rect x="264.4" y="146.0" width="1.62" height="1.62" fill="#2460aa"/>
<rect x="263.4" y="139.8" width="1.62" height="1.62" fill="#1f8fc0"/>
<rect x="263.4" y="141.2" width="1.62" height="1.62" fill="#2460aa"/>
<rect x="263.4" y="142.5" width="1.62" height="1.62" fill="#2460aa"/>
<rect x="264.7" y="141.2" width="1.62" height="1.62" fill="#2460aa"/>
<rect x="264.7" y="142.5" width="1.62" height="1.62" fill="#2460aa"/>
<rect x="266.1" y="139.8" width="1.62" height="1.62" fill="#1f8fc0"/>
<rect x="266.1" y="142.5" width="1.62" height="1.62" fill="#2460aa"/>
<rect x="267.4" y="139.8" width="1.62" height="1.62" fill="#1b2a80"/>
<rect x="267.4" y="141.2" width="1.62" height="1.62" fill="#1f8fc0"/>
<rect x="269.2" y="138.3" width="1.62" height="1.62" fill="#2460aa"/>
<rect x="270.6" y="138.3" width="1.62" height="1.62" fill="#1b2a80"/>
<rect x="273.3" y="138.3" width="1.62" height="1.62" fill="#1f8fc0"/>
<rect x="273.3" y="139.7" width="1.62" height="1.62" fill="#2460aa"/>
<rect x="273.4" y="138.3" width="1.62" height="1.62" fill="#1f8fc0"/>
<rect x="273.4" y="139.7" width="1.62" height="1.62" fill="#45b5c4"/>
<rect x="274.7" y="138.3" width="1.62" height="1.62" fill="#1f8fc0"/>
<rect x="274.7" y="139.7" width="1.62" height="1.62" fill="#1f8fc0"/>
<rect x="276.1" y="138.3" width="1.62" height="1.62" fill="#45b5c4"/>
<rect x="276.1" y="139.7" width="1.62" height="1.62" fill="#2460aa"/>
<rect x="278.4" y="140.7" width="1.62" height="1.62" fill="#1b2a80"/>
<rect x="279.7" y="139.3" width="1.62" height="1.62" fill="#45b5c4"/>
<rect x="279.7" y="140.7" width="1.62" height="1.62" fill="#45b5c4"/>
<rect x="281.1" y="140.7" width="1.62" height="1.62" fill="#2460aa"/>
<rect x="282.4" y="140.7" width="1.62" height="1.62" fill="#1b2a80"/>
<rect x="283.4" y="138.3" width="1.62" height="1.62" fill="#1f8fc0"/>
<rect x="283.4" y="139.7" width="1.62" height="1.62" fill="#1b2a80"/>
<rect x="284.7" y="138.3" width="1.62" height="1.62" fill="#2460aa"/>
<rect x="286.1" y="139.7" width="1.62" height="1.62" fill="#2460aa"/>
<rect x="287.4" y="138.3" width="1.62" height="1.62" fill="#1f8fc0"/>
<rect x="287.4" y="139.7" width="1.62" height="1.62" fill="#1f8fc0"/>
<rect x="288.4" y="135.0" width="1.62" height="1.62" fill="#2460aa"/>
<rect x="288.4" y="136.4" width="1.62" height="1.62" fill="#1b2a80"/>
<rect x="288.4" y="137.7" width="1.62" height="1.62" fill="#2460aa"/>
<rect x="289.7" y="133.7" width="1.62" height="1.62" fill="#2460aa"/>
<rect x="289.7" y="136.4" width="1.62" height="1.62" fill="#1b2a80"/>
<rect x="289.7" y="137.7" width="1.62" height="1.62" fill="#2460aa"/>
<rect x="291.1" y="133.7" width="1.62" height="1.62" fill="#1b2a80"/>
<rect x="291.1" y="136.4" width="1.62" height="1.62" fill="#2460aa"/>
<rect x="291.1" y="137.7" width="1.62" height="1.62" fill="#2460aa"/>
<rect x="292.4" y="135.0" width="1.62" height="1.62" fill="#2460aa"/>
<rect x="292.4" y="136.4" width="1.62" height="1.62" fill="#1f8fc0"/>
<rect x="290.4" y="125.3" width="1.62" height="1.62" fill="#1f8fc0"/>
<rect x="290.4" y="128.0" width="1.62" height="1.62" fill="#1b2a80"/>
<rect x="290.4" y="129.4" width="1.62" height="1.62" fill="#1f8fc0"/>
<rect x="290.4" y="130.7" width="1.62" height="1.62" fill="#2460aa"/>
<rect x="291.7" y="125.3" width="1.62" height="1.62" fill="#2460aa"/>
<rect x="293.1" y="126.7" width="1.62" height="1.62" fill="#1b2a80"/>
<rect x="293.1" y="129.4" width="1.62" height="1.62" fill="#1b2a80"/>
<rect x="270.4" y="141.3" width="1.62" height="1.62" fill="#45b5c4"/>
<rect x="271.7" y="141.3" width="1.62" height="1.62" fill="#1f8fc0"/>
<rect x="271.7" y="142.7" width="1.62" height="1.62" fill="#45b5c4"/>
<rect x="271.7" y="145.4" width="1.62" height="1.62" fill="#1f8fc0"/>
<rect x="273.1" y="145.4" width="1.62" height="1.62" fill="#45b5c4"/>
<rect x="274.4" y="141.3" width="1.62" height="1.62" fill="#45b5c4"/>
<rect x="274.4" y="144.0" width="1.62" height="1.62" fill="#1f8fc0"/>
<rect x="275.8" y="142.7" width="1.62" height="1.62" fill="#45b5c4"/>
<rect x="278.5" y="144.0" width="1.62" height="1.62" fill="#1f8fc0"/>
<rect x="277.4" y="148.4" width="1.62" height="1.62" fill="#2460aa"/>
<rect x="277.4" y="151.1" width="1.62" height="1.62" fill="#2460aa"/>
<rect x="277.4" y="152.4" width="1.62" height="1.62" fill="#86cfba"/>
<rect x="277.4" y="153.8" width="1.62" height="1.62" fill="#1f8fc0"/>
<rect x="277.4" y="155.1" width="1.62" height="1.62" fill="#86cfba"/>
<rect x="278.7" y="148.4" width="1.62" height="1.62" fill="#86cfba"/>
<rect x="278.7" y="149.7" width="1.62" height="1.62" fill="#2460aa"/>
<rect x="278.7" y="155.1" width="1.62" height="1.62" fill="#1f8fc0"/>
<rect x="278.7" y="156.5" width="1.62" height="1.62" fill="#45b5c4"/>
<rect x="280.1" y="144.3" width="1.62" height="1.62" fill="#1f8fc0"/>
<rect x="280.1" y="145.7" width="1.62" height="1.62" fill="#1f8fc0"/>
<rect x="280.1" y="155.1" width="1.62" height="1.62" fill="#86cfba"/>
<rect x="280.1" y="157.8" width="1.62" height="1.62" fill="#1f8fc0"/>
<rect x="281.4" y="144.3" width="1.62" height="1.62" fill="#45b5c4"/>
<rect x="281.4" y="147.0" width="1.62" height="1.62" fill="#45b5c4"/>
<rect x="281.4" y="149.7" width="1.62" height="1.62" fill="#2460aa"/>
<rect x="281.4" y="151.1" width="1.62" height="1.62" fill="#1f8fc0"/>
<rect x="281.4" y="159.2" width="1.62" height="1.62" fill="#45b5c4"/>
<rect x="282.8" y="148.4" width="1.62" height="1.62" fill="#86cfba"/>
<rect x="282.8" y="152.4" width="1.62" height="1.62" fill="#45b5c4"/>
<rect x="282.8" y="155.1" width="1.62" height="1.62" fill="#45b5c4"/>
<rect x="282.8" y="160.5" width="1.62" height="1.62" fill="#45b5c4"/>
<rect x="284.1" y="144.3" width="1.62" height="1.62" fill="#1f8fc0"/>
<rect x="284.1" y="145.7" width="1.62" height="1.62" fill="#86cfba"/>
<rect x="284.1" y="147.0" width="1.62" height="1.62" fill="#86cfba"/>
<rect x="284.1" y="149.7" width="1.62" height="1.62" fill="#1f8fc0"/>
<rect x="284.1" y="151.1" width="1.62" height="1.62" fill="#86cfba"/>
<rect x="284.1" y="153.8" width="1.62" height="1.62" fill="#45b5c4"/>
<rect x="285.5" y="152.4" width="1.62" height="1.62" fill="#2460aa"/>
<rect x="285.5" y="153.8" width="1.62" height="1.62" fill="#45b5c4"/>
<rect x="285.5" y="157.8" width="1.62" height="1.62" fill="#1f8fc0"/>
<rect x="285.5" y="159.2" width="1.62" height="1.62" fill="#2460aa"/>
<rect x="286.8" y="149.7" width="1.62" height="1.62" fill="#45b5c4"/>
<rect x="270.7" y="158.8" width="1.62" height="1.62" fill="#45b5c4"/>
<rect x="272.1" y="158.8" width="1.62" height="1.62" fill="#2460aa"/>
<rect x="284.4" y="110.7" width="1.62" height="1.62" fill="#1f8fc0"/>
<rect x="285.7" y="112.0" width="1.62" height="1.62" fill="#1f8fc0"/>
<rect x="287.1" y="112.0" width="1.62" height="1.62" fill="#1b2a80"/>
<rect x="287.1" y="113.4" width="1.62" height="1.62" fill="#2460aa"/>
<rect x="317.4" y="121.0" width="1.62" height="1.62" fill="#1f8fc0"/>
<rect x="317.4" y="125.1" width="1.62" height="1.62" fill="#1f8fc0"/>
<rect x="317.4" y="126.4" width="1.62" height="1.62" fill="#1f8fc0"/>
<rect x="318.7" y="119.7" width="1.62" height="1.62" fill="#45b5c4"/>
<rect x="318.7" y="122.4" width="1.62" height="1.62" fill="#2460aa"/>
<rect x="318.7" y="125.1" width="1.62" height="1.62" fill="#1f8fc0"/>
<rect x="318.7" y="127.8" width="1.62" height="1.62" fill="#1f8fc0"/>
<rect x="318.7" y="129.1" width="1.62" height="1.62" fill="#1f8fc0"/>
<rect x="318.7" y="130.5" width="1.62" height="1.62" fill="#45b5c4"/>
<rect x="320.1" y="119.7" width="1.62" height="1.62" fill="#1f8fc0"/>
<rect x="320.1" y="121.0" width="1.62" height="1.62" fill="#45b5c4"/>
<rect x="320.1" y="126.4" width="1.62" height="1.62" fill="#45b5c4"/>
<rect x="320.1" y="127.8" width="1.62" height="1.62" fill="#2460aa"/>
<rect x="320.1" y="129.1" width="1.62" height="1.62" fill="#1f8fc0"/>
<rect x="320.1" y="130.5" width="1.62" height="1.62" fill="#1f8fc0"/>
<rect x="321.4" y="118.3" width="1.62" height="1.62" fill="#1f8fc0"/>
<rect x="321.4" y="119.7" width="1.62" height="1.62" fill="#1f8fc0"/>
<rect x="321.4" y="123.7" width="1.62" height="1.62" fill="#45b5c4"/>
<rect x="321.4" y="126.4" width="1.62" height="1.62" fill="#1f8fc0"/>
<rect x="321.4" y="129.1" width="1.62" height="1.62" fill="#45b5c4"/>
<rect x="322.8" y="121.0" width="1.62" height="1.62" fill="#1f8fc0"/>
<rect x="322.8" y="126.4" width="1.62" height="1.62" fill="#45b5c4"/>
<rect x="322.8" y="127.8" width="1.62" height="1.62" fill="#1f8fc0"/>
<rect x="322.8" y="131.8" width="1.62" height="1.62" fill="#45b5c4"/>
<rect x="324.1" y="122.4" width="1.62" height="1.62" fill="#1f8fc0"/>
<rect x="324.1" y="123.7" width="1.62" height="1.62" fill="#1f8fc0"/>
<rect x="324.1" y="125.1" width="1.62" height="1.62" fill="#45b5c4"/>
<rect x="324.1" y="127.8" width="1.62" height="1.62" fill="#2460aa"/>
<rect x="324.1" y="130.5" width="1.62" height="1.62" fill="#45b5c4"/>
<rect x="325.5" y="119.7" width="1.62" height="1.62" fill="#2460aa"/>
<rect x="325.5" y="121.0" width="1.62" height="1.62" fill="#45b5c4"/>
<rect x="325.5" y="125.1" width="1.62" height="1.62" fill="#2460aa"/>
<rect x="325.5" y="126.4" width="1.62" height="1.62" fill="#45b5c4"/>
<rect x="325.5" y="130.5" width="1.62" height="1.62" fill="#2460aa"/>
<rect x="325.5" y="131.8" width="1.62" height="1.62" fill="#45b5c4"/>
<rect x="326.8" y="121.0" width="1.62" height="1.62" fill="#2460aa"/>
<rect x="326.8" y="125.1" width="1.62" height="1.62" fill="#45b5c4"/>
<rect x="326.8" y="126.4" width="1.62" height="1.62" fill="#45b5c4"/>
<rect x="328.2" y="118.3" width="1.62" height="1.62" fill="#1f8fc0"/>
<rect x="328.2" y="121.0" width="1.62" height="1.62" fill="#45b5c4"/>
<rect x="328.2" y="122.4" width="1.62" height="1.62" fill="#45b5c4"/>
<rect x="328.2" y="123.7" width="1.62" height="1.62" fill="#45b5c4"/>
<rect x="328.2" y="126.4" width="1.62" height="1.62" fill="#1f8fc0"/>
<rect x="328.2" y="127.8" width="1.62" height="1.62" fill="#45b5c4"/>
<rect x="329.5" y="119.7" width="1.62" height="1.62" fill="#45b5c4"/>
<rect x="329.5" y="121.0" width="1.62" height="1.62" fill="#2460aa"/>
<rect x="329.5" y="123.7" width="1.62" height="1.62" fill="#1f8fc0"/>
<rect x="329.5" y="126.4" width="1.62" height="1.62" fill="#1f8fc0"/>
<rect x="329.5" y="129.1" width="1.62" height="1.62" fill="#45b5c4"/>
<rect x="329.5" y="130.5" width="1.62" height="1.62" fill="#2460aa"/>
<rect x="330.9" y="126.4" width="1.62" height="1.62" fill="#1f8fc0"/>
<rect x="330.9" y="127.8" width="1.62" height="1.62" fill="#45b5c4"/>
<rect x="292.4" y="139.1" width="1.62" height="1.62" fill="#86cfba"/>
<rect x="292.4" y="144.5" width="1.62" height="1.62" fill="#86cfba"/>
<rect x="293.7" y="137.7" width="1.62" height="1.62" fill="#86cfba"/>
<rect x="293.7" y="139.1" width="1.62" height="1.62" fill="#1f8fc0"/>
<rect x="293.7" y="140.4" width="1.62" height="1.62" fill="#1f8fc0"/>
<rect x="293.7" y="141.8" width="1.62" height="1.62" fill="#1f8fc0"/>
<rect x="293.7" y="144.5" width="1.62" height="1.62" fill="#1f8fc0"/>
<rect x="295.1" y="137.7" width="1.62" height="1.62" fill="#1f8fc0"/>
<rect x="295.1" y="139.1" width="1.62" height="1.62" fill="#86cfba"/>
<rect x="295.1" y="141.8" width="1.62" height="1.62" fill="#1f8fc0"/>
<rect x="295.1" y="145.8" width="1.62" height="1.62" fill="#45b5c4"/>
<rect x="296.4" y="136.4" width="1.62" height="1.62" fill="#86cfba"/>
<rect x="296.4" y="139.1" width="1.62" height="1.62" fill="#45b5c4"/>
<rect x="296.4" y="140.4" width="1.62" height="1.62" fill="#45b5c4"/>
<rect x="296.4" y="141.8" width="1.62" height="1.62" fill="#86cfba"/>
<rect x="296.4" y="145.8" width="1.62" height="1.62" fill="#45b5c4"/>
<rect x="297.8" y="133.7" width="1.62" height="1.62" fill="#45b5c4"/>
<rect x="297.8" y="135.0" width="1.62" height="1.62" fill="#86cfba"/>
<rect x="297.8" y="137.7" width="1.62" height="1.62" fill="#86cfba"/>
<rect x="297.8" y="140.4" width="1.62" height="1.62" fill="#45b5c4"/>
<rect x="297.8" y="144.5" width="1.62" height="1.62" fill="#1f8fc0"/>
<rect x="297.8" y="145.8" width="1.62" height="1.62" fill="#86cfba"/>
<rect x="299.1" y="133.7" width="1.62" height="1.62" fill="#86cfba"/>
<rect x="299.1" y="137.7" width="1.62" height="1.62" fill="#1f8fc0"/>
<rect x="299.1" y="139.1" width="1.62" height="1.62" fill="#1f8fc0"/>
<rect x="299.1" y="144.5" width="1.62" height="1.62" fill="#45b5c4"/>
<rect x="299.1" y="147.2" width="1.62" height="1.62" fill="#86cfba"/>
<rect x="300.5" y="133.7" width="1.62" height="1.62" fill="#86cfba"/>
<rect x="300.5" y="139.1" width="1.62" height="1.62" fill="#86cfba"/>
<rect x="300.5" y="140.4" width="1.62" height="1.62" fill="#1f8fc0"/>
<rect x="300.5" y="143.1" width="1.62" height="1.62" fill="#45b5c4"/>
<rect x="300.5" y="144.5" width="1.62" height="1.62" fill="#1f8fc0"/>
<rect x="300.5" y="148.5" width="1.62" height="1.62" fill="#1f8fc0"/>
<rect x="301.8" y="133.7" width="1.62" height="1.62" fill="#1f8fc0"/>
<rect x="301.8" y="135.0" width="1.62" height="1.62" fill="#1f8fc0"/>
<rect x="301.8" y="136.4" width="1.62" height="1.62" fill="#1f8fc0"/>
<rect x="301.8" y="139.1" width="1.62" height="1.62" fill="#45b5c4"/>
<rect x="301.8" y="140.4" width="1.62" height="1.62" fill="#86cfba"/>
<rect x="301.8" y="144.5" width="1.62" height="1.62" fill="#45b5c4"/>
<rect x="303.2" y="135.0" width="1.62" height="1.62" fill="#45b5c4"/>
<rect x="303.2" y="137.7" width="1.62" height="1.62" fill="#86cfba"/>
<rect x="303.2" y="145.8" width="1.62" height="1.62" fill="#45b5c4"/>
<rect x="303.2" y="147.2" width="1.62" height="1.62" fill="#45b5c4"/>
<rect x="303.2" y="149.9" width="1.62" height="1.62" fill="#45b5c4"/>
<rect x="304.5" y="137.7" width="1.62" height="1.62" fill="#1f8fc0"/>
<rect x="304.5" y="140.4" width="1.62" height="1.62" fill="#1f8fc0"/>
<rect x="304.5" y="145.8" width="1.62" height="1.62" fill="#86cfba"/>
<rect x="304.5" y="147.2" width="1.62" height="1.62" fill="#1f8fc0"/>
<rect x="304.5" y="148.5" width="1.62" height="1.62" fill="#1f8fc0"/>
<rect x="305.9" y="132.3" width="1.62" height="1.62" fill="#86cfba"/>
<rect x="305.9" y="135.0" width="1.62" height="1.62" fill="#86cfba"/>
<rect x="305.9" y="140.4" width="1.62" height="1.62" fill="#86cfba"/>
<rect x="305.9" y="141.8" width="1.62" height="1.62" fill="#86cfba"/>
<rect x="305.9" y="143.1" width="1.62" height="1.62" fill="#86cfba"/>
<rect x="305.9" y="145.8" width="1.62" height="1.62" fill="#86cfba"/>
<rect x="305.9" y="148.5" width="1.62" height="1.62" fill="#1f8fc0"/>
<rect x="307.2" y="136.4" width="1.62" height="1.62" fill="#86cfba"/>
<rect x="307.2" y="140.4" width="1.62" height="1.62" fill="#86cfba"/>
<rect x="307.2" y="143.1" width="1.62" height="1.62" fill="#45b5c4"/>
<rect x="307.2" y="144.5" width="1.62" height="1.62" fill="#86cfba"/>
<rect x="307.2" y="145.8" width="1.62" height="1.62" fill="#1f8fc0"/>
<rect x="307.2" y="149.9" width="1.62" height="1.62" fill="#45b5c4"/>
<rect x="308.6" y="132.3" width="1.62" height="1.62" fill="#1f8fc0"/>
<rect x="308.6" y="135.0" width="1.62" height="1.62" fill="#1f8fc0"/>
<rect x="308.6" y="136.4" width="1.62" height="1.62" fill="#1f8fc0"/>
<rect x="308.6" y="139.1" width="1.62" height="1.62" fill="#1f8fc0"/>
<rect x="308.6" y="141.8" width="1.62" height="1.62" fill="#1f8fc0"/>
<rect x="308.6" y="144.5" width="1.62" height="1.62" fill="#86cfba"/>
<rect x="309.9" y="132.3" width="1.62" height="1.62" fill="#1f8fc0"/>
<rect x="309.9" y="135.0" width="1.62" height="1.62" fill="#86cfba"/>
<rect x="309.9" y="136.4" width="1.62" height="1.62" fill="#1f8fc0"/>
<rect x="309.9" y="137.7" width="1.62" height="1.62" fill="#45b5c4"/>
<rect x="309.9" y="139.1" width="1.62" height="1.62" fill="#86cfba"/>
<rect x="309.9" y="140.4" width="1.62" height="1.62" fill="#45b5c4"/>
<rect x="309.9" y="143.1" width="1.62" height="1.62" fill="#1f8fc0"/>
<rect x="309.9" y="144.5" width="1.62" height="1.62" fill="#86cfba"/>
<rect x="309.9" y="147.2" width="1.62" height="1.62" fill="#1f8fc0"/>
<rect x="311.3" y="132.3" width="1.62" height="1.62" fill="#86cfba"/>
<rect x="311.3" y="136.4" width="1.62" height="1.62" fill="#45b5c4"/>
<rect x="311.3" y="139.1" width="1.62" height="1.62" fill="#1f8fc0"/>
<rect x="311.3" y="140.4" width="1.62" height="1.62" fill="#1f8fc0"/>
<rect x="311.3" y="145.8" width="1.62" height="1.62" fill="#1f8fc0"/>
<rect x="311.3" y="148.5" width="1.62" height="1.62" fill="#86cfba"/>
<rect x="311.3" y="149.9" width="1.62" height="1.62" fill="#86cfba"/>
<rect x="312.6" y="136.4" width="1.62" height="1.62" fill="#86cfba"/>
<rect x="312.6" y="141.8" width="1.62" height="1.62" fill="#86cfba"/>
<rect x="312.6" y="144.5" width="1.62" height="1.62" fill="#86cfba"/>
<rect x="312.6" y="147.2" width="1.62" height="1.62" fill="#1f8fc0"/>
<rect x="312.6" y="149.9" width="1.62" height="1.62" fill="#45b5c4"/>
<rect x="314.0" y="132.3" width="1.62" height="1.62" fill="#45b5c4"/>
<rect x="314.0" y="136.4" width="1.62" height="1.62" fill="#45b5c4"/>
<rect x="314.0" y="137.7" width="1.62" height="1.62" fill="#1f8fc0"/>
<rect x="314.0" y="139.1" width="1.62" height="1.62" fill="#1f8fc0"/>
<rect x="314.0" y="140.4" width="1.62" height="1.62" fill="#86cfba"/>
<rect x="314.0" y="141.8" width="1.62" height="1.62" fill="#45b5c4"/>
<rect x="314.0" y="148.5" width="1.62" height="1.62" fill="#1f8fc0"/>
<rect x="315.3" y="136.4" width="1.62" height="1.62" fill="#45b5c4"/>
<rect x="315.3" y="139.1" width="1.62" height="1.62" fill="#86cfba"/>
<rect x="315.3" y="140.4" width="1.62" height="1.62" fill="#86cfba"/>
<rect x="315.3" y="141.8" width="1.62" height="1.62" fill="#45b5c4"/>
<rect x="315.3" y="147.2" width="1.62" height="1.62" fill="#45b5c4"/>
<rect x="315.3" y="149.9" width="1.62" height="1.62" fill="#86cfba"/>
<rect x="316.7" y="135.0" width="1.62" height="1.62" fill="#45b5c4"/>
<rect x="316.7" y="137.7" width="1.62" height="1.62" fill="#45b5c4"/>
<rect x="316.7" y="139.1" width="1.62" height="1.62" fill="#45b5c4"/>
<rect x="316.7" y="141.8" width="1.62" height="1.62" fill="#1f8fc0"/>
<rect x="316.7" y="147.2" width="1.62" height="1.62" fill="#86cfba"/>
<rect x="316.7" y="148.5" width="1.62" height="1.62" fill="#45b5c4"/>
<rect x="318.0" y="133.7" width="1.62" height="1.62" fill="#86cfba"/>
<rect x="318.0" y="135.0" width="1.62" height="1.62" fill="#45b5c4"/>
<rect x="318.0" y="136.4" width="1.62" height="1.62" fill="#86cfba"/>
<rect x="318.0" y="139.1" width="1.62" height="1.62" fill="#1f8fc0"/>
<rect x="318.0" y="141.8" width="1.62" height="1.62" fill="#1f8fc0"/>
<rect x="318.0" y="144.5" width="1.62" height="1.62" fill="#45b5c4"/>
<rect x="318.0" y="145.8" width="1.62" height="1.62" fill="#86cfba"/>
<rect x="318.0" y="148.5" width="1.62" height="1.62" fill="#86cfba"/>
<rect x="318.0" y="149.9" width="1.62" height="1.62" fill="#45b5c4"/>
<rect x="319.4" y="132.3" width="1.62" height="1.62" fill="#86cfba"/>
<rect x="319.4" y="133.7" width="1.62" height="1.62" fill="#86cfba"/>
<rect x="319.4" y="135.0" width="1.62" height="1.62" fill="#45b5c4"/>
<rect x="319.4" y="137.7" width="1.62" height="1.62" fill="#45b5c4"/>
<rect x="319.4" y="140.4" width="1.62" height="1.62" fill="#1f8fc0"/>
<rect x="319.4" y="141.8" width="1.62" height="1.62" fill="#45b5c4"/>
<rect x="319.4" y="143.1" width="1.62" height="1.62" fill="#1f8fc0"/>
<rect x="319.4" y="145.8" width="1.62" height="1.62" fill="#45b5c4"/>
<rect x="319.4" y="147.2" width="1.62" height="1.62" fill="#45b5c4"/>
<rect x="319.4" y="148.5" width="1.62" height="1.62" fill="#45b5c4"/>
<rect x="320.7" y="137.7" width="1.62" height="1.62" fill="#45b5c4"/>
<rect x="320.7" y="140.4" width="1.62" height="1.62" fill="#45b5c4"/>
<rect x="320.7" y="144.5" width="1.62" height="1.62" fill="#1f8fc0"/>
<rect x="320.7" y="147.2" width="1.62" height="1.62" fill="#86cfba"/>
<rect x="322.1" y="132.3" width="1.62" height="1.62" fill="#45b5c4"/>
<rect x="322.1" y="135.0" width="1.62" height="1.62" fill="#86cfba"/>
<rect x="322.1" y="136.4" width="1.62" height="1.62" fill="#1f8fc0"/>
<rect x="322.1" y="139.1" width="1.62" height="1.62" fill="#1f8fc0"/>
<rect x="322.1" y="140.4" width="1.62" height="1.62" fill="#86cfba"/>
<rect x="322.1" y="141.8" width="1.62" height="1.62" fill="#1f8fc0"/>
<rect x="322.1" y="143.1" width="1.62" height="1.62" fill="#86cfba"/>
<rect x="322.1" y="145.8" width="1.62" height="1.62" fill="#1f8fc0"/>
<rect x="322.1" y="147.2" width="1.62" height="1.62" fill="#45b5c4"/>
<rect x="322.1" y="148.5" width="1.62" height="1.62" fill="#45b5c4"/>
<rect x="323.4" y="135.0" width="1.62" height="1.62" fill="#1f8fc0"/>
<rect x="323.4" y="136.4" width="1.62" height="1.62" fill="#86cfba"/>
<rect x="323.4" y="139.1" width="1.62" height="1.62" fill="#1f8fc0"/>
<rect x="323.4" y="140.4" width="1.62" height="1.62" fill="#1f8fc0"/>
<rect x="323.4" y="143.1" width="1.62" height="1.62" fill="#1f8fc0"/>
<rect x="323.4" y="145.8" width="1.62" height="1.62" fill="#1f8fc0"/>
<rect x="323.4" y="147.2" width="1.62" height="1.62" fill="#1f8fc0"/>
<rect x="323.4" y="148.5" width="1.62" height="1.62" fill="#86cfba"/>
<rect x="324.8" y="136.4" width="1.62" height="1.62" fill="#86cfba"/>
<rect x="324.8" y="137.7" width="1.62" height="1.62" fill="#45b5c4"/>
<rect x="324.8" y="141.8" width="1.62" height="1.62" fill="#1f8fc0"/>
<rect x="324.8" y="143.1" width="1.62" height="1.62" fill="#45b5c4"/>
<rect x="324.8" y="145.8" width="1.62" height="1.62" fill="#45b5c4"/>
<rect x="324.8" y="147.2" width="1.62" height="1.62" fill="#1f8fc0"/>
<rect x="326.1" y="133.7" width="1.62" height="1.62" fill="#1f8fc0"/>
<rect x="326.1" y="137.7" width="1.62" height="1.62" fill="#1f8fc0"/>
<rect x="326.1" y="139.1" width="1.62" height="1.62" fill="#86cfba"/>
<rect x="326.1" y="141.8" width="1.62" height="1.62" fill="#86cfba"/>
<rect x="326.1" y="143.1" width="1.62" height="1.62" fill="#86cfba"/>
<rect x="327.5" y="135.0" width="1.62" height="1.62" fill="#1f8fc0"/>
<rect x="327.5" y="137.7" width="1.62" height="1.62" fill="#86cfba"/>
<rect x="327.5" y="139.1" width="1.62" height="1.62" fill="#45b5c4"/>
<rect x="327.5" y="140.4" width="1.62" height="1.62" fill="#86cfba"/>
<rect x="328.8" y="136.4" width="1.62" height="1.62" fill="#45b5c4"/>
<rect x="328.8" y="141.8" width="1.62" height="1.62" fill="#1f8fc0"/>
<rect x="328.8" y="143.1" width="1.62" height="1.62" fill="#45b5c4"/>
<rect x="328.8" y="144.5" width="1.62" height="1.62" fill="#45b5c4"/>
<rect x="328.8" y="145.8" width="1.62" height="1.62" fill="#1f8fc0"/>
<rect x="330.2" y="136.4" width="1.62" height="1.62" fill="#45b5c4"/>
<rect x="330.2" y="137.7" width="1.62" height="1.62" fill="#45b5c4"/>
<rect x="330.2" y="141.8" width="1.62" height="1.62" fill="#45b5c4"/>
<rect x="330.2" y="143.1" width="1.62" height="1.62" fill="#1f8fc0"/>
<rect x="330.2" y="145.8" width="1.62" height="1.62" fill="#1f8fc0"/>
<rect x="331.5" y="141.8" width="1.62" height="1.62" fill="#86cfba"/>
<rect x="331.5" y="143.1" width="1.62" height="1.62" fill="#86cfba"/>
<rect x="294.7" y="126.3" width="1.62" height="1.62" fill="#1f8fc0"/>
<rect x="294.7" y="129.0" width="1.62" height="1.62" fill="#1f8fc0"/>
<rect x="294.7" y="130.4" width="1.62" height="1.62" fill="#2460aa"/>
<rect x="294.7" y="133.1" width="1.62" height="1.62" fill="#45b5c4"/>
<rect x="296.1" y="126.3" width="1.62" height="1.62" fill="#45b5c4"/>
<rect x="297.4" y="127.7" width="1.62" height="1.62" fill="#86cfba"/>
<rect x="297.4" y="133.1" width="1.62" height="1.62" fill="#86cfba"/>
<rect x="298.8" y="127.7" width="1.62" height="1.62" fill="#86cfba"/>
<rect x="298.8" y="133.1" width="1.62" height="1.62" fill="#86cfba"/>
<rect x="300.1" y="126.3" width="1.62" height="1.62" fill="#86cfba"/>
<rect x="300.1" y="127.7" width="1.62" height="1.62" fill="#2460aa"/>
<rect x="300.1" y="131.7" width="1.62" height="1.62" fill="#1f8fc0"/>
<rect x="301.5" y="134.4" width="1.62" height="1.62" fill="#45b5c4"/>
<rect x="302.8" y="127.7" width="1.62" height="1.62" fill="#45b5c4"/>
<rect x="302.8" y="133.1" width="1.62" height="1.62" fill="#45b5c4"/>
<rect x="305.5" y="130.4" width="1.62" height="1.62" fill="#1f8fc0"/>
<rect x="305.5" y="131.7" width="1.62" height="1.62" fill="#45b5c4"/>
<rect x="306.9" y="129.0" width="1.62" height="1.62" fill="#45b5c4"/>
<rect x="307.4" y="155.7" width="1.62" height="1.62" fill="#86cfba"/>
<rect x="311.4" y="157.0" width="1.62" height="1.62" fill="#86cfba"/>
<rect x="312.8" y="154.3" width="1.62" height="1.62" fill="#86cfba"/>
<rect x="312.8" y="159.7" width="1.62" height="1.62" fill="#86cfba"/>
<rect x="314.1" y="159.7" width="1.62" height="1.62" fill="#c9e9b4"/>
<rect x="315.5" y="158.4" width="1.62" height="1.62" fill="#45b5c4"/>
<rect x="316.8" y="155.7" width="1.62" height="1.62" fill="#86cfba"/>
<rect x="316.8" y="158.4" width="1.62" height="1.62" fill="#86cfba"/>
<rect x="316.8" y="159.7" width="1.62" height="1.62" fill="#c9e9b4"/>
<rect x="319.5" y="154.3" width="1.62" height="1.62" fill="#45b5c4"/>
<rect x="319.5" y="158.4" width="1.62" height="1.62" fill="#c9e9b4"/>
<rect x="323.6" y="158.4" width="1.62" height="1.62" fill="#c9e9b4"/>
<rect x="324.9" y="154.3" width="1.62" height="1.62" fill="#86cfba"/>
<rect x="324.9" y="159.7" width="1.62" height="1.62" fill="#86cfba"/>
<rect x="326.3" y="154.3" width="1.62" height="1.62" fill="#86cfba"/>
<rect x="327.6" y="155.7" width="1.62" height="1.62" fill="#45b5c4"/>
<rect x="246.3" y="146.3" width="1.62" height="1.62" fill="#2460aa"/>
<rect x="247.7" y="149.0" width="1.62" height="1.62" fill="#45b5c4"/>
<rect x="249.0" y="149.0" width="1.62" height="1.62" fill="#45b5c4"/>
<rect x="251.7" y="146.3" width="1.62" height="1.62" fill="#45b5c4"/>
<rect x="251.7" y="149.0" width="1.62" height="1.62" fill="#45b5c4"/>
<rect x="268.4" y="111.4" width="1.62" height="1.62" fill="#2460aa"/>
<rect x="271.1" y="107.3" width="1.62" height="1.62" fill="#86cfba"/>
<rect x="271.1" y="112.7" width="1.62" height="1.62" fill="#45b5c4"/>
<rect x="277.8" y="112.7" width="1.62" height="1.62" fill="#2460aa"/>
<rect x="279.2" y="110.0" width="1.62" height="1.62" fill="#86cfba"/>
<rect x="279.2" y="111.4" width="1.62" height="1.62" fill="#2460aa"/>
<rect x="279.2" y="112.7" width="1.62" height="1.62" fill="#45b5c4"/>
<rect x="281.9" y="111.4" width="1.62" height="1.62" fill="#2460aa"/>
<rect x="283.2" y="107.3" width="1.62" height="1.62" fill="#45b5c4"/>
<rect x="284.6" y="110.0" width="1.62" height="1.62" fill="#2460aa"/>
<rect x="252.8" y="108.1" width="1.6" height="1.6" fill="#1b2a80"/>
<rect x="268.0" y="117.7" width="1.6" height="1.6" fill="#1b2a80"/>
<rect x="269.0" y="117.7" width="1.6" height="1.6" fill="#1b2a80"/>
<rect x="284.5" y="131.0" width="1.6" height="1.6" fill="#1b2a80"/>
<rect x="284.5" y="133.6" width="1.6" height="1.6" fill="#1f8fc0"/>
<rect x="284.5" y="135.6" width="1.6" height="1.6" fill="#2460aa"/>
<rect x="259.4" y="131.6" width="1.6" height="1.6" fill="#2460aa"/>
<rect x="270.0" y="136.2" width="1.6" height="1.6" fill="#2460aa"/>
<rect x="288.5" y="112.4" width="1.6" height="1.6" fill="#2460aa"/>
<rect x="288.5" y="114.4" width="1.6" height="1.6" fill="#1b2a80"/>
<rect x="329.5" y="111.1" width="1.6" height="1.6" fill="#45b5c4"/>
<rect x="329.5" y="113.1" width="1.6" height="1.6" fill="#2460aa"/>
<rect x="289.8" y="126.3" width="1.6" height="1.6" fill="#1b2a80"/>
<rect x="291.2" y="129.0" width="1.6" height="1.6" fill="#1b2a80"/>
<rect x="289.2" y="129.6" width="1.6" height="1.6" fill="#2460aa"/>
<rect x="292.5" y="129.6" width="1.6" height="1.6" fill="#1f8fc0"/>
<rect x="313.7" y="129.0" width="1.6" height="1.6" fill="#1b2a80"/>
<rect x="314.3" y="130.3" width="1.6" height="1.6" fill="#2460aa"/>
<rect x="319.4" y="156.2" width="1.6" height="1.6" fill="#45b5c4"/>
<rect x="323.6" y="154.8" width="1.6" height="1.6" fill="#45b5c4"/>
<rect x="304.0" y="163.9" width="1.6" height="1.6" fill="#45b5c4"/>
<rect x="310.2" y="171.7" width="1.6" height="1.6" fill="#1b2a80"/>
<rect x="275.7" y="165.2" width="1.6" height="1.6" fill="#45b5c4"/>
<rect x="284.5" y="105.8" width="1.6" height="1.6" fill="#2460aa"/>
<rect x="283.2" y="109.8" width="1.6" height="1.6" fill="#1b2a80"/>
<rect x="281.9" y="110.5" width="1.6" height="1.6" fill="#1f8fc0"/>
<rect x="243.2" y="102.5" width="90.4" height="70.9" fill="none" stroke="#7a7a7a" stroke-width="0.7"/>
<line x1="242.0" y1="102.8" x2="243.2" y2="102.8" stroke="#555" stroke-width="0.4"/>
<text x="241.6" y="104.1" text-anchor="end" class="hk">0</text>
<line x1="242.0" y1="112.0" x2="243.2" y2="112.0" stroke="#555" stroke-width="0.4"/>
<text x="241.6" y="113.3" text-anchor="end" class="hk">200</text>
<line x1="242.0" y1="121.1" x2="243.2" y2="121.1" stroke="#555" stroke-width="0.4"/>
<text x="241.6" y="122.4" text-anchor="end" class="hk">400</text>
<line x1="242.0" y1="130.3" x2="243.2" y2="130.3" stroke="#555" stroke-width="0.4"/>
<text x="241.6" y="131.6" text-anchor="end" class="hk">600</text>
<line x1="242.0" y1="139.4" x2="243.2" y2="139.4" stroke="#555" stroke-width="0.4"/>
<text x="241.6" y="140.7" text-anchor="end" class="hk">800</text>
<line x1="242.0" y1="148.6" x2="243.2" y2="148.6" stroke="#555" stroke-width="0.4"/>
<text x="241.6" y="149.9" text-anchor="end" class="hk">1000</text>
<line x1="242.0" y1="157.8" x2="243.2" y2="157.8" stroke="#555" stroke-width="0.4"/>
<text x="241.6" y="159.1" text-anchor="end" class="hk">1200</text>
<line x1="242.0" y1="166.9" x2="243.2" y2="166.9" stroke="#555" stroke-width="0.4"/>
<text x="241.6" y="168.2" text-anchor="end" class="hk">1400</text>
<line x1="244.3" y1="173.4" x2="244.3" y2="174.6" stroke="#555" stroke-width="0.4"/>
<text x="244.3" y="179.0" text-anchor="middle" class="hk">0</text>
<line x1="265.9" y1="173.4" x2="265.9" y2="174.6" stroke="#555" stroke-width="0.4"/>
<text x="265.9" y="179.0" text-anchor="middle" class="hk">500</text>
<line x1="287.4" y1="173.4" x2="287.4" y2="174.6" stroke="#555" stroke-width="0.4"/>
<text x="287.4" y="179.0" text-anchor="middle" class="hk">1000</text>
<line x1="309.0" y1="173.4" x2="309.0" y2="174.6" stroke="#555" stroke-width="0.4"/>
<text x="309.0" y="179.0" text-anchor="middle" class="hk">1500</text>
<line x1="330.5" y1="173.4" x2="330.5" y2="174.6" stroke="#555" stroke-width="0.4"/>
<text x="330.5" y="179.0" text-anchor="middle" class="hk">2000</text>
<linearGradient id="g2" x1="0" y1="1" x2="0" y2="0"><stop offset="0" stop-color="#ffffd9"/><stop offset="0.125" stop-color="#edf8b1"/><stop offset="0.25" stop-color="#c7e9b4"/><stop offset="0.375" stop-color="#7fcdbb"/><stop offset="0.5" stop-color="#41b6c4"/><stop offset="0.625" stop-color="#1d91c0"/><stop offset="0.75" stop-color="#225ea8"/><stop offset="0.875" stop-color="#253494"/><stop offset="1" stop-color="#081d58"/></linearGradient>
<rect x="339.4" y="100.0" width="3.5" height="76.5" fill="url(#g2)" stroke="#888" stroke-width="0.4"/>
<line x1="342.9" y1="176.3" x2="343.9" y2="176.3" stroke="#555" stroke-width="0.4"/>
<text x="344.5" y="177.6" class="hk">0.000</text>
<line x1="342.9" y1="167.5" x2="343.9" y2="167.5" stroke="#555" stroke-width="0.4"/>
<text x="344.5" y="168.8" class="hk">0.005</text>
<line x1="342.9" y1="158.7" x2="343.9" y2="158.7" stroke="#555" stroke-width="0.4"/>
<text x="344.5" y="160.0" class="hk">0.010</text>
<line x1="342.9" y1="149.9" x2="343.9" y2="149.9" stroke="#555" stroke-width="0.4"/>
<text x="344.5" y="151.2" class="hk">0.015</text>
<line x1="342.9" y1="141.1" x2="343.9" y2="141.1" stroke="#555" stroke-width="0.4"/>
<text x="344.5" y="142.4" class="hk">0.020</text>
<line x1="342.9" y1="132.3" x2="343.9" y2="132.3" stroke="#555" stroke-width="0.4"/>
<text x="344.5" y="133.6" class="hk">0.025</text>
<line x1="342.9" y1="123.5" x2="343.9" y2="123.5" stroke="#555" stroke-width="0.4"/>
<text x="344.5" y="124.8" class="hk">0.030</text>
<line x1="342.9" y1="114.7" x2="343.9" y2="114.7" stroke="#555" stroke-width="0.4"/>
<text x="344.5" y="116.0" class="hk">0.035</text>
<line x1="342.9" y1="105.9" x2="343.9" y2="105.9" stroke="#555" stroke-width="0.4"/>
<text x="344.5" y="107.2" class="hk">0.040</text>
<text x="290.0" y="100.4" text-anchor="middle" class="ht">Red Algae</text>
<rect x="244.7" y="193.3" width="89.7" height="69.9" fill="#fdfed8"/>
<rect x="244.7" y="201.4" width="1.62" height="1.62" fill="#c9e9b4"/>
<rect x="247.4" y="206.8" width="1.62" height="1.62" fill="#c9e9b4"/>
<rect x="247.4" y="227.0" width="1.62" height="1.62" fill="#eef8b4"/>
<rect x="247.4" y="243.2" width="1.62" height="1.62" fill="#eef8b4"/>
<rect x="248.7" y="229.7" width="1.62" height="1.62" fill="#c9e9b4"/>
<rect x="250.1" y="197.3" width="1.62" height="1.62" fill="#c9e9b4"/>
<rect x="250.1" y="259.4" width="1.62" height="1.62" fill="#c9e9b4"/>
<rect x="251.4" y="212.2" width="1.62" height="1.62" fill="#eef8b4"/>
<rect x="251.4" y="243.2" width="1.62" height="1.62" fill="#eef8b4"/>
<rect x="251.4" y="256.7" width="1.62" height="1.62" fill="#c9e9b4"/>
<rect x="254.1" y="202.7" width="1.62" height="1.62" fill="#c9e9b4"/>
<rect x="254.1" y="221.6" width="1.62" height="1.62" fill="#c9e9b4"/>
<rect x="255.5" y="194.7" width="1.62" height="1.62" fill="#eef8b4"/>
<rect x="258.2" y="227.0" width="1.62" height="1.62" fill="#eef8b4"/>
<rect x="258.2" y="231.1" width="1.62" height="1.62" fill="#eef8b4"/>
<rect x="259.6" y="214.9" width="1.62" height="1.62" fill="#eef8b4"/>
<rect x="259.6" y="223.0" width="1.62" height="1.62" fill="#c9e9b4"/>
<rect x="260.9" y="210.8" width="1.62" height="1.62" fill="#c9e9b4"/>
<rect x="262.3" y="218.9" width="1.62" height="1.62" fill="#eef8b4"/>
<rect x="262.3" y="236.5" width="1.62" height="1.62" fill="#eef8b4"/>
<rect x="263.6" y="214.9" width="1.62" height="1.62" fill="#eef8b4"/>
<rect x="265.0" y="248.6" width="1.62" height="1.62" fill="#eef8b4"/>
<rect x="265.0" y="252.7" width="1.62" height="1.62" fill="#c9e9b4"/>
<rect x="265.0" y="254.0" width="1.62" height="1.62" fill="#c9e9b4"/>
<rect x="266.3" y="209.5" width="1.62" height="1.62" fill="#c9e9b4"/>
<rect x="266.3" y="228.4" width="1.62" height="1.62" fill="#c9e9b4"/>
<rect x="267.7" y="250.0" width="1.62" height="1.62" fill="#eef8b4"/>
<rect x="269.0" y="202.7" width="1.62" height="1.62" fill="#c9e9b4"/>
<rect x="269.0" y="244.6" width="1.62" height="1.62" fill="#eef8b4"/>
<rect x="271.7" y="214.9" width="1.62" height="1.62" fill="#eef8b4"/>
<rect x="271.7" y="235.1" width="1.62" height="1.62" fill="#eef8b4"/>
<rect x="271.7" y="259.4" width="1.62" height="1.62" fill="#eef8b4"/>
<rect x="274.4" y="260.8" width="1.62" height="1.62" fill="#eef8b4"/>
<rect x="275.8" y="241.9" width="1.62" height="1.62" fill="#eef8b4"/>
<rect x="278.5" y="202.7" width="1.62" height="1.62" fill="#eef8b4"/>
<rect x="278.5" y="236.5" width="1.62" height="1.62" fill="#c9e9b4"/>
<rect x="278.5" y="252.7" width="1.62" height="1.62" fill="#eef8b4"/>
<rect x="279.8" y="214.9" width="1.62" height="1.62" fill="#c9e9b4"/>
<rect x="279.8" y="256.7" width="1.62" height="1.62" fill="#c9e9b4"/>
<rect x="279.8" y="259.4" width="1.62" height="1.62" fill="#c9e9b4"/>
<rect x="281.2" y="224.3" width="1.62" height="1.62" fill="#c9e9b4"/>
<rect x="282.5" y="235.1" width="1.62" height="1.62" fill="#c9e9b4"/>
<rect x="283.9" y="193.3" width="1.62" height="1.62" fill="#eef8b4"/>
<rect x="285.2" y="194.7" width="1.62" height="1.62" fill="#eef8b4"/>
<rect x="285.2" y="228.4" width="1.62" height="1.62" fill="#eef8b4"/>
<rect x="286.6" y="209.5" width="1.62" height="1.62" fill="#eef8b4"/>
<rect x="286.6" y="229.7" width="1.62" height="1.62" fill="#c9e9b4"/>
<rect x="287.9" y="239.2" width="1.62" height="1.62" fill="#eef8b4"/>
<rect x="289.3" y="220.3" width="1.62" height="1.62" fill="#eef8b4"/>
<rect x="289.3" y="239.2" width="1.62" height="1.62" fill="#c9e9b4"/>
<rect x="290.6" y="213.5" width="1.62" height="1.62" fill="#eef8b4"/>
<rect x="292.0" y="247.3" width="1.62" height="1.62" fill="#c9e9b4"/>
<rect x="293.3" y="229.7" width="1.62" height="1.62" fill="#c9e9b4"/>
<rect x="294.7" y="201.4" width="1.62" height="1.62" fill="#c9e9b4"/>
<rect x="294.7" y="239.2" width="1.62" height="1.62" fill="#c9e9b4"/>
<rect x="294.7" y="248.6" width="1.62" height="1.62" fill="#eef8b4"/>
<rect x="296.0" y="202.7" width="1.62" height="1.62" fill="#eef8b4"/>
<rect x="296.0" y="208.1" width="1.62" height="1.62" fill="#c9e9b4"/>
<rect x="296.0" y="258.1" width="1.62" height="1.62" fill="#eef8b4"/>
<rect x="297.4" y="232.4" width="1.62" height="1.62" fill="#eef8b4"/>
<rect x="297.4" y="248.6" width="1.62" height="1.62" fill="#c9e9b4"/>
<rect x="298.7" y="200.0" width="1.62" height="1.62" fill="#eef8b4"/>
<rect x="298.7" y="223.0" width="1.62" height="1.62" fill="#c9e9b4"/>
<rect x="300.1" y="239.2" width="1.62" height="1.62" fill="#eef8b4"/>
<rect x="301.4" y="241.9" width="1.62" height="1.62" fill="#c9e9b4"/>
<rect x="302.8" y="198.7" width="1.62" height="1.62" fill="#eef8b4"/>
<rect x="302.8" y="205.4" width="1.62" height="1.62" fill="#c9e9b4"/>
<rect x="302.8" y="212.2" width="1.62" height="1.62" fill="#c9e9b4"/>
<rect x="302.8" y="235.1" width="1.62" height="1.62" fill="#c9e9b4"/>
<rect x="302.8" y="243.2" width="1.62" height="1.62" fill="#c9e9b4"/>
<rect x="302.8" y="248.6" width="1.62" height="1.62" fill="#eef8b4"/>
<rect x="304.1" y="204.1" width="1.62" height="1.62" fill="#c9e9b4"/>
<rect x="304.1" y="235.1" width="1.62" height="1.62" fill="#c9e9b4"/>
<rect x="305.5" y="250.0" width="1.62" height="1.62" fill="#eef8b4"/>
<rect x="306.8" y="247.3" width="1.62" height="1.62" fill="#eef8b4"/>
<rect x="309.5" y="229.7" width="1.62" height="1.62" fill="#c9e9b4"/>
<rect x="309.5" y="259.4" width="1.62" height="1.62" fill="#eef8b4"/>
<rect x="310.9" y="206.8" width="1.62" height="1.62" fill="#c9e9b4"/>
<rect x="310.9" y="258.1" width="1.62" height="1.62" fill="#c9e9b4"/>
<rect x="312.2" y="214.9" width="1.62" height="1.62" fill="#eef8b4"/>
<rect x="313.6" y="231.1" width="1.62" height="1.62" fill="#c9e9b4"/>
<rect x="314.9" y="227.0" width="1.62" height="1.62" fill="#eef8b4"/>
<rect x="316.3" y="196.0" width="1.62" height="1.62" fill="#eef8b4"/>
<rect x="316.3" y="201.4" width="1.62" height="1.62" fill="#c9e9b4"/>
<rect x="319.0" y="225.7" width="1.62" height="1.62" fill="#eef8b4"/>
<rect x="320.3" y="198.7" width="1.62" height="1.62" fill="#eef8b4"/>
<rect x="320.3" y="201.4" width="1.62" height="1.62" fill="#c9e9b4"/>
<rect x="321.7" y="194.7" width="1.62" height="1.62" fill="#c9e9b4"/>
<rect x="321.7" y="254.0" width="1.62" height="1.62" fill="#c9e9b4"/>
<rect x="323.0" y="221.6" width="1.62" height="1.62" fill="#c9e9b4"/>
<rect x="323.0" y="254.0" width="1.62" height="1.62" fill="#eef8b4"/>
<rect x="323.0" y="258.1" width="1.62" height="1.62" fill="#c9e9b4"/>
<rect x="324.4" y="204.1" width="1.62" height="1.62" fill="#eef8b4"/>
<rect x="325.7" y="197.3" width="1.62" height="1.62" fill="#eef8b4"/>
<rect x="325.7" y="224.3" width="1.62" height="1.62" fill="#eef8b4"/>
<rect x="325.7" y="256.7" width="1.62" height="1.62" fill="#eef8b4"/>
<rect x="327.1" y="213.5" width="1.62" height="1.62" fill="#eef8b4"/>
<rect x="328.4" y="239.2" width="1.62" height="1.62" fill="#eef8b4"/>
<rect x="331.1" y="194.7" width="1.62" height="1.62" fill="#c9e9b4"/>
<rect x="331.1" y="217.6" width="1.62" height="1.62" fill="#eef8b4"/>
<rect x="331.1" y="218.9" width="1.62" height="1.62" fill="#eef8b4"/>
<rect x="331.1" y="250.0" width="1.62" height="1.62" fill="#eef8b4"/>
<rect x="332.5" y="193.3" width="1.62" height="1.62" fill="#eef8b4"/>
<rect x="296.4" y="203.3" width="1.62" height="1.62" fill="#1f8fc0"/>
<rect x="297.7" y="203.3" width="1.62" height="1.62" fill="#45b5c4"/>
<rect x="297.7" y="204.7" width="1.62" height="1.62" fill="#1f8fc0"/>
<rect x="297.7" y="207.4" width="1.62" height="1.62" fill="#2460aa"/>
<rect x="299.1" y="203.3" width="1.62" height="1.62" fill="#45b5c4"/>
<rect x="299.1" y="207.4" width="1.62" height="1.62" fill="#2460aa"/>
<rect x="300.4" y="204.7" width="1.62" height="1.62" fill="#45b5c4"/>
<rect x="300.4" y="206.0" width="1.62" height="1.62" fill="#1f8fc0"/>
<rect x="300.4" y="207.4" width="1.62" height="1.62" fill="#1f8fc0"/>
<rect x="301.8" y="203.3" width="1.62" height="1.62" fill="#45b5c4"/>
<rect x="301.8" y="206.0" width="1.62" height="1.62" fill="#1f8fc0"/>
<rect x="300.4" y="198.8" width="1.62" height="1.62" fill="#2460aa"/>
<rect x="300.4" y="200.2" width="1.62" height="1.62" fill="#1f8fc0"/>
<rect x="300.4" y="202.9" width="1.62" height="1.62" fill="#1f8fc0"/>
<rect x="301.7" y="198.8" width="1.62" height="1.62" fill="#45b5c4"/>
<rect x="301.7" y="200.2" width="1.62" height="1.62" fill="#1f8fc0"/>
<rect x="301.7" y="201.5" width="1.62" height="1.62" fill="#1b2a80"/>
<rect x="301.7" y="204.2" width="1.62" height="1.62" fill="#2460aa"/>
<rect x="303.1" y="198.8" width="1.62" height="1.62" fill="#45b5c4"/>
<rect x="303.1" y="200.2" width="1.62" height="1.62" fill="#1f8fc0"/>
<rect x="303.1" y="201.5" width="1.62" height="1.62" fill="#1b2a80"/>
<rect x="303.1" y="202.9" width="1.62" height="1.62" fill="#1f8fc0"/>
<rect x="303.1" y="204.2" width="1.62" height="1.62" fill="#2460aa"/>
<rect x="304.4" y="198.8" width="1.62" height="1.62" fill="#1b2a80"/>
<rect x="304.4" y="202.9" width="1.62" height="1.62" fill="#1b2a80"/>
<rect x="304.4" y="204.2" width="1.62" height="1.62" fill="#2460aa"/>
<rect x="305.8" y="198.8" width="1.62" height="1.62" fill="#45b5c4"/>
<rect x="305.8" y="200.2" width="1.62" height="1.62" fill="#1f8fc0"/>
<rect x="305.8" y="201.5" width="1.62" height="1.62" fill="#2460aa"/>
<rect x="305.8" y="202.9" width="1.62" height="1.62" fill="#45b5c4"/>
<rect x="305.8" y="204.2" width="1.62" height="1.62" fill="#1b2a80"/>
<rect x="307.1" y="201.5" width="1.62" height="1.62" fill="#1f8fc0"/>
<rect x="304.9" y="197.2" width="1.62" height="1.62" fill="#1b2a80"/>
<rect x="304.9" y="198.5" width="1.62" height="1.62" fill="#2460aa"/>
<rect x="306.2" y="195.8" width="1.62" height="1.62" fill="#0c2160"/>
<rect x="306.2" y="197.2" width="1.62" height="1.62" fill="#1b2a80"/>
<rect x="306.2" y="198.5" width="1.62" height="1.62" fill="#2460aa"/>
<rect x="306.2" y="199.9" width="1.62" height="1.62" fill="#1b2a80"/>
<rect x="306.2" y="201.2" width="1.62" height="1.62" fill="#2460aa"/>
<rect x="307.6" y="195.8" width="1.62" height="1.62" fill="#1f8fc0"/>
<rect x="307.6" y="197.2" width="1.62" height="1.62" fill="#0c2160"/>
<rect x="307.6" y="198.5" width="1.62" height="1.62" fill="#2460aa"/>
<rect x="307.6" y="199.9" width="1.62" height="1.62" fill="#2460aa"/>
<rect x="307.6" y="201.2" width="1.62" height="1.62" fill="#0c2160"/>
<rect x="308.9" y="195.8" width="1.62" height="1.62" fill="#2460aa"/>
<rect x="308.9" y="198.5" width="1.62" height="1.62" fill="#2460aa"/>
<rect x="308.9" y="199.9" width="1.62" height="1.62" fill="#1b2a80"/>
<rect x="308.9" y="201.2" width="1.62" height="1.62" fill="#0c2160"/>
<rect x="310.3" y="197.2" width="1.62" height="1.62" fill="#2460aa"/>
<rect x="310.3" y="198.5" width="1.62" height="1.62" fill="#1b2a80"/>
<rect x="310.3" y="199.9" width="1.62" height="1.62" fill="#2460aa"/>
<rect x="311.6" y="195.8" width="1.62" height="1.62" fill="#1b2a80"/>
<rect x="311.6" y="201.2" width="1.62" height="1.62" fill="#1f8fc0"/>
<rect x="313.0" y="199.9" width="1.62" height="1.62" fill="#1b2a80"/>
<rect x="309.9" y="194.3" width="1.62" height="1.62" fill="#1f8fc0"/>
<rect x="311.2" y="194.3" width="1.62" height="1.62" fill="#1b2a80"/>
<rect x="311.2" y="195.7" width="1.62" height="1.62" fill="#1f8fc0"/>
<rect x="311.2" y="197.0" width="1.62" height="1.62" fill="#2460aa"/>
<rect x="311.2" y="198.4" width="1.62" height="1.62" fill="#2460aa"/>
<rect x="312.6" y="194.3" width="1.62" height="1.62" fill="#1f8fc0"/>
<rect x="312.6" y="195.7" width="1.62" height="1.62" fill="#2460aa"/>
<rect x="313.9" y="194.3" width="1.62" height="1.62" fill="#2460aa"/>
<rect x="313.9" y="195.7" width="1.62" height="1.62" fill="#1b2a80"/>
<rect x="313.9" y="197.0" width="1.62" height="1.62" fill="#1f8fc0"/>
<rect x="315.3" y="197.0" width="1.62" height="1.62" fill="#1f8fc0"/>
<rect x="316.6" y="194.3" width="1.62" height="1.62" fill="#1f8fc0"/>
<rect x="316.6" y="195.7" width="1.62" height="1.62" fill="#2460aa"/>
<rect x="316.6" y="197.0" width="1.62" height="1.62" fill="#1b2a80"/>
<rect x="318.0" y="195.7" width="1.62" height="1.62" fill="#2460aa"/>
<rect x="316.4" y="194.3" width="1.62" height="1.62" fill="#1f8fc0"/>
<rect x="317.7" y="194.3" width="1.62" height="1.62" fill="#2460aa"/>
<rect x="317.7" y="195.7" width="1.62" height="1.62" fill="#1f8fc0"/>
<rect x="319.1" y="194.3" width="1.62" height="1.62" fill="#1f8fc0"/>
<rect x="319.1" y="195.7" width="1.62" height="1.62" fill="#1f8fc0"/>
<rect x="320.4" y="194.3" width="1.62" height="1.62" fill="#45b5c4"/>
<rect x="320.4" y="195.7" width="1.62" height="1.62" fill="#45b5c4"/>
<rect x="294.9" y="199.3" width="1.62" height="1.62" fill="#45b5c4"/>
<rect x="294.9" y="200.7" width="1.62" height="1.62" fill="#45b5c4"/>
<rect x="294.9" y="202.0" width="1.62" height="1.62" fill="#45b5c4"/>
<rect x="296.2" y="199.3" width="1.62" height="1.62" fill="#1f8fc0"/>
<rect x="296.2" y="203.4" width="1.62" height="1.62" fill="#45b5c4"/>
<rect x="297.6" y="199.3" width="1.62" height="1.62" fill="#1f8fc0"/>
<rect x="297.6" y="202.0" width="1.62" height="1.62" fill="#45b5c4"/>
<rect x="247.3" y="206.8" width="1.62" height="1.62" fill="#45b5c4"/>
<rect x="247.3" y="209.5" width="1.62" height="1.62" fill="#2460aa"/>
<rect x="247.3" y="210.9" width="1.62" height="1.62" fill="#1b2a80"/>
<rect x="248.7" y="206.8" width="1.62" height="1.62" fill="#1b2a80"/>
<rect x="248.7" y="208.2" width="1.62" height="1.62" fill="#2460aa"/>
<rect x="248.7" y="212.2" width="1.62" height="1.62" fill="#2460aa"/>
<rect x="250.0" y="206.8" width="1.62" height="1.62" fill="#45b5c4"/>
<rect x="250.0" y="208.2" width="1.62" height="1.62" fill="#2460aa"/>
<rect x="250.0" y="209.5" width="1.62" height="1.62" fill="#1f8fc0"/>
<rect x="251.4" y="210.9" width="1.62" height="1.62" fill="#2460aa"/>
<rect x="246.3" y="213.7" width="1.62" height="1.62" fill="#45b5c4"/>
<rect x="246.3" y="216.4" width="1.62" height="1.62" fill="#1f8fc0"/>
<rect x="246.3" y="219.1" width="1.62" height="1.62" fill="#2460aa"/>
<rect x="247.7" y="213.7" width="1.62" height="1.62" fill="#1f8fc0"/>
<rect x="247.7" y="215.0" width="1.62" height="1.62" fill="#86cfba"/>
<rect x="247.7" y="216.4" width="1.62" height="1.62" fill="#86cfba"/>
<rect x="247.7" y="217.7" width="1.62" height="1.62" fill="#2460aa"/>
<rect x="247.7" y="219.1" width="1.62" height="1.62" fill="#45b5c4"/>
<rect x="247.7" y="220.4" width="1.62" height="1.62" fill="#1f8fc0"/>
<rect x="247.7" y="221.8" width="1.62" height="1.62" fill="#45b5c4"/>
<rect x="249.0" y="213.7" width="1.62" height="1.62" fill="#2460aa"/>
<rect x="249.0" y="215.0" width="1.62" height="1.62" fill="#86cfba"/>
<rect x="249.0" y="217.7" width="1.62" height="1.62" fill="#45b5c4"/>
<rect x="249.0" y="219.1" width="1.62" height="1.62" fill="#45b5c4"/>
<rect x="249.0" y="223.1" width="1.62" height="1.62" fill="#1f8fc0"/>
<rect x="249.0" y="224.5" width="1.62" height="1.62" fill="#86cfba"/>
<rect x="250.4" y="215.0" width="1.62" height="1.62" fill="#2460aa"/>
<rect x="250.4" y="219.1" width="1.62" height="1.62" fill="#86cfba"/>
<rect x="251.7" y="212.3" width="1.62" height="1.62" fill="#45b5c4"/>
<rect x="251.7" y="213.7" width="1.62" height="1.62" fill="#45b5c4"/>
<rect x="251.7" y="215.0" width="1.62" height="1.62" fill="#45b5c4"/>
<rect x="251.7" y="216.4" width="1.62" height="1.62" fill="#45b5c4"/>
<rect x="251.7" y="217.7" width="1.62" height="1.62" fill="#45b5c4"/>
<rect x="251.7" y="219.1" width="1.62" height="1.62" fill="#2460aa"/>
<rect x="251.7" y="220.4" width="1.62" height="1.62" fill="#45b5c4"/>
<rect x="251.7" y="221.8" width="1.62" height="1.62" fill="#86cfba"/>
<rect x="251.7" y="223.1" width="1.62" height="1.62" fill="#45b5c4"/>
<rect x="253.1" y="215.0" width="1.62" height="1.62" fill="#45b5c4"/>
<rect x="253.1" y="216.4" width="1.62" height="1.62" fill="#2460aa"/>
<rect x="253.1" y="217.7" width="1.62" height="1.62" fill="#86cfba"/>
<rect x="253.1" y="219.1" width="1.62" height="1.62" fill="#86cfba"/>
<rect x="253.1" y="221.8" width="1.62" height="1.62" fill="#1f8fc0"/>
<rect x="253.1" y="223.1" width="1.62" height="1.62" fill="#1f8fc0"/>
<rect x="254.4" y="215.0" width="1.62" height="1.62" fill="#86cfba"/>
<rect x="254.4" y="219.1" width="1.62" height="1.62" fill="#86cfba"/>
<rect x="254.4" y="220.4" width="1.62" height="1.62" fill="#45b5c4"/>
<rect x="252.8" y="227.0" width="1.62" height="1.62" fill="#1b2a80"/>
<rect x="252.8" y="231.1" width="1.62" height="1.62" fill="#2460aa"/>
<rect x="252.8" y="232.4" width="1.62" height="1.62" fill="#45b5c4"/>
<rect x="254.2" y="224.3" width="1.62" height="1.62" fill="#45b5c4"/>
<rect x="254.2" y="225.7" width="1.62" height="1.62" fill="#45b5c4"/>
<rect x="254.2" y="227.0" width="1.62" height="1.62" fill="#2460aa"/>
<rect x="254.2" y="228.4" width="1.62" height="1.62" fill="#2460aa"/>
<rect x="254.2" y="231.1" width="1.62" height="1.62" fill="#2460aa"/>
<rect x="254.2" y="232.4" width="1.62" height="1.62" fill="#45b5c4"/>
<rect x="254.2" y="233.8" width="1.62" height="1.62" fill="#2460aa"/>
<rect x="255.5" y="224.3" width="1.62" height="1.62" fill="#1b2a80"/>
<rect x="255.5" y="225.7" width="1.62" height="1.62" fill="#2460aa"/>
<rect x="255.5" y="227.0" width="1.62" height="1.62" fill="#2460aa"/>
<rect x="255.5" y="228.4" width="1.62" height="1.62" fill="#2460aa"/>
<rect x="255.5" y="229.7" width="1.62" height="1.62" fill="#1b2a80"/>
<rect x="255.5" y="231.1" width="1.62" height="1.62" fill="#1b2a80"/>
<rect x="255.5" y="232.4" width="1.62" height="1.62" fill="#2460aa"/>
<rect x="255.5" y="233.8" width="1.62" height="1.62" fill="#45b5c4"/>
<rect x="256.9" y="224.3" width="1.62" height="1.62" fill="#1b2a80"/>
<rect x="256.9" y="225.7" width="1.62" height="1.62" fill="#2460aa"/>
<rect x="256.9" y="228.4" width="1.62" height="1.62" fill="#45b5c4"/>
<rect x="256.9" y="229.7" width="1.62" height="1.62" fill="#45b5c4"/>
<rect x="256.9" y="231.1" width="1.62" height="1.62" fill="#1f8fc0"/>
<rect x="256.9" y="233.8" width="1.62" height="1.62" fill="#1b2a80"/>
<rect x="258.2" y="228.4" width="1.62" height="1.62" fill="#45b5c4"/>
<rect x="258.2" y="229.7" width="1.62" height="1.62" fill="#1b2a80"/>
<rect x="247.3" y="234.0" width="1.62" height="1.62" fill="#45b5c4"/>
<rect x="248.7" y="231.3" width="1.62" height="1.62" fill="#1f8fc0"/>
<rect x="248.7" y="232.7" width="1.62" height="1.62" fill="#1f8fc0"/>
<rect x="248.7" y="235.4" width="1.62" height="1.62" fill="#45b5c4"/>
<rect x="250.0" y="234.0" width="1.62" height="1.62" fill="#45b5c4"/>
<rect x="251.4" y="231.3" width="1.62" height="1.62" fill="#1f8fc0"/>
<rect x="251.4" y="232.7" width="1.62" height="1.62" fill="#1f8fc0"/>
<rect x="251.4" y="235.4" width="1.62" height="1.62" fill="#45b5c4"/>
<rect x="252.7" y="231.3" width="1.62" height="1.62" fill="#2460aa"/>
<rect x="252.7" y="232.7" width="1.62" height="1.62" fill="#1f8fc0"/>
<rect x="252.7" y="234.0" width="1.62" height="1.62" fill="#1f8fc0"/>
<rect x="252.7" y="235.4" width="1.62" height="1.62" fill="#1f8fc0"/>
<rect x="254.1" y="231.3" width="1.62" height="1.62" fill="#2460aa"/>
<rect x="254.1" y="232.7" width="1.62" height="1.62" fill="#45b5c4"/>
<rect x="255.4" y="232.7" width="1.62" height="1.62" fill="#2460aa"/>
<rect x="255.4" y="234.0" width="1.62" height="1.62" fill="#45b5c4"/>
<rect x="256.8" y="234.0" width="1.62" height="1.62" fill="#1f8fc0"/>
<rect x="245.3" y="255.7" width="1.62" height="1.62" fill="#1b2a80"/>
<rect x="245.3" y="258.4" width="1.62" height="1.62" fill="#2460aa"/>
<rect x="245.3" y="259.8" width="1.62" height="1.62" fill="#45b5c4"/>
<rect x="246.7" y="257.1" width="1.62" height="1.62" fill="#45b5c4"/>
<rect x="246.7" y="258.4" width="1.62" height="1.62" fill="#45b5c4"/>
<rect x="246.7" y="259.8" width="1.62" height="1.62" fill="#45b5c4"/>
<rect x="246.7" y="261.1" width="1.62" height="1.62" fill="#45b5c4"/>
<rect x="248.0" y="254.3" width="1.62" height="1.62" fill="#1b2a80"/>
<rect x="248.0" y="255.7" width="1.62" height="1.62" fill="#1f8fc0"/>
<rect x="248.0" y="258.4" width="1.62" height="1.62" fill="#45b5c4"/>
<rect x="248.0" y="259.8" width="1.62" height="1.62" fill="#1b2a80"/>
<rect x="249.4" y="255.7" width="1.62" height="1.62" fill="#45b5c4"/>
<rect x="249.4" y="257.1" width="1.62" height="1.62" fill="#45b5c4"/>
<rect x="249.4" y="258.4" width="1.62" height="1.62" fill="#1b2a80"/>
<rect x="249.4" y="259.8" width="1.62" height="1.62" fill="#45b5c4"/>
<rect x="250.7" y="254.3" width="1.62" height="1.62" fill="#45b5c4"/>
<rect x="250.7" y="257.1" width="1.62" height="1.62" fill="#1f8fc0"/>
<rect x="252.1" y="254.3" width="1.62" height="1.62" fill="#45b5c4"/>
<rect x="252.1" y="255.7" width="1.62" height="1.62" fill="#1f8fc0"/>
<rect x="252.1" y="257.1" width="1.62" height="1.62" fill="#2460aa"/>
<rect x="252.1" y="258.4" width="1.62" height="1.62" fill="#45b5c4"/>
<rect x="252.1" y="259.8" width="1.62" height="1.62" fill="#45b5c4"/>
<rect x="253.4" y="259.8" width="1.62" height="1.62" fill="#1f8fc0"/>
<rect x="279.4" y="254.7" width="1.62" height="1.62" fill="#1f8fc0"/>
<rect x="279.4" y="257.4" width="1.62" height="1.62" fill="#2460aa"/>
<rect x="279.4" y="258.8" width="1.62" height="1.62" fill="#2460aa"/>
<rect x="280.7" y="253.3" width="1.62" height="1.62" fill="#1f8fc0"/>
<rect x="280.7" y="256.1" width="1.62" height="1.62" fill="#1f8fc0"/>
<rect x="280.7" y="257.4" width="1.62" height="1.62" fill="#2460aa"/>
<rect x="282.1" y="253.3" width="1.62" height="1.62" fill="#2460aa"/>
<rect x="282.1" y="260.1" width="1.62" height="1.62" fill="#2460aa"/>
<rect x="283.4" y="253.3" width="1.62" height="1.62" fill="#2460aa"/>
<rect x="283.4" y="254.7" width="1.62" height="1.62" fill="#2460aa"/>
<rect x="283.4" y="256.1" width="1.62" height="1.62" fill="#2460aa"/>
<rect x="283.4" y="257.4" width="1.62" height="1.62" fill="#1b2a80"/>
<rect x="283.4" y="258.8" width="1.62" height="1.62" fill="#1b2a80"/>
<rect x="283.4" y="260.1" width="1.62" height="1.62" fill="#1f8fc0"/>
<rect x="283.4" y="261.5" width="1.62" height="1.62" fill="#1f8fc0"/>
<rect x="284.8" y="253.3" width="1.62" height="1.62" fill="#2460aa"/>
<rect x="284.8" y="254.7" width="1.62" height="1.62" fill="#2460aa"/>
<rect x="284.8" y="256.1" width="1.62" height="1.62" fill="#2460aa"/>
<rect x="284.8" y="257.4" width="1.62" height="1.62" fill="#2460aa"/>
<rect x="284.8" y="258.8" width="1.62" height="1.62" fill="#2460aa"/>
<rect x="284.8" y="260.1" width="1.62" height="1.62" fill="#1b2a80"/>
<rect x="286.1" y="253.3" width="1.62" height="1.62" fill="#2460aa"/>
<rect x="286.1" y="254.7" width="1.62" height="1.62" fill="#1b2a80"/>
<rect x="286.1" y="256.1" width="1.62" height="1.62" fill="#1f8fc0"/>
<rect x="286.1" y="257.4" width="1.62" height="1.62" fill="#1b2a80"/>
<rect x="286.1" y="258.8" width="1.62" height="1.62" fill="#1b2a80"/>
<rect x="286.1" y="260.1" width="1.62" height="1.62" fill="#1f8fc0"/>
<rect x="287.5" y="254.7" width="1.62" height="1.62" fill="#2460aa"/>
<rect x="287.5" y="256.1" width="1.62" height="1.62" fill="#1f8fc0"/>
<rect x="287.5" y="258.8" width="1.62" height="1.62" fill="#1f8fc0"/>
<rect x="287.5" y="261.5" width="1.62" height="1.62" fill="#2460aa"/>
<rect x="288.8" y="253.3" width="1.62" height="1.62" fill="#2460aa"/>
<rect x="288.8" y="256.1" width="1.62" height="1.62" fill="#45b5c4"/>
<rect x="288.8" y="257.4" width="1.62" height="1.62" fill="#2460aa"/>
<rect x="288.8" y="258.8" width="1.62" height="1.62" fill="#2460aa"/>
<rect x="288.8" y="260.1" width="1.62" height="1.62" fill="#2460aa"/>
<rect x="288.8" y="261.5" width="1.62" height="1.62" fill="#45b5c4"/>
<rect x="290.2" y="253.3" width="1.62" height="1.62" fill="#2460aa"/>
<rect x="290.2" y="256.1" width="1.62" height="1.62" fill="#1f8fc0"/>
<rect x="290.2" y="257.4" width="1.62" height="1.62" fill="#1f8fc0"/>
<rect x="290.2" y="258.8" width="1.62" height="1.62" fill="#45b5c4"/>
<rect x="290.2" y="260.1" width="1.62" height="1.62" fill="#45b5c4"/>
<rect x="291.5" y="254.7" width="1.62" height="1.62" fill="#2460aa"/>
<rect x="291.5" y="256.1" width="1.62" height="1.62" fill="#1f8fc0"/>
<rect x="291.5" y="257.4" width="1.62" height="1.62" fill="#2460aa"/>
<rect x="291.5" y="258.8" width="1.62" height="1.62" fill="#1f8fc0"/>
<rect x="291.5" y="260.1" width="1.62" height="1.62" fill="#45b5c4"/>
<rect x="292.9" y="254.7" width="1.62" height="1.62" fill="#45b5c4"/>
<rect x="292.9" y="256.1" width="1.62" height="1.62" fill="#45b5c4"/>
<rect x="292.9" y="258.8" width="1.62" height="1.62" fill="#1b2a80"/>
<rect x="290.4" y="257.2" width="1.62" height="1.62" fill="#2460aa"/>
<rect x="290.4" y="261.3" width="1.62" height="1.62" fill="#1b2a80"/>
<rect x="291.7" y="255.8" width="1.62" height="1.62" fill="#2460aa"/>
<rect x="291.7" y="257.2" width="1.62" height="1.62" fill="#1b2a80"/>
<rect x="291.7" y="258.6" width="1.62" height="1.62" fill="#1b2a80"/>
<rect x="291.7" y="259.9" width="1.62" height="1.62" fill="#2460aa"/>
<rect x="291.7" y="261.3" width="1.62" height="1.62" fill="#2460aa"/>
<rect x="293.1" y="255.8" width="1.62" height="1.62" fill="#1b2a80"/>
<rect x="293.1" y="257.2" width="1.62" height="1.62" fill="#1b2a80"/>
<rect x="293.1" y="258.6" width="1.62" height="1.62" fill="#2460aa"/>
<rect x="293.1" y="259.9" width="1.62" height="1.62" fill="#2460aa"/>
<rect x="294.4" y="255.8" width="1.62" height="1.62" fill="#2460aa"/>
<rect x="294.4" y="257.2" width="1.62" height="1.62" fill="#2460aa"/>
<rect x="294.4" y="259.9" width="1.62" height="1.62" fill="#0c2160"/>
<rect x="294.4" y="261.3" width="1.62" height="1.62" fill="#0c2160"/>
<rect x="295.8" y="255.8" width="1.62" height="1.62" fill="#1b2a80"/>
<rect x="295.8" y="257.2" width="1.62" height="1.62" fill="#1b2a80"/>
<rect x="295.8" y="258.6" width="1.62" height="1.62" fill="#1b2a80"/>
<rect x="295.8" y="259.9" width="1.62" height="1.62" fill="#1b2a80"/>
<rect x="295.8" y="261.3" width="1.62" height="1.62" fill="#2460aa"/>
<rect x="297.1" y="255.8" width="1.62" height="1.62" fill="#1b2a80"/>
<rect x="297.1" y="257.2" width="1.62" height="1.62" fill="#2460aa"/>
<rect x="297.1" y="258.6" width="1.62" height="1.62" fill="#1b2a80"/>
<rect x="297.1" y="261.3" width="1.62" height="1.62" fill="#1b2a80"/>
<rect x="298.5" y="255.8" width="1.62" height="1.62" fill="#2460aa"/>
<rect x="298.5" y="257.2" width="1.62" height="1.62" fill="#1b2a80"/>
<rect x="298.5" y="258.6" width="1.62" height="1.62" fill="#2460aa"/>
<rect x="298.5" y="261.3" width="1.62" height="1.62" fill="#1b2a80"/>
<rect x="299.8" y="255.8" width="1.62" height="1.62" fill="#1b2a80"/>
<rect x="299.8" y="257.2" width="1.62" height="1.62" fill="#2460aa"/>
<rect x="299.8" y="258.6" width="1.62" height="1.62" fill="#2460aa"/>
<rect x="299.8" y="259.9" width="1.62" height="1.62" fill="#1b2a80"/>
<rect x="301.2" y="257.2" width="1.62" height="1.62" fill="#1b2a80"/>
<rect x="301.2" y="258.6" width="1.62" height="1.62" fill="#1b2a80"/>
<rect x="301.2" y="259.9" width="1.62" height="1.62" fill="#1b2a80"/>
<rect x="302.5" y="258.6" width="1.62" height="1.62" fill="#2460aa"/>
<rect x="280.4" y="253.0" width="1.62" height="1.62" fill="#2460aa"/>
<rect x="281.7" y="254.4" width="1.62" height="1.62" fill="#45b5c4"/>
<rect x="284.4" y="254.4" width="1.62" height="1.62" fill="#1f8fc0"/>
<rect x="285.8" y="251.7" width="1.62" height="1.62" fill="#45b5c4"/>
<rect x="285.8" y="253.0" width="1.62" height="1.62" fill="#45b5c4"/>
<rect x="319.4" y="254.7" width="1.62" height="1.62" fill="#1f8fc0"/>
<rect x="320.7" y="250.7" width="1.62" height="1.62" fill="#2460aa"/>
<rect x="320.7" y="254.7" width="1.62" height="1.62" fill="#1f8fc0"/>
<rect x="322.1" y="252.0" width="1.62" height="1.62" fill="#1f8fc0"/>
<rect x="322.1" y="256.1" width="1.62" height="1.62" fill="#45b5c4"/>
<rect x="323.4" y="249.3" width="1.62" height="1.62" fill="#2460aa"/>
<rect x="323.4" y="254.7" width="1.62" height="1.62" fill="#45b5c4"/>
<rect x="323.4" y="256.1" width="1.62" height="1.62" fill="#45b5c4"/>
<rect x="324.8" y="249.3" width="1.62" height="1.62" fill="#2460aa"/>
<rect x="324.8" y="252.0" width="1.62" height="1.62" fill="#45b5c4"/>
<rect x="326.1" y="249.3" width="1.62" height="1.62" fill="#86cfba"/>
<rect x="326.1" y="250.7" width="1.62" height="1.62" fill="#1f8fc0"/>
<rect x="326.1" y="254.7" width="1.62" height="1.62" fill="#2460aa"/>
<rect x="326.1" y="256.1" width="1.62" height="1.62" fill="#45b5c4"/>
<rect x="327.5" y="253.4" width="1.62" height="1.62" fill="#45b5c4"/>
<rect x="327.5" y="254.7" width="1.62" height="1.62" fill="#45b5c4"/>
<rect x="327.5" y="257.4" width="1.62" height="1.62" fill="#45b5c4"/>
<rect x="328.8" y="250.7" width="1.62" height="1.62" fill="#45b5c4"/>
<rect x="328.8" y="253.4" width="1.62" height="1.62" fill="#86cfba"/>
<rect x="328.8" y="254.7" width="1.62" height="1.62" fill="#86cfba"/>
<rect x="328.8" y="257.4" width="1.62" height="1.62" fill="#2460aa"/>
<rect x="330.2" y="253.4" width="1.62" height="1.62" fill="#45b5c4"/>
<rect x="330.2" y="254.7" width="1.62" height="1.62" fill="#86cfba"/>
<rect x="330.2" y="256.1" width="1.62" height="1.62" fill="#45b5c4"/>
<rect x="331.5" y="253.4" width="1.62" height="1.62" fill="#86cfba"/>
<rect x="331.5" y="254.7" width="1.62" height="1.62" fill="#45b5c4"/>
<rect x="331.5" y="257.4" width="1.62" height="1.62" fill="#86cfba"/>
<rect x="332.9" y="252.0" width="1.62" height="1.62" fill="#45b5c4"/>
<rect x="305.4" y="247.7" width="1.62" height="1.62" fill="#45b5c4"/>
<rect x="306.7" y="249.0" width="1.62" height="1.62" fill="#1b2a80"/>
<rect x="308.1" y="247.7" width="1.62" height="1.62" fill="#2460aa"/>
<rect x="309.4" y="247.7" width="1.62" height="1.62" fill="#1b2a80"/>
<rect x="309.4" y="249.0" width="1.62" height="1.62" fill="#45b5c4"/>
<rect x="277.2" y="210.7" width="1.6" height="1.6" fill="#45b5c4"/>
<rect x="277.8" y="212.4" width="1.6" height="1.6" fill="#45b5c4"/>
<rect x="279.0" y="214.2" width="1.6" height="1.6" fill="#1f8fc0"/>
<rect x="280.2" y="216.7" width="1.6" height="1.6" fill="#2460aa"/>
<rect x="280.8" y="218.6" width="1.6" height="1.6" fill="#1b2a80"/>
<rect x="322.5" y="200.8" width="1.6" height="1.6" fill="#1b2a80"/>
<rect x="325.2" y="196.2" width="1.6" height="1.6" fill="#45b5c4"/>
<rect x="286.8" y="193.5" width="1.6" height="1.6" fill="#45b5c4"/>
<rect x="255.1" y="243.1" width="1.6" height="1.6" fill="#45b5c4"/>
<rect x="255.7" y="247.0" width="1.6" height="1.6" fill="#45b5c4"/>
<rect x="302.7" y="244.4" width="1.6" height="1.6" fill="#45b5c4"/>
<rect x="306.7" y="248.3" width="1.6" height="1.6" fill="#2460aa"/>
<rect x="309.3" y="251.6" width="1.6" height="1.6" fill="#1b2a80"/>
<rect x="318.6" y="251.6" width="1.6" height="1.6" fill="#2460aa"/>
<rect x="244.7" y="193.3" width="89.7" height="69.9" fill="none" stroke="#7a7a7a" stroke-width="0.7"/>
<line x1="243.5" y1="193.6" x2="244.7" y2="193.6" stroke="#555" stroke-width="0.4"/>
<text x="243.1" y="194.9" text-anchor="end" class="hk">0</text>
<line x1="243.5" y1="202.6" x2="244.7" y2="202.6" stroke="#555" stroke-width="0.4"/>
<text x="243.1" y="203.9" text-anchor="end" class="hk">200</text>
<line x1="243.5" y1="211.7" x2="244.7" y2="211.7" stroke="#555" stroke-width="0.4"/>
<text x="243.1" y="213.0" text-anchor="end" class="hk">400</text>
<line x1="243.5" y1="220.7" x2="244.7" y2="220.7" stroke="#555" stroke-width="0.4"/>
<text x="243.1" y="222.0" text-anchor="end" class="hk">600</text>
<line x1="243.5" y1="229.8" x2="244.7" y2="229.8" stroke="#555" stroke-width="0.4"/>
<text x="243.1" y="231.1" text-anchor="end" class="hk">800</text>
<line x1="243.5" y1="238.8" x2="244.7" y2="238.8" stroke="#555" stroke-width="0.4"/>
<text x="243.1" y="240.1" text-anchor="end" class="hk">1000</text>
<line x1="243.5" y1="247.8" x2="244.7" y2="247.8" stroke="#555" stroke-width="0.4"/>
<text x="243.1" y="249.1" text-anchor="end" class="hk">1200</text>
<line x1="243.5" y1="256.9" x2="244.7" y2="256.9" stroke="#555" stroke-width="0.4"/>
<text x="243.1" y="258.2" text-anchor="end" class="hk">1400</text>
<line x1="245.8" y1="263.2" x2="245.8" y2="264.4" stroke="#555" stroke-width="0.4"/>
<text x="245.8" y="268.8" text-anchor="middle" class="hk">0</text>
<line x1="267.2" y1="263.2" x2="267.2" y2="264.4" stroke="#555" stroke-width="0.4"/>
<text x="267.2" y="268.8" text-anchor="middle" class="hk">500</text>
<line x1="288.5" y1="263.2" x2="288.5" y2="264.4" stroke="#555" stroke-width="0.4"/>
<text x="288.5" y="268.8" text-anchor="middle" class="hk">1000</text>
<line x1="309.9" y1="263.2" x2="309.9" y2="264.4" stroke="#555" stroke-width="0.4"/>
<text x="309.9" y="268.8" text-anchor="middle" class="hk">1500</text>
<line x1="331.2" y1="263.2" x2="331.2" y2="264.4" stroke="#555" stroke-width="0.4"/>
<text x="331.2" y="268.8" text-anchor="middle" class="hk">2000</text>
<linearGradient id="g3" x1="0" y1="1" x2="0" y2="0"><stop offset="0" stop-color="#ffffd9"/><stop offset="0.125" stop-color="#edf8b1"/><stop offset="0.25" stop-color="#c7e9b4"/><stop offset="0.375" stop-color="#7fcdbb"/><stop offset="0.5" stop-color="#41b6c4"/><stop offset="0.625" stop-color="#1d91c0"/><stop offset="0.75" stop-color="#225ea8"/><stop offset="0.875" stop-color="#253494"/><stop offset="1" stop-color="#081d58"/></linearGradient>
<rect x="339.9" y="190.8" width="3.6" height="71.4" fill="url(#g3)" stroke="#888" stroke-width="0.4"/>
<line x1="343.5" y1="262.2" x2="344.5" y2="262.2" stroke="#555" stroke-width="0.4"/>
<text x="345.1" y="263.5" class="hk">0.00</text>
<line x1="343.5" y1="251.5" x2="344.5" y2="251.5" stroke="#555" stroke-width="0.4"/>
<text x="345.1" y="252.8" class="hk">0.01</text>
<line x1="343.5" y1="240.8" x2="344.5" y2="240.8" stroke="#555" stroke-width="0.4"/>
<text x="345.1" y="242.1" class="hk">0.02</text>
<line x1="343.5" y1="230.0" x2="344.5" y2="230.0" stroke="#555" stroke-width="0.4"/>
<text x="345.1" y="231.3" class="hk">0.03</text>
<line x1="343.5" y1="219.3" x2="344.5" y2="219.3" stroke="#555" stroke-width="0.4"/>
<text x="345.1" y="220.6" class="hk">0.04</text>
<line x1="343.5" y1="208.6" x2="344.5" y2="208.6" stroke="#555" stroke-width="0.4"/>
<text x="345.1" y="209.9" class="hk">0.05</text>
<line x1="343.5" y1="197.9" x2="344.5" y2="197.9" stroke="#555" stroke-width="0.4"/>
<text x="345.1" y="199.2" class="hk">0.06</text>
<text x="293.4" y="189.3" text-anchor="middle" class="ht">Green Algae</text>
<clipPath id="pc"><rect x="377" y="68" width="168" height="124"/></clipPath>
<filter id="pb" x="-5%" y="-5%" width="110%" height="110%" color-interpolation-filters="sRGB"><feGaussianBlur in="SourceGraphic" stdDeviation="1.3" result="b"/><feTurbulence type="fractalNoise" baseFrequency="0.7" numOctaves="2" seed="7" result="n"/><feColorMatrix in="n" type="matrix" values="0.33 0.33 0.33 0 0  0.33 0.33 0.33 0 0  0.33 0.33 0.33 0 0  0 0 0 0 1" result="ng"/><feComposite in="b" in2="ng" operator="arithmetic" k1="0" k2="1" k3="0.55" k4="-0.275" result="c"/><feColorMatrix in="c" type="saturate" values="1.25" result="d"/><feComponentTransfer in="d"><feFuncR type="linear" slope="1.12" intercept="-0.05"/><feFuncG type="linear" slope="1.12" intercept="-0.05"/><feFuncB type="linear" slope="1.12" intercept="-0.05"/></feComponentTransfer></filter>
<g clip-path="url(#pc)"><g filter="url(#pb)">
<rect x="371" y="62" width="180" height="136" fill="#a08088"/>
<rect x="377" y="68" width="16" height="20" fill="#748a50"/>
<rect x="377" y="68" width="9" height="5" fill="#a07058"/>
<rect x="388" y="68" width="8" height="10" fill="#4a5038"/>
<rect x="392" y="68" width="7" height="7" fill="#4a4030"/>
<polygon points="377,87 392,86 398,95 405,110 412,122 408,132 405,145 377,145" fill="#a4dc98"/>
<rect x="377" y="99" width="4" height="46" fill="#78b868"/>
<ellipse cx="390" cy="137" rx="11" ry="7" fill="#6a9858"/>
<ellipse cx="386" cy="138" rx="6" ry="4" fill="#507c40"/>
<ellipse cx="380" cy="132" rx="4" ry="3" fill="#b0e0a8"/>
<polygon points="394,96 406,94 413,104 414,126 407,124 399,108" fill="#8a8a50"/>
<polygon points="392,70 430,68 437,78 440,99 432,110 425,118 414,118 412,104 406,94 392,88" fill="#eedcdc"/>
<rect x="405" y="110" width="27" height="20" fill="#d8c4bc"/>
<rect x="394" y="70" width="16" height="18" fill="#d4bcb4"/>
<rect x="405" y="68" width="14" height="8" fill="#c8c0b8"/>
<rect x="445" y="66" width="16" height="6" fill="#80c070"/>
<rect x="425" y="66" width="22" height="8" fill="#2a3422"/>
<rect x="443" y="72" width="20" height="27" fill="#e2b8cc"/>
<polygon points="434,69 443,69 442,80 441,90 440,100 437,100 438,88 437,78" fill="#1c2418"/>
<ellipse cx="446" cy="108" rx="10" ry="9" fill="#a0d098"/>
<line x1="437" y1="100" x2="430" y2="113" stroke="#2a2a20" stroke-width="2.2" stroke-linecap="round"/>
<rect x="430" y="114" width="15" height="16" fill="#c0a8a0"/>
<rect x="455" y="99" width="6" height="31" fill="#c0a0a8"/>
<rect x="408" y="122" width="11" height="8" fill="#c09090"/>
<rect x="397" y="122" width="11" height="8" fill="#608040"/>
<polygon points="457,66 516,66 509,79 497,85 488,91 475,98 461,101" fill="#6cb860"/>
<rect x="461" y="84" width="4" height="17" fill="#e0c8c8"/>
<rect x="461" y="99" width="15" height="9" fill="#c0a0a0"/>
<polygon points="505,85 516,80 520,99 490,99" fill="#243a24"/>
<polygon points="516,66 528,66 526,85 505,85" fill="#102010"/>
<rect x="528" y="66" width="19" height="10" fill="#708070"/>
<rect x="528" y="75" width="19" height="24" fill="#706068"/>
<rect x="515" y="85" width="15" height="14" fill="#404840"/>
<rect x="465" y="103" width="38" height="27" fill="#8a5060"/>
<rect x="503" y="99" width="44" height="31" fill="#6a3040"/>
<ellipse cx="511" cy="126" rx="5" ry="6" fill="#908070"/>
<rect x="503" y="130" width="44" height="31" fill="#5a2530"/>
<rect x="515" y="130" width="13" height="8" fill="#507040"/>
<rect x="535" y="130" width="12" height="31" fill="#705060"/>
<rect x="461" y="99" width="9" height="6" fill="#a0d098"/>
<rect x="483" y="99" width="12" height="8" fill="#a07040"/>
<rect x="375" y="145" width="30" height="16" fill="#e0b0b0"/>
<rect x="397" y="148" width="13" height="10" fill="#c8b098"/>
<rect x="405" y="130" width="14" height="31" fill="#d898a0"/>
<rect x="419" y="130" width="42" height="31" fill="#d0a0a8"/>
<line x1="447" y1="135" x2="437" y2="155" stroke="#302020" stroke-width="3" stroke-linecap="round"/>
<rect x="450" y="145" width="8" height="5" fill="#c08060"/>
<rect x="461" y="130" width="17" height="28" fill="#b08888"/>
<rect x="478" y="130" width="17" height="13" fill="#906068"/>
<rect x="478" y="143" width="12" height="15" fill="#d0c0a8"/>
<rect x="495" y="140" width="8" height="21" fill="#402830"/>
<line x1="472" y1="130" x2="485" y2="145" stroke="#302028" stroke-width="3" stroke-linecap="round"/>
<rect x="375" y="161" width="44" height="33" fill="#4a8a30"/>
<polygon points="375,168 388,178 398,194 375,194" fill="#b0e0a0"/>
<rect x="375" y="161" width="8" height="9" fill="#305028"/>
<rect x="395" y="161" width="15" height="11" fill="#203018"/>
<rect x="408" y="161" width="11" height="7" fill="#d0a0a0"/>
<rect x="405" y="170" width="7" height="6" fill="#a0e090"/>
<rect x="417" y="159" width="44" height="16" fill="#d8b0a8"/>
<rect x="419" y="175" width="13" height="19" fill="#203020"/>
<rect x="417" y="175" width="33" height="19" fill="#1c2c1c"/>
<rect x="450" y="175" width="11" height="5" fill="#406840"/>
<rect x="448" y="178" width="13" height="16" fill="#58a060"/>
<rect x="461" y="158" width="42" height="36" fill="#386a40"/>
<rect x="468" y="161" width="32" height="17" fill="#467c4a"/>
<rect x="478" y="168" width="12" height="8" fill="#203828"/>
<rect x="485" y="178" width="18" height="16" fill="#102030"/>
<rect x="461" y="155" width="34" height="6" fill="#4a8a4a"/>
<rect x="503" y="161" width="44" height="33" fill="#204830"/>
<polygon points="505,172 525,168 547,172 547,186 530,184 505,185" fill="#407050"/>
<rect x="510" y="161" width="25" height="9" fill="#402030"/>
</g>
<g opacity="0.75"><circle cx="453.0" cy="137.4" r="1.1" fill="#d9b3b9"/>
<circle cx="520.6" cy="91.5" r="1.1" fill="#797e79"/>
<circle cx="480.1" cy="91.1" r="0.9" fill="#89c67f"/>
<circle cx="392.2" cy="168.4" r="1.2" fill="#9bbe8d"/>
<circle cx="477.0" cy="117.1" r="1.2" fill="#a1737f"/>
<circle cx="480.4" cy="87.5" r="1.4" fill="#3b6534"/>
<circle cx="387.6" cy="72.4" r="1.2" fill="#516038"/>
<circle cx="507.7" cy="108.5" r="1.4" fill="#966e79"/>
<circle cx="464.2" cy="147.4" r="0.7" fill="#bf9f9f"/>
<circle cx="391.3" cy="149.2" r="1.5" fill="#e6bfbf"/>
<circle cx="544.3" cy="172.2" r="0.9" fill="#95b09e"/>
<circle cx="504.3" cy="131.6" r="0.8" fill="#31141a"/>
<circle cx="505.7" cy="117.6" r="1.0" fill="#542633"/>
<circle cx="538.0" cy="173.1" r="0.9" fill="#233d2c"/>
<circle cx="532.7" cy="74.5" r="1.5" fill="#8c998c"/>
<circle cx="443.8" cy="77.1" r="0.9" fill="#efd7e2"/>
<circle cx="490.4" cy="109.8" r="1.0" fill="#6e404c"/>
<circle cx="539.0" cy="162.0" r="0.8" fill="#11271a"/>
<circle cx="495.8" cy="69.4" r="1.3" fill="#89c67f"/>
<circle cx="406.8" cy="137.4" r="1.1" fill="#dfacb3"/>
<circle cx="542.5" cy="163.4" r="1.2" fill="#4c6c59"/>
<circle cx="396.6" cy="120.2" r="0.7" fill="#729a6a"/>
<circle cx="522.2" cy="188.9" r="0.9" fill="#627e6e"/>
<circle cx="525.7" cy="94.1" r="1.5" fill="#666c66"/>
<circle cx="478.1" cy="139.5" r="1.5" fill="#4f3439"/>
<circle cx="412.8" cy="100.0" r="1.0" fill="#f3e6e6"/>
<circle cx="426.8" cy="77.1" r="0.9" fill="#827979"/>
<circle cx="483.9" cy="69.9" r="1.0" fill="#56934c"/>
<circle cx="453.1" cy="186.9" r="1.4" fill="#79b37f"/>
<circle cx="399.8" cy="115.9" r="0.8" fill="#ccebc6"/>
<circle cx="529.6" cy="169.4" r="1.3" fill="#2c1621"/>
<circle cx="403.6" cy="146.0" r="0.9" fill="#e9c7c7"/>
<circle cx="536.6" cy="177.4" r="0.8" fill="#799a84"/>
<circle cx="385.0" cy="81.5" r="1.5" fill="#9dad84"/>
<circle cx="417.1" cy="155.4" r="1.0" fill="#ac7980"/>
<circle cx="529.0" cy="128.9" r="0.8" fill="#966e79"/>
<circle cx="498.0" cy="76.5" r="1.1" fill="#4b8043"/>
<circle cx="486.8" cy="144.4" r="0.9" fill="#72695c"/>
<circle cx="531.1" cy="93.3" r="0.8" fill="#3d3439"/>
<circle cx="446.1" cy="98.9" r="0.8" fill="#7c6570"/>
<circle cx="439.0" cy="138.9" r="0.8" fill="#917075"/>
<circle cx="400.3" cy="123.8" r="1.2" fill="#4c6633"/>
<circle cx="493.1" cy="140.5" r="1.2" fill="#644348"/>
<circle cx="532.2" cy="126.9" r="1.3" fill="#542633"/>
<circle cx="538.7" cy="70.6" r="0.8" fill="#b0b9b0"/>
<circle cx="388.3" cy="106.6" r="1.5" fill="#729a6a"/>
<circle cx="389.6" cy="135.7" r="0.7" fill="#9eb695"/>
<circle cx="534.3" cy="159.4" r="1.3" fill="#3e1921"/>
<circle cx="530.7" cy="111.6" r="1.1" fill="#ad8d95"/>
<circle cx="390.0" cy="174.3" r="1.4" fill="#284b1a"/>
<circle cx="473.2" cy="145.5" r="1.0" fill="#bf9f9f"/>
<circle cx="379.1" cy="77.0" r="1.2" fill="#3f4b2c"/>
<circle cx="543.9" cy="177.1" r="1.0" fill="#95b09e"/>
<circle cx="534.0" cy="154.1" r="1.1" fill="#7b5059"/>
<circle cx="517.8" cy="78.4" r="0.7" fill="#576257"/>
<circle cx="478.0" cy="127.6" r="1.5" fill="#603843"/>
<circle cx="396.0" cy="164.7" r="1.4" fill="#848d7f"/>
<circle cx="420.0" cy="69.4" r="0.8" fill="#beb0b0"/>
<circle cx="479.8" cy="132.3" r="1.2" fill="#734c53"/>
<circle cx="451.2" cy="178.6" r="1.0" fill="#46804c"/>
<circle cx="419.1" cy="146.6" r="1.4" fill="#917075"/>
<circle cx="441.6" cy="140.3" r="0.9" fill="#a68086"/>
<circle cx="399.6" cy="111.5" r="1.3" fill="#5a7953"/>
<circle cx="536.6" cy="102.3" r="0.8" fill="#4a212c"/>
<circle cx="456.2" cy="182.8" r="1.0" fill="#79b37f"/>
<circle cx="464.4" cy="151.3" r="1.4" fill="#d3bdbd"/>
<circle cx="542.0" cy="124.1" r="1.4" fill="#3a1a23"/>
<circle cx="423.7" cy="143.3" r="1.3" fill="#e5cacf"/>
<circle cx="472.9" cy="106.3" r="0.7" fill="#ad848f"/>
<circle cx="399.8" cy="124.4" r="1.3" fill="#344623"/>
<circle cx="421.8" cy="164.6" r="1.5" fill="#76605c"/>
<circle cx="396.4" cy="81.5" r="1.2" fill="#e0d0ca"/>
<circle cx="512.6" cy="186.8" r="0.9" fill="#849a8d"/>
<circle cx="515.4" cy="99.7" r="0.7" fill="#ad8d95"/>
<circle cx="456.3" cy="156.6" r="0.9" fill="#917075"/>
<circle cx="507.8" cy="134.9" r="1.1" fill="#8b666e"/>
<circle cx="544.5" cy="87.7" r="1.4" fill="#b0a7ab"/>
<circle cx="391.7" cy="183.6" r="1.0" fill="#9bbe8d"/>
<circle cx="452.7" cy="92.4" r="1.0" fill="#7c6570"/>
<circle cx="472.6" cy="177.0" r="1.1" fill="#38633b"/>
<circle cx="486.4" cy="93.4" r="1.4" fill="#cab9bd"/>
<circle cx="511.1" cy="182.6" r="0.9" fill="#233d2c"/>
<circle cx="528.2" cy="189.6" r="1.1" fill="#193926"/>
<circle cx="509.9" cy="107.7" r="1.4" fill="#ad8d95"/>
<circle cx="435.5" cy="78.3" r="1.0" fill="#f1e3e3"/>
<circle cx="447.8" cy="102.1" r="0.9" fill="#587253"/>
<circle cx="522.7" cy="121.2" r="0.8" fill="#3a1a23"/>
<circle cx="433.3" cy="165.7" r="1.1" fill="#977b75"/>
<circle cx="545.0" cy="179.7" r="1.4" fill="#799a84"/>
<circle cx="492.8" cy="185.3" r="1.2" fill="#3f4c59"/>
<circle cx="492.8" cy="162.0" r="1.1" fill="#6b966e"/>
<circle cx="425.7" cy="158.4" r="0.8" fill="#e5cacf"/>
<circle cx="463.4" cy="180.5" r="0.9" fill="#2c5433"/>
<circle cx="441.0" cy="172.8" r="0.9" fill="#e3c7c2"/>
<circle cx="519.9" cy="188.1" r="0.9" fill="#627e6e"/>
<circle cx="460.6" cy="119.0" r="1.1" fill="#69585c"/>
<circle cx="478.7" cy="71.4" r="1.1" fill="#3b6534"/>
<circle cx="444.3" cy="167.3" r="0.8" fill="#e3c7c2"/>
<circle cx="392.7" cy="88.7" r="1.1" fill="#bfe6b6"/>
<circle cx="531.7" cy="167.2" r="0.9" fill="#664c59"/>
<circle cx="456.5" cy="83.7" r="1.4" fill="#e7c6d6"/>
<circle cx="534.2" cy="182.1" r="1.0" fill="#799a84"/>
<circle cx="409.2" cy="144.6" r="0.8" fill="#ac7980"/>
<circle cx="507.9" cy="70.8" r="0.8" fill="#4b8043"/>
<circle cx="379.0" cy="103.2" r="1.0" fill="#b4d7ab"/>
<circle cx="481.1" cy="81.0" r="1.2" fill="#aed7a7"/>
<circle cx="520.1" cy="145.3" r="0.9" fill="#a4878d"/>
<circle cx="466.1" cy="122.2" r="1.2" fill="#a1737f"/>
<circle cx="515.6" cy="144.4" r="0.9" fill="#8b666e"/>
<circle cx="483.1" cy="147.2" r="0.9" fill="#ded2c2"/>
<circle cx="468.2" cy="140.7" r="0.9" fill="#7b5f5f"/>
<circle cx="501.4" cy="168.5" r="1.0" fill="#274a2c"/>
<circle cx="429.9" cy="182.4" r="1.3" fill="#131e13"/>
<circle cx="409.7" cy="80.0" r="0.8" fill="#94837d"/>
<circle cx="391.8" cy="116.1" r="1.4" fill="#b6e3ac"/>
<circle cx="447.8" cy="166.0" r="0.9" fill="#977b75"/>
<circle cx="482.5" cy="167.1" r="0.9" fill="#264428"/>
<circle cx="491.6" cy="181.0" r="0.8" fill="#0c1926"/>
<circle cx="462.0" cy="162.0" r="1.5" fill="#739679"/>
<circle cx="516.9" cy="167.6" r="0.8" fill="#664c59"/>
<circle cx="383.3" cy="136.4" r="1.4" fill="#84a379"/>
<circle cx="457.9" cy="91.5" r="0.9" fill="#7c6570"/>
<circle cx="518.2" cy="190.8" r="0.8" fill="#849a8d"/>
<circle cx="387.4" cy="186.0" r="0.8" fill="#bfe6b3"/>
<circle cx="393.2" cy="116.5" r="1.1" fill="#b6e3ac"/>
<circle cx="449.3" cy="142.5" r="1.2" fill="#72585c"/>
<circle cx="383.9" cy="92.8" r="1.1" fill="#b6e3ac"/>
<circle cx="501.2" cy="118.3" r="1.2" fill="#603843"/>
<circle cx="392.9" cy="166.3" r="1.4" fill="#3b6e26"/>
<circle cx="511.7" cy="155.4" r="1.5" fill="#a4878d"/>
<circle cx="472.7" cy="91.7" r="1.5" fill="#98cd8f"/>
<circle cx="512.2" cy="100.0" r="1.3" fill="#3a1a23"/>
<circle cx="507.7" cy="169.0" r="0.8" fill="#4c6c59"/>
<circle cx="432.4" cy="134.8" r="1.3" fill="#a68086"/>
<circle cx="505.6" cy="118.3" r="0.8" fill="#ad8d95"/>
<circle cx="511.0" cy="105.4" r="0.7" fill="#3a1a23"/>
<circle cx="436.7" cy="147.2" r="0.7" fill="#debcc2"/>
<circle cx="422.9" cy="187.2" r="1.0" fill="#162316"/>
<circle cx="487.8" cy="138.6" r="0.8" fill="#b18f95"/>
<circle cx="463.5" cy="129.7" r="1.3" fill="#70595f"/>
<circle cx="505.0" cy="189.5" r="0.8" fill="#11271a"/>
<circle cx="395.2" cy="97.4" r="1.0" fill="#a1a173"/>
<circle cx="385.5" cy="92.2" r="0.7" fill="#b6e3ac"/>
<circle cx="420.4" cy="102.2" r="1.1" fill="#beb0b0"/>
<circle cx="462.3" cy="187.9" r="1.4" fill="#739679"/>
<circle cx="393.7" cy="123.1" r="0.8" fill="#ccebc6"/>
<circle cx="477.4" cy="162.1" r="1.0" fill="#264428"/>
<circle cx="534.7" cy="115.9" r="1.4" fill="#4a212c"/>
<circle cx="468.0" cy="142.0" r="1.5" fill="#bf9f9f"/>
<circle cx="447.7" cy="133.3" r="0.9" fill="#debcc2"/>
<circle cx="466.1" cy="127.9" r="1.1" fill="#6e404c"/>
<circle cx="424.6" cy="156.9" r="0.7" fill="#a68086"/>
<circle cx="506.8" cy="140.6" r="0.8" fill="#a4878d"/>
<circle cx="503.8" cy="116.4" r="1.3" fill="#542633"/>
<circle cx="385.4" cy="190.6" r="0.8" fill="#8cb380"/>
<circle cx="529.1" cy="121.3" r="0.9" fill="#875966"/>
<circle cx="503.9" cy="73.6" r="1.4" fill="#3b6534"/>
<circle cx="498.4" cy="126.1" r="1.2" fill="#603843"/>
<circle cx="396.3" cy="145.4" r="0.8" fill="#e6bfbf"/>
<circle cx="521.7" cy="112.2" r="0.8" fill="#4a212c"/>
<circle cx="451.4" cy="150.8" r="1.2" fill="#d9b3b9"/>
<circle cx="484.5" cy="152.6" r="1.3" fill="#a69986"/>
<circle cx="466.2" cy="191.7" r="1.3" fill="#2c5433"/>
<circle cx="417.1" cy="82.1" r="1.3" fill="#beb0b0"/>
<circle cx="482.0" cy="112.5" r="1.2" fill="#6e404c"/>
<circle cx="498.8" cy="154.7" r="1.2" fill="#2c1c21"/>
<circle cx="503.6" cy="91.5" r="1.1" fill="#192819"/>
<circle cx="486.7" cy="92.3" r="0.7" fill="#cab9bd"/>
<circle cx="387.2" cy="101.6" r="0.7" fill="#b6e3ac"/>
<circle cx="383.4" cy="95.6" r="0.8" fill="#83b079"/>
<circle cx="391.5" cy="151.9" r="0.9" fill="#e9c7c7"/>
<circle cx="541.9" cy="128.0" r="0.9" fill="#542633"/>
<circle cx="434.7" cy="160.4" r="1.3" fill="#76605c"/>
<circle cx="452.1" cy="169.9" r="1.1" fill="#977b75"/>
<circle cx="502.5" cy="116.4" r="1.0" fill="#603843"/>
<circle cx="486.8" cy="190.7" r="0.9" fill="#0c1926"/>
<circle cx="504.5" cy="170.4" r="1.0" fill="#163221"/>
<circle cx="439.0" cy="80.0" r="0.8" fill="#161c13"/>
<circle cx="390.9" cy="138.0" r="1.4" fill="#739666"/>
<circle cx="454.9" cy="170.1" r="0.8" fill="#76605c"/>
<circle cx="412.8" cy="150.1" r="1.3" fill="#765358"/>
<circle cx="460.1" cy="162.8" r="0.9" fill="#ac8c86"/>
<circle cx="401.0" cy="112.4" r="1.0" fill="#ccebc6"/>
<circle cx="529.3" cy="108.0" r="1.2" fill="#875966"/>
<circle cx="531.3" cy="184.6" r="1.1" fill="#193926"/>
<circle cx="511.9" cy="105.8" r="0.9" fill="#542633"/>
<circle cx="539.6" cy="158.5" r="0.9" fill="#9a848f"/>
<circle cx="437.8" cy="113.3" r="1.2" fill="#80666c"/>
<circle cx="475.2" cy="166.7" r="1.2" fill="#99b69b"/>
<circle cx="510.9" cy="135.0" r="1.2" fill="#8b666e"/>
<circle cx="406.7" cy="162.1" r="1.3" fill="#192613"/>
<circle cx="414.2" cy="75.2" r="1.2" fill="#8c8680"/>
<circle cx="539.4" cy="148.7" r="0.8" fill="#8c737f"/>
<circle cx="468.9" cy="165.7" r="1.0" fill="#264428"/>
<circle cx="423.0" cy="81.1" r="0.8" fill="#beb0b0"/>
<circle cx="483.5" cy="85.8" r="1.4" fill="#aed7a7"/>
<circle cx="447.9" cy="156.3" r="1.3" fill="#d9b3b9"/>
<circle cx="464.6" cy="162.8" r="1.0" fill="#5f8766"/>
<circle cx="512.6" cy="109.3" r="1.1" fill="#4a212c"/>
<circle cx="467.3" cy="157.4" r="1.2" fill="#9bbe9b"/>
<circle cx="384.8" cy="161.9" r="1.0" fill="#9bbe8d"/>
<circle cx="377.6" cy="114.9" r="1.4" fill="#426539"/>
<circle cx="537.9" cy="147.4" r="1.0" fill="#9a848f"/>
<circle cx="378.7" cy="81.6" r="1.4" fill="#8fa173"/>
<circle cx="418.3" cy="88.1" r="1.0" fill="#f5ebeb"/>
<circle cx="405.2" cy="93.3" r="1.1" fill="#f1e3e3"/>
<circle cx="423.0" cy="177.9" r="0.9" fill="#495649"/>
<circle cx="396.3" cy="148.3" r="1.4" fill="#9c7b7b"/>
<circle cx="503.5" cy="70.1" r="1.4" fill="#89c67f"/>
<circle cx="383.1" cy="81.5" r="1.0" fill="#516038"/>
<circle cx="475.8" cy="142.4" r="1.2" fill="#bf9f9f"/>
<circle cx="414.6" cy="90.9" r="1.0" fill="#beb0b0"/>
<circle cx="530.0" cy="184.2" r="1.1" fill="#849a8d"/>
<circle cx="514.3" cy="127.5" r="1.1" fill="#736659"/>
<circle cx="444.6" cy="186.5" r="1.1" fill="#828a82"/>
<circle cx="537.8" cy="127.8" r="1.0" fill="#4a212c"/>
<circle cx="413.5" cy="84.7" r="1.5" fill="#f1e3e3"/>
<circle cx="510.5" cy="164.0" r="1.2" fill="#23111a"/>
<circle cx="416.9" cy="69.3" r="1.4" fill="#d3ccc6"/>
<circle cx="452.6" cy="98.6" r="1.2" fill="#e7c6d6"/>
<circle cx="403.4" cy="87.5" r="0.8" fill="#a99690"/>
<circle cx="529.6" cy="168.4" r="1.2" fill="#2c1621"/>
<circle cx="543.8" cy="101.0" r="0.7" fill="#966e79"/>
<circle cx="473.1" cy="90.1" r="1.4" fill="#4b8043"/>
<circle cx="519.2" cy="169.9" r="1.0" fill="#23111a"/>
<circle cx="480.3" cy="133.5" r="1.3" fill="#a67f86"/>
<circle cx="390.9" cy="160.8" r="1.4" fill="#e9c7c7"/>
<circle cx="428.0" cy="165.9" r="0.9" fill="#dfbfb9"/>
<circle cx="491.6" cy="164.9" r="0.9" fill="#6b966e"/>
<circle cx="468.3" cy="133.2" r="1.5" fill="#7b5f5f"/>
<circle cx="538.9" cy="107.2" r="0.8" fill="#875966"/>
<circle cx="428.4" cy="125.9" r="0.8" fill="#e9deda"/>
<circle cx="389.5" cy="85.4" r="1.0" fill="#b2be9e"/>
<circle cx="454.6" cy="187.9" r="1.2" fill="#305834"/>
<circle cx="379.1" cy="114.8" r="1.1" fill="#b4d7ab"/>
<circle cx="426.3" cy="82.1" r="1.4" fill="#827979"/>
<circle cx="518.9" cy="157.2" r="0.8" fill="#8b666e"/>
<circle cx="482.5" cy="184.2" r="0.9" fill="#91ad95"/>
<circle cx="433.7" cy="116.6" r="0.8" fill="#dccfca"/>
<circle cx="408.7" cy="114.7" r="1.0" fill="#766b67"/>
<circle cx="535.8" cy="137.8" r="1.2" fill="#b09ea7"/>
<circle cx="452.1" cy="115.4" r="0.8" fill="#58464a"/>
<circle cx="392.9" cy="152.0" r="0.8" fill="#edd3d3"/>
<circle cx="409.5" cy="72.5" r="1.2" fill="#d3ccc6"/>
<circle cx="392.1" cy="96.1" r="1.5" fill="#729a6a"/>
<circle cx="449.9" cy="163.6" r="1.4" fill="#ac8c86"/>
<circle cx="448.7" cy="131.4" r="0.9" fill="#e5cacf"/>
<circle cx="401.9" cy="153.7" r="1.0" fill="#d3bfac"/>
<circle cx="446.2" cy="69.9" r="1.2" fill="#545c4e"/>
<circle cx="430.4" cy="165.8" r="1.2" fill="#977b75"/>
<circle cx="479.2" cy="70.3" r="0.9" fill="#56934c"/>
<circle cx="428.5" cy="122.7" r="1.0" fill="#e3d5d0"/>
<circle cx="462.6" cy="165.8" r="1.2" fill="#1e3a23"/>
<circle cx="403.6" cy="163.0" r="1.1" fill="#192613"/>
<circle cx="436.2" cy="130.1" r="1.2" fill="#917075"/>
<circle cx="410.3" cy="183.8" r="1.3" fill="#9bbe8d"/>
<circle cx="534.2" cy="138.4" r="1.2" fill="#31141a"/>
<circle cx="410.2" cy="78.3" r="1.1" fill="#a69a9a"/>
<circle cx="447.1" cy="109.4" r="1.4" fill="#587253"/>
<circle cx="437.7" cy="125.4" r="1.1" fill="#695c58"/>
<circle cx="499.6" cy="97.6" r="1.1" fill="#657565"/>
<circle cx="471.2" cy="137.5" r="0.8" fill="#8c6c6c"/>
<circle cx="502.3" cy="179.2" r="1.2" fill="#0c1926"/>
<circle cx="397.6" cy="170.3" r="1.2" fill="#192613"/>
<circle cx="438.1" cy="162.0" r="1.4" fill="#ac8c86"/>
<circle cx="408.2" cy="135.9" r="1.1" fill="#765358"/>
<circle cx="444.8" cy="165.1" r="0.8" fill="#e9d3cf"/>
<circle cx="504.0" cy="173.1" r="1.2" fill="#4c6c59"/>
<circle cx="484.6" cy="162.7" r="0.9" fill="#315633"/>
<circle cx="455.6" cy="85.7" r="0.8" fill="#e7c6d6"/>
<circle cx="445.2" cy="109.7" r="0.9" fill="#70916a"/>
<circle cx="472.4" cy="109.2" r="1.3" fill="#be9ea7"/>
<circle cx="498.2" cy="165.7" r="1.5" fill="#6b966e"/>
<circle cx="477.8" cy="126.3" r="1.4" fill="#a1737f"/>
<circle cx="530.4" cy="138.0" r="1.3" fill="#7b5059"/>
<circle cx="458.6" cy="191.3" r="1.0" fill="#a3caa7"/>
<circle cx="449.9" cy="138.2" r="1.0" fill="#debcc2"/>
<circle cx="464.5" cy="120.1" r="1.0" fill="#58464a"/>
<circle cx="386.2" cy="158.0" r="1.3" fill="#e6bfbf"/>
<circle cx="477.4" cy="161.2" r="1.4" fill="#38633b"/>
<circle cx="524.3" cy="98.3" r="0.9" fill="#666c66"/>
<circle cx="523.7" cy="188.6" r="1.3" fill="#4c6c59"/>
<circle cx="465.4" cy="97.7" r="1.2" fill="#56934c"/>
<circle cx="535.0" cy="177.1" r="1.5" fill="#95b09e"/>
<circle cx="488.8" cy="175.4" r="1.2" fill="#4c5f53"/>
<circle cx="404.6" cy="148.5" r="1.2" fill="#d3bfac"/>
<circle cx="528.8" cy="80.2" r="0.8" fill="#4e4348"/>
<circle cx="467.3" cy="185.9" r="0.9" fill="#1e3a23"/>
<circle cx="499.3" cy="71.0" r="0.8" fill="#4b8043"/>
<circle cx="527.4" cy="169.1" r="0.8" fill="#664c59"/>
<circle cx="493.3" cy="96.6" r="0.7" fill="#1c2e1c"/>
<circle cx="528.0" cy="106.2" r="0.8" fill="#875966"/>
<circle cx="507.5" cy="164.3" r="0.9" fill="#163221"/>
<circle cx="521.3" cy="153.9" r="0.9" fill="#31141a"/>
<circle cx="517.8" cy="111.9" r="0.7" fill="#875966"/>
<circle cx="483.7" cy="154.5" r="0.9" fill="#ded2c2"/>
<circle cx="483.2" cy="91.7" r="1.2" fill="#3b6534"/>
<circle cx="428.4" cy="169.4" r="1.4" fill="#ac8c86"/>
<circle cx="496.8" cy="84.7" r="1.5" fill="#aed7a7"/>
<circle cx="507.9" cy="119.5" r="0.9" fill="#4a212c"/>
<circle cx="428.6" cy="156.1" r="0.9" fill="#917075"/>
<circle cx="498.0" cy="130.2" r="1.3" fill="#80666c"/>
<circle cx="439.6" cy="150.1" r="1.2" fill="#1a1111"/>
<circle cx="415.5" cy="105.3" r="1.2" fill="#a69a9a"/>
<circle cx="423.5" cy="147.4" r="1.1" fill="#72585c"/>
<circle cx="389.8" cy="181.7" r="1.1" fill="#607b58"/>
<circle cx="384.6" cy="142.4" r="1.1" fill="#547946"/>
<circle cx="448.1" cy="138.5" r="0.9" fill="#917075"/>
<circle cx="504.0" cy="98.5" r="1.3" fill="#1c2e1c"/>
<circle cx="381.8" cy="166.0" r="1.5" fill="#21381c"/>
<circle cx="382.6" cy="125.2" r="1.0" fill="#bfe6b6"/>
<circle cx="533.1" cy="130.0" r="0.8" fill="#4a212c"/>
<circle cx="507.5" cy="180.8" r="1.2" fill="#335940"/>
<circle cx="508.5" cy="132.1" r="1.4" fill="#8b666e"/>
<circle cx="483.6" cy="189.9" r="1.5" fill="#91ad95"/>
<circle cx="406.2" cy="164.7" r="0.8" fill="#162110"/>
<circle cx="450.2" cy="150.9" r="1.3" fill="#debcc2"/>
<circle cx="509.1" cy="166.1" r="0.9" fill="#163221"/>
<circle cx="468.4" cy="173.7" r="1.1" fill="#7da380"/>
<circle cx="382.9" cy="142.0" r="0.7" fill="#adc6a3"/>
<circle cx="452.3" cy="177.2" r="0.8" fill="#335333"/>
<circle cx="380.0" cy="129.5" r="1.1" fill="#bfe6b9"/>
<circle cx="498.5" cy="174.2" r="0.8" fill="#264428"/>
<circle cx="529.4" cy="138.5" r="1.2" fill="#8b666e"/>
<circle cx="498.3" cy="145.3" r="0.9" fill="#23161a"/>
<circle cx="384.1" cy="107.0" r="1.3" fill="#bfe6b6"/>
<circle cx="508.2" cy="162.9" r="0.8" fill="#4c6c59"/>
<circle cx="514.9" cy="89.3" r="0.9" fill="#1c2e1c"/>
<circle cx="460.5" cy="149.7" r="1.3" fill="#debcc2"/>
<circle cx="387.3" cy="118.9" r="1.3" fill="#83b079"/>
<circle cx="495.2" cy="186.7" r="1.1" fill="#0b1621"/>
<circle cx="504.9" cy="190.3" r="1.3" fill="#163221"/>
<circle cx="464.6" cy="190.2" r="0.9" fill="#1e3a23"/>
<circle cx="526.5" cy="85.6" r="1.1" fill="#666c66"/>
<circle cx="456.3" cy="184.0" r="1.2" fill="#305834"/>
<circle cx="497.5" cy="189.0" r="0.9" fill="#57626e"/>
<circle cx="419.5" cy="136.4" r="1.0" fill="#917075"/>
<circle cx="391.5" cy="96.2" r="1.0" fill="#83b079"/>
<circle cx="541.8" cy="143.8" r="0.8" fill="#3d2c34"/>
<circle cx="475.3" cy="191.3" r="1.0" fill="#91ad95"/>
<circle cx="493.7" cy="175.2" r="1.4" fill="#7da380"/>
<circle cx="406.8" cy="174.6" r="1.0" fill="#709c64"/>
<circle cx="508.3" cy="94.7" r="0.9" fill="#1c2e1c"/>
<circle cx="510.3" cy="167.7" r="0.9" fill="#664c59"/>
<circle cx="413.0" cy="126.0" r="1.1" fill="#997373"/>
<circle cx="459.4" cy="145.7" r="1.4" fill="#917075"/>
<circle cx="411.4" cy="115.5" r="0.7" fill="#766b67"/>
<circle cx="423.5" cy="185.6" r="0.7" fill="#606b60"/>
<circle cx="407.6" cy="100.5" r="1.2" fill="#a1a173"/>
<circle cx="486.1" cy="95.0" r="1.0" fill="#58464a"/>
<circle cx="402.8" cy="184.1" r="0.8" fill="#3b6e26"/>
<circle cx="417.5" cy="172.1" r="0.7" fill="#76605c"/>
<circle cx="431.1" cy="115.7" r="1.4" fill="#695c58"/>
<circle cx="441.1" cy="99.8" r="1.2" fill="#bca6ab"/>
<circle cx="427.8" cy="143.4" r="0.7" fill="#d9b3b9"/>
<circle cx="402.3" cy="141.8" r="0.9" fill="#5a7953"/>
<circle cx="446.0" cy="127.3" r="0.8" fill="#cab9bd"/>
<circle cx="495.7" cy="100.3" r="1.1" fill="#cab9bd"/>
<circle cx="440.3" cy="177.1" r="1.1" fill="#162316"/>
<circle cx="452.5" cy="84.9" r="1.4" fill="#eacddb"/>
<circle cx="415.0" cy="104.2" r="1.2" fill="#beb0b0"/>
<circle cx="400.6" cy="173.2" r="1.2" fill="#9bbe8d"/>
<circle cx="472.1" cy="168.3" r="0.9" fill="#99b69b"/>
<circle cx="489.6" cy="182.0" r="1.1" fill="#0b1621"/>
<circle cx="436.4" cy="83.1" r="0.9" fill="#beb0b0"/>
<circle cx="483.3" cy="79.1" r="0.8" fill="#89c67f"/>
<circle cx="459.8" cy="128.7" r="0.9" fill="#998086"/>
<circle cx="495.2" cy="95.5" r="0.9" fill="#4f614f"/>
<circle cx="506.1" cy="111.5" r="0.9" fill="#ad8d95"/>
<circle cx="392.6" cy="110.4" r="1.3" fill="#b6e3ac"/>
<circle cx="457.4" cy="99.9" r="0.9" fill="#d2bcc2"/>
<circle cx="530.6" cy="179.9" r="1.0" fill="#233d2c"/>
<circle cx="387.6" cy="118.1" r="1.0" fill="#5a7953"/>
<circle cx="519.3" cy="105.2" r="1.0" fill="#ad8d95"/>
<circle cx="419.6" cy="70.9" r="1.0" fill="#beb0b0"/>
<circle cx="439.7" cy="104.9" r="1.4" fill="#cae5c6"/>
<circle cx="484.9" cy="115.7" r="1.5" fill="#6e404c"/>
<circle cx="437.9" cy="139.4" r="1.3" fill="#917075"/>
<circle cx="482.4" cy="145.0" r="1.2" fill="#d9ccb9"/>
<circle cx="387.7" cy="76.5" r="1.4" fill="#8fa173"/>
<circle cx="441.2" cy="180.8" r="1.3" fill="#0f180f"/>
<circle cx="491.8" cy="101.8" r="1.0" fill="#b38c66"/>
<circle cx="541.1" cy="86.6" r="0.9" fill="#4e4348"/>
<circle cx="420.4" cy="95.3" r="0.7" fill="#f3e6e6"/>
<circle cx="468.4" cy="116.8" r="1.1" fill="#603843"/>
<circle cx="519.6" cy="162.9" r="1.2" fill="#23111a"/>
<circle cx="471.2" cy="171.1" r="0.9" fill="#38633b"/>
<circle cx="394.5" cy="70.4" r="0.9" fill="#e7dad5"/>
<circle cx="443.6" cy="87.4" r="1.4" fill="#9e808e"/>
<circle cx="403.8" cy="145.1" r="1.3" fill="#e6bfbf"/>
<circle cx="426.3" cy="119.4" r="1.3" fill="#ac9c96"/>
<circle cx="466.7" cy="97.4" r="1.0" fill="#4b8043"/>
<circle cx="495.6" cy="181.8" r="0.8" fill="#7b848d"/>
<circle cx="387.6" cy="76.5" r="1.4" fill="#3f4b2c"/>
<circle cx="429.1" cy="173.3" r="1.3" fill="#e3c7c2"/>
<circle cx="457.8" cy="88.2" r="1.4" fill="#e7c6d6"/>
<circle cx="386.0" cy="99.5" r="1.3" fill="#bfe6b6"/>
<circle cx="493.6" cy="99.4" r="0.9" fill="#cab095"/>
<circle cx="497.2" cy="108.5" r="1.4" fill="#6e404c"/>
<circle cx="411.4" cy="137.9" r="1.2" fill="#976a70"/>
<circle cx="447.7" cy="155.7" r="1.3" fill="#debcc2"/>
<circle cx="422.2" cy="87.9" r="1.0" fill="#a69a9a"/>
<circle cx="489.5" cy="96.6" r="1.5" fill="#70595f"/>
<circle cx="456.3" cy="154.0" r="0.9" fill="#917075"/>
<circle cx="422.5" cy="99.2" r="1.0" fill="#f5ebeb"/>
<circle cx="533.8" cy="190.6" r="0.8" fill="#11271a"/>
<circle cx="544.6" cy="176.0" r="0.9" fill="#2c4e38"/>
<circle cx="499.8" cy="191.2" r="1.0" fill="#08111a"/>
<circle cx="529.0" cy="171.3" r="0.8" fill="#668c73"/>
<circle cx="388.3" cy="122.4" r="0.9" fill="#ccebc6"/>
<circle cx="442.8" cy="144.6" r="1.5" fill="#211616"/>
<circle cx="442.4" cy="154.1" r="0.9" fill="#debcc2"/>
<circle cx="522.6" cy="122.8" r="1.1" fill="#3a1a23"/>
<circle cx="527.6" cy="177.2" r="0.8" fill="#668c73"/>
<circle cx="431.4" cy="70.4" r="1.2" fill="#697064"/>
<circle cx="423.0" cy="117.6" r="0.9" fill="#ac9c96"/>
<circle cx="458.0" cy="113.4" r="1.1" fill="#998086"/>
<circle cx="402.5" cy="68.9" r="1.2" fill="#80666c"/>
<circle cx="377.7" cy="109.7" r="1.5" fill="#548048"/>
<circle cx="411.0" cy="175.5" r="0.7" fill="#b3e6a6"/>
<circle cx="436.0" cy="137.4" r="0.7" fill="#debcc2"/>
<circle cx="469.5" cy="149.5" r="0.9" fill="#c7abab"/>
<circle cx="408.7" cy="104.1" r="1.5" fill="#606038"/>
<circle cx="451.5" cy="171.4" r="0.7" fill="#e9d3cf"/>
<circle cx="521.0" cy="185.1" r="0.8" fill="#627e6e"/>
<circle cx="389.5" cy="112.5" r="0.9" fill="#bfe6b6"/>
<circle cx="463.4" cy="69.3" r="0.8" fill="#4b8043"/>
<circle cx="438.2" cy="163.1" r="1.3" fill="#ac8c86"/>
<circle cx="510.1" cy="159.2" r="0.9" fill="#7b5059"/>
<circle cx="466.3" cy="150.6" r="1.4" fill="#604a4a"/>
<circle cx="458.0" cy="172.2" r="0.9" fill="#dfbfb9"/>
<circle cx="529.8" cy="70.9" r="0.8" fill="#9aa69a"/>
<circle cx="431.4" cy="157.8" r="1.2" fill="#debcc2"/>
<circle cx="513.2" cy="113.2" r="1.1" fill="#ad8d95"/>
<circle cx="429.4" cy="76.3" r="1.0" fill="#f5ebeb"/>
<circle cx="392.8" cy="109.5" r="0.8" fill="#ccebc6"/>
<circle cx="384.9" cy="84.2" r="1.2" fill="#5c6e40"/>
<circle cx="406.8" cy="81.1" r="1.0" fill="#94837d"/>
<circle cx="407.6" cy="70.7" r="1.1" fill="#d3ccc6"/>
<circle cx="444.8" cy="107.9" r="1.4" fill="#bcdeb6"/>
<circle cx="504.9" cy="70.6" r="1.0" fill="#4b8043"/>
<circle cx="503.7" cy="81.4" r="1.0" fill="#56934c"/>
<circle cx="538.7" cy="95.2" r="1.3" fill="#8c7f86"/>
<circle cx="526.1" cy="168.8" r="1.2" fill="#23111a"/>
<circle cx="536.2" cy="108.0" r="1.3" fill="#4a212c"/>
<circle cx="465.2" cy="69.2" r="1.2" fill="#aed7a7"/>
<circle cx="440.5" cy="147.8" r="1.2" fill="#211616"/>
<circle cx="434.9" cy="122.5" r="1.2" fill="#dccfca"/>
<circle cx="461.8" cy="138.4" r="0.8" fill="#604a4a"/>
<circle cx="501.1" cy="160.3" r="1.2" fill="#5f8766"/>
<circle cx="447.5" cy="115.7" r="1.0" fill="#70916a"/>
<circle cx="467.9" cy="73.3" r="1.1" fill="#3b6534"/>
<circle cx="452.9" cy="103.2" r="1.2" fill="#587253"/>
<circle cx="533.5" cy="86.8" r="1.0" fill="#8c7f86"/>
<circle cx="420.0" cy="145.2" r="1.3" fill="#917075"/>
<circle cx="543.2" cy="117.9" r="1.3" fill="#4a212c"/>
<circle cx="527.8" cy="81.8" r="1.4" fill="#70595f"/>
<circle cx="486.1" cy="184.3" r="1.3" fill="#08111a"/>
<circle cx="462.9" cy="191.2" r="0.8" fill="#1e3a23"/>
<circle cx="383.4" cy="110.5" r="1.3" fill="#bfe6b6"/>
<circle cx="453.3" cy="134.5" r="0.9" fill="#d9b3b9"/>
<circle cx="424.0" cy="147.8" r="0.8" fill="#72585c"/>
<circle cx="451.0" cy="161.9" r="0.8" fill="#977b75"/>
<circle cx="460.4" cy="74.9" r="1.5" fill="#98cd8f"/>
<circle cx="388.0" cy="184.8" r="0.8" fill="#8cb380"/>
<circle cx="433.1" cy="183.2" r="1.4" fill="#131e13"/>
<circle cx="396.7" cy="90.5" r="0.7" fill="#b3999f"/>
<circle cx="491.6" cy="125.7" r="0.8" fill="#a1737f"/>
<circle cx="543.0" cy="93.6" r="1.0" fill="#b0a7ab"/>
<circle cx="537.8" cy="188.3" r="1.2" fill="#627e6e"/>
<circle cx="449.4" cy="69.9" r="1.3" fill="#669959"/>
<circle cx="518.9" cy="185.3" r="1.2" fill="#849a8d"/>
<circle cx="493.7" cy="90.4" r="0.8" fill="#70595f"/>
<circle cx="474.5" cy="73.1" r="0.8" fill="#56934c"/>
<circle cx="535.1" cy="143.6" r="0.9" fill="#59404c"/>
<circle cx="378.4" cy="76.6" r="1.3" fill="#516038"/>
<circle cx="437.5" cy="106.5" r="0.9" fill="#b3d9ac"/>
<circle cx="389.0" cy="101.0" r="1.4" fill="#83b079"/>
<circle cx="445.7" cy="124.6" r="0.8" fill="#bca6ab"/>
<circle cx="393.0" cy="131.7" r="0.9" fill="#87ac79"/>
<circle cx="474.3" cy="103.3" r="1.5" fill="#6e404c"/>
<circle cx="390.1" cy="148.4" r="1.4" fill="#9c7b7b"/>
<circle cx="442.1" cy="160.2" r="0.9" fill="#e3c7c2"/>
<circle cx="484.5" cy="113.5" r="0.9" fill="#6e404c"/>
<circle cx="451.1" cy="186.4" r="1.2" fill="#46804c"/>
<circle cx="379.1" cy="143.7" r="1.0" fill="#426539"/>
<circle cx="399.2" cy="179.0" r="1.0" fill="#3b6e26"/>
<circle cx="423.8" cy="80.7" r="0.8" fill="#f3e6e6"/>
<circle cx="487.4" cy="124.2" r="0.8" fill="#603843"/>
<circle cx="438.1" cy="114.4" r="1.2" fill="#dccfca"/>
<circle cx="494.1" cy="190.7" r="1.2" fill="#08111a"/>
<circle cx="403.2" cy="77.0" r="1.1" fill="#94837d"/>
<circle cx="430.1" cy="151.2" r="0.7" fill="#debcc2"/>
<circle cx="414.3" cy="70.6" r="1.0" fill="#d3ccc6"/>
<circle cx="415.6" cy="135.1" r="1.5" fill="#765358"/>
<circle cx="388.2" cy="125.3" r="1.3" fill="#b6e3ac"/>
<circle cx="533.6" cy="132.2" r="0.9" fill="#8b666e"/>
<circle cx="439.1" cy="85.7" r="0.8" fill="#494f46"/>
<circle cx="510.5" cy="68.4" r="1.3" fill="#aed7a7"/>
<circle cx="509.1" cy="180.4" r="1.3" fill="#95b09e"/>
<circle cx="499.8" cy="164.2" r="1.0" fill="#264428"/>
<circle cx="403.2" cy="114.0" r="1.5" fill="#6e6e40"/>
<circle cx="527.5" cy="71.0" r="1.0" fill="#80666c"/>
<circle cx="471.3" cy="188.8" r="0.9" fill="#1e3a23"/>
<circle cx="462.2" cy="83.4" r="0.9" fill="#98cd8f"/>
<circle cx="488.3" cy="131.2" r="0.9" fill="#734c53"/>
<circle cx="507.6" cy="98.6" r="1.1" fill="#4f614f"/>
<circle cx="543.3" cy="141.0" r="1.1" fill="#4e3843"/>
<circle cx="454.2" cy="173.5" r="1.3" fill="#76605c"/>
<circle cx="461.6" cy="85.9" r="1.1" fill="#e9d8d8"/>
<circle cx="445.3" cy="143.9" r="1.5" fill="#e5cacf"/>
<circle cx="446.4" cy="69.3" r="1.3" fill="#1d2417"/>
<circle cx="395.4" cy="159.4" r="0.8" fill="#e6bfbf"/>
<circle cx="466.2" cy="71.5" r="1.1" fill="#3b6534"/>
<circle cx="530.2" cy="135.4" r="1.0" fill="#31141a"/>
<circle cx="427.3" cy="94.6" r="0.8" fill="#f3e6e6"/>
<circle cx="531.4" cy="108.8" r="0.9" fill="#875966"/>
<circle cx="543.9" cy="137.5" r="1.2" fill="#4e3843"/>
<circle cx="461.2" cy="180.1" r="1.2" fill="#5f8766"/>
<circle cx="421.9" cy="142.4" r="1.0" fill="#917075"/>
<circle cx="449.1" cy="127.1" r="1.2" fill="#80666c"/>
<circle cx="433.1" cy="82.5" r="1.4" fill="#beb0b0"/>
<circle cx="387.4" cy="133.5" r="1.0" fill="#96b68a"/>
<circle cx="514.5" cy="151.7" r="1.0" fill="#a4878d"/>
<circle cx="429.8" cy="128.0" r="1.1" fill="#978983"/>
<circle cx="465.5" cy="158.9" r="1.0" fill="#3b6e3b"/>
<circle cx="539.3" cy="68.9" r="1.0" fill="#9aa69a"/>
<circle cx="418.4" cy="187.5" r="1.0" fill="#828a82"/>
<circle cx="427.6" cy="143.5" r="0.7" fill="#debcc2"/>
<circle cx="407.9" cy="82.6" r="0.7" fill="#a99690"/>
<circle cx="392.6" cy="99.2" r="1.3" fill="#83b079"/>
<circle cx="535.5" cy="148.3" r="1.0" fill="#59404c"/>
<circle cx="425.0" cy="152.3" r="1.0" fill="#72585c"/>
<circle cx="414.9" cy="99.0" r="1.0" fill="#827979"/>
<circle cx="514.7" cy="165.7" r="0.9" fill="#95848d"/>
<circle cx="545.0" cy="128.8" r="1.2" fill="#875966"/>
<circle cx="469.8" cy="183.0" r="1.3" fill="#91ad95"/>
<circle cx="480.7" cy="152.7" r="1.2" fill="#918675"/>
<circle cx="377.9" cy="159.4" r="1.0" fill="#e6bfbf"/>
<circle cx="482.1" cy="181.3" r="0.8" fill="#1e3a23"/>
<circle cx="391.0" cy="153.0" r="1.0" fill="#9c7b7b"/>
<circle cx="452.2" cy="122.2" r="1.1" fill="#58464a"/>
<circle cx="527.7" cy="158.2" r="1.5" fill="#31141a"/>
<circle cx="436.8" cy="171.1" r="0.8" fill="#e9d3cf"/>
<circle cx="396.9" cy="106.4" r="1.1" fill="#ccebc6"/>
<circle cx="531.9" cy="94.2" r="1.0" fill="#8c7f86"/>
<circle cx="400.5" cy="185.5" r="1.4" fill="#336021"/>
<circle cx="456.4" cy="71.9" r="1.4" fill="#99cc8c"/>
<circle cx="410.6" cy="155.2" r="1.1" fill="#dfacb3"/>
<circle cx="492.8" cy="116.1" r="0.8" fill="#a1737f"/>
<circle cx="501.7" cy="88.6" r="1.0" fill="#657565"/>
<circle cx="379.5" cy="170.1" r="1.0" fill="#9bbe8d"/>
<circle cx="476.4" cy="132.5" r="1.1" fill="#bf9f9f"/>
<circle cx="475.9" cy="125.3" r="0.8" fill="#ad848f"/>
<circle cx="495.2" cy="117.1" r="1.3" fill="#4b2c34"/>
<circle cx="416.2" cy="100.4" r="1.0" fill="#f5ebeb"/>
<circle cx="384.6" cy="182.3" r="1.0" fill="#8cb380"/>
<circle cx="497.4" cy="121.7" r="0.8" fill="#ad848f"/>
<circle cx="407.2" cy="119.3" r="1.1" fill="#e3d5d0"/>
<circle cx="458.8" cy="96.7" r="0.8" fill="#eacddb"/>
<circle cx="428.5" cy="173.1" r="1.5" fill="#76605c"/>
<circle cx="436.1" cy="87.8" r="1.0" fill="#f1e3e3"/>
<circle cx="402.5" cy="185.9" r="1.3" fill="#3b6e26"/>
<circle cx="393.4" cy="165.2" r="1.5" fill="#336021"/>
<circle cx="521.7" cy="159.5" r="0.8" fill="#481d26"/>
<circle cx="505.5" cy="140.2" r="1.3" fill="#481d26"/>
<circle cx="438.2" cy="185.9" r="1.3" fill="#828a82"/>
<circle cx="479.2" cy="171.0" r="0.8" fill="#192c20"/>
<circle cx="437.1" cy="89.4" r="1.2" fill="#beb0b0"/>
<circle cx="425.1" cy="137.5" r="1.1" fill="#a68086"/>
<circle cx="422.8" cy="103.3" r="1.5" fill="#beb0b0"/>
<circle cx="402.6" cy="116.3" r="1.4" fill="#bfe6b6"/>
<circle cx="479.4" cy="135.4" r="0.8" fill="#c1a7ab"/>
<circle cx="503.1" cy="155.1" r="1.3" fill="#8b666e"/>
<circle cx="420.7" cy="74.7" r="1.2" fill="#beb0b0"/>
<circle cx="468.1" cy="127.6" r="1.0" fill="#be9ea7"/>
<circle cx="499.5" cy="185.0" r="0.9" fill="#57626e"/>
<circle cx="499.1" cy="177.8" r="1.5" fill="#264428"/>
<circle cx="395.5" cy="184.6" r="1.3" fill="#9bbe8d"/>
<circle cx="427.8" cy="68.3" r="1.5" fill="#697064"/>
<circle cx="409.8" cy="113.6" r="1.4" fill="#ac9c96"/>
<circle cx="387.3" cy="150.6" r="0.8" fill="#7b6060"/>
<circle cx="446.4" cy="85.7" r="1.5" fill="#efd7e2"/>
<circle cx="540.7" cy="182.0" r="0.8" fill="#799a84"/>
<circle cx="465.5" cy="90.9" r="1.3" fill="#98cd8f"/>
<circle cx="479.9" cy="182.7" r="0.8" fill="#91ad95"/>
<circle cx="400.4" cy="91.9" r="1.1" fill="#cab9bd"/>
<circle cx="470.7" cy="188.6" r="0.8" fill="#739679"/>
<circle cx="528.1" cy="99.8" r="1.3" fill="#4a212c"/>
<circle cx="534.7" cy="189.0" r="1.4" fill="#163221"/>
<circle cx="534.1" cy="70.5" r="1.3" fill="#8c998c"/>
<circle cx="544.4" cy="138.9" r="1.0" fill="#9a848f"/>
<circle cx="405.5" cy="163.4" r="1.5" fill="#162110"/>
<circle cx="382.4" cy="81.9" r="1.5" fill="#5c6e40"/>
<circle cx="381.0" cy="72.0" r="1.3" fill="#704e3d"/>
<circle cx="464.3" cy="139.9" r="1.3" fill="#d3bdbd"/>
<circle cx="377.1" cy="76.4" r="1.5" fill="#516038"/>
<circle cx="517.0" cy="118.5" r="0.9" fill="#542633"/>
<circle cx="442.9" cy="179.4" r="0.9" fill="#131e13"/>
<circle cx="475.4" cy="133.2" r="1.1" fill="#261920"/>
<circle cx="436.1" cy="148.8" r="0.8" fill="#d9b3b9"/>
<circle cx="402.2" cy="99.4" r="0.9" fill="#a1a173"/>
<circle cx="531.4" cy="90.9" r="1.2" fill="#b0a7ab"/>
<circle cx="420.7" cy="132.8" r="1.2" fill="#a68086"/>
<circle cx="380.8" cy="106.5" r="0.9" fill="#426539"/>
<circle cx="432.4" cy="158.1" r="0.7" fill="#e5cacf"/>
<circle cx="418.6" cy="79.5" r="1.3" fill="#f5ebeb"/>
<circle cx="418.1" cy="95.0" r="1.1" fill="#f1e3e3"/>
<circle cx="400.2" cy="151.0" r="1.4" fill="#6e6053"/>
<circle cx="543.4" cy="116.0" r="1.0" fill="#4a212c"/>
<circle cx="489.6" cy="96.8" r="1.0" fill="#70595f"/>
<circle cx="425.2" cy="141.6" r="0.8" fill="#e5cacf"/>
<circle cx="540.7" cy="181.1" r="1.1" fill="#233d2c"/>
<circle cx="440.9" cy="76.1" r="0.8" fill="#131910"/>
<circle cx="411.5" cy="176.9" r="1.4" fill="#336021"/>
<circle cx="434.4" cy="183.4" r="1.3" fill="#131e13"/>
<circle cx="430.7" cy="73.3" r="0.8" fill="#1d2417"/>
<circle cx="490.9" cy="177.4" r="1.4" fill="#99b69b"/>
<circle cx="489.3" cy="113.6" r="0.8" fill="#be9ea7"/>
<circle cx="422.9" cy="184.4" r="1.5" fill="#0f180f"/>
<circle cx="498.9" cy="151.9" r="0.9" fill="#23161a"/>
<circle cx="407.7" cy="83.2" r="1.1" fill="#e0d0ca"/>
<circle cx="514.1" cy="122.9" r="0.9" fill="#b1a69a"/>
<circle cx="392.5" cy="149.0" r="0.8" fill="#7b6060"/>
<circle cx="429.0" cy="162.3" r="1.1" fill="#e9d3cf"/>
<circle cx="403.9" cy="109.0" r="0.8" fill="#adad84"/>
<circle cx="458.3" cy="178.8" r="1.1" fill="#8abc8f"/>
<circle cx="478.3" cy="172.9" r="0.7" fill="#4c5f53"/>
<circle cx="401.8" cy="126.2" r="0.7" fill="#a7b995"/>
<circle cx="505.1" cy="117.7" r="0.9" fill="#3a1a23"/>
<circle cx="384.6" cy="117.7" r="1.5" fill="#729a6a"/>
<circle cx="381.1" cy="120.6" r="1.2" fill="#b6e3ac"/>
<circle cx="387.6" cy="71.1" r="0.7" fill="#5c6e40"/>
<circle cx="428.1" cy="73.2" r="1.4" fill="#21291b"/>
<circle cx="471.4" cy="153.3" r="1.2" fill="#8c6c6c"/>
<circle cx="430.3" cy="112.2" r="1.2" fill="#696962"/>
<circle cx="447.0" cy="135.0" r="0.9" fill="#594c4c"/>
<circle cx="536.5" cy="128.9" r="1.4" fill="#ad8d95"/>
<circle cx="520.3" cy="177.4" r="1.1" fill="#2c4e38"/>
<circle cx="471.3" cy="182.0" r="1.4" fill="#274a2c"/>
<circle cx="429.7" cy="136.8" r="0.8" fill="#d9b3b9"/>
<circle cx="536.2" cy="103.2" r="1.2" fill="#3a1a23"/>
<circle cx="377.5" cy="127.5" r="1.1" fill="#426539"/>
<circle cx="532.0" cy="131.8" r="1.2" fill="#7b5059"/>
<circle cx="488.3" cy="117.7" r="1.2" fill="#a1737f"/>
<circle cx="483.2" cy="125.3" r="1.0" fill="#4b2c34"/>
<circle cx="484.4" cy="75.7" r="1.5" fill="#4b8043"/>
<circle cx="424.1" cy="122.9" r="0.9" fill="#766b67"/>
<circle cx="385.5" cy="140.3" r="1.3" fill="#739666"/>
<circle cx="419.8" cy="180.0" r="0.8" fill="#606b60"/>
<circle cx="436.3" cy="75.2" r="1.1" fill="#0f130d"/>
<circle cx="458.0" cy="104.0" r="1.1" fill="#dccacf"/>
<circle cx="434.5" cy="92.4" r="1.3" fill="#a69a9a"/>
<circle cx="451.9" cy="105.0" r="1.4" fill="#cae5c6"/>
<circle cx="492.1" cy="166.9" r="0.9" fill="#99b69b"/>
<circle cx="427.0" cy="177.2" r="1.4" fill="#0f180f"/>
<circle cx="428.0" cy="98.3" r="1.5" fill="#827979"/>
<circle cx="487.5" cy="126.4" r="1.2" fill="#be9ea7"/>
<circle cx="530.1" cy="183.6" r="1.4" fill="#95b09e"/>
<circle cx="541.0" cy="87.8" r="1.5" fill="#594c53"/>
<circle cx="523.4" cy="106.5" r="1.2" fill="#4a212c"/>
<circle cx="507.2" cy="100.4" r="1.2" fill="#ad8d95"/>
<circle cx="398.0" cy="158.1" r="1.0" fill="#7b6060"/>
<circle cx="445.5" cy="116.9" r="1.2" fill="#587253"/>
<circle cx="535.5" cy="147.3" r="0.9" fill="#8c737f"/>
<circle cx="496.5" cy="72.8" r="1.1" fill="#4b8043"/>
<circle cx="541.5" cy="96.6" r="1.3" fill="#9a8f95"/>
<circle cx="493.7" cy="132.0" r="1.1" fill="#734c53"/>
<circle cx="493.1" cy="71.3" r="1.2" fill="#56934c"/>
<circle cx="535.3" cy="109.0" r="1.4" fill="#3a1a23"/>
<circle cx="425.8" cy="186.1" r="0.9" fill="#606b60"/>
<circle cx="455.0" cy="75.0" r="0.9" fill="#7c6570"/>
<circle cx="464.8" cy="128.5" r="0.8" fill="#58464a"/>
<circle cx="495.5" cy="74.2" r="1.1" fill="#aed7a7"/>
<circle cx="425.4" cy="183.7" r="0.9" fill="#162316"/>
<circle cx="432.0" cy="76.7" r="1.5" fill="#827979"/>
<circle cx="426.7" cy="174.6" r="1.1" fill="#e9d3cf"/>
<circle cx="413.2" cy="182.1" r="1.4" fill="#6ea159"/>
<circle cx="390.3" cy="121.2" r="1.2" fill="#b6e3ac"/>
<circle cx="505.1" cy="136.8" r="1.4" fill="#a4878d"/>
<circle cx="461.0" cy="185.5" r="1.1" fill="#739679"/>
<circle cx="544.6" cy="133.4" r="0.8" fill="#4e3843"/>
<circle cx="542.8" cy="144.3" r="1.1" fill="#4e3843"/>
<circle cx="422.8" cy="157.2" r="1.4" fill="#e5cacf"/>
<circle cx="422.1" cy="166.9" r="1.3" fill="#76605c"/>
<circle cx="453.7" cy="121.6" r="1.5" fill="#58464a"/>
<circle cx="409.6" cy="99.3" r="1.1" fill="#827979"/>
<circle cx="377.4" cy="125.6" r="1.1" fill="#a0cd95"/>
<circle cx="398.5" cy="120.8" r="1.3" fill="#bfe6b6"/>
<circle cx="418.1" cy="169.0" r="1.2" fill="#977b75"/>
<circle cx="480.4" cy="73.8" r="1.2" fill="#aed7a7"/>
<circle cx="418.2" cy="138.7" r="0.7" fill="#dfacb3"/>
<circle cx="389.2" cy="116.5" r="1.2" fill="#b6e3ac"/>
<circle cx="411.9" cy="98.4" r="1.1" fill="#f5ebeb"/>
<circle cx="475.7" cy="107.1" r="0.8" fill="#be9ea7"/>
<circle cx="428.1" cy="95.4" r="1.1" fill="#f5ebeb"/>
<circle cx="446.0" cy="117.5" r="0.9" fill="#70595f"/>
<circle cx="509.9" cy="155.8" r="0.9" fill="#7b5059"/>
<circle cx="488.3" cy="93.4" r="1.0" fill="#b3999f"/>
<circle cx="481.8" cy="119.0" r="1.2" fill="#6e404c"/>
<circle cx="392.0" cy="159.1" r="1.4" fill="#edd3d3"/>
<circle cx="453.4" cy="114.6" r="1.5" fill="#bca6ab"/>
<circle cx="509.0" cy="117.8" r="0.8" fill="#ad8d95"/>
<circle cx="415.1" cy="96.4" r="1.5" fill="#f3e6e6"/>
<circle cx="487.2" cy="150.9" r="0.9" fill="#d9ccb9"/>
<circle cx="427.1" cy="142.5" r="1.1" fill="#72585c"/>
<circle cx="541.6" cy="110.4" r="1.0" fill="#ad8d95"/>
<circle cx="518.1" cy="110.7" r="0.9" fill="#875966"/>
<circle cx="480.1" cy="95.4" r="0.9" fill="#b3999f"/>
<circle cx="537.6" cy="160.7" r="0.7" fill="#8c737f"/>
<circle cx="474.9" cy="169.8" r="1.0" fill="#99b69b"/>
<circle cx="476.2" cy="156.3" r="1.3" fill="#3b6e3b"/>
<circle cx="474.3" cy="99.2" r="1.2" fill="#dccaca"/>
<circle cx="445.5" cy="87.5" r="0.8" fill="#7c6570"/>
<circle cx="508.1" cy="108.3" r="1.1" fill="#ad8d95"/>
<circle cx="380.6" cy="161.8" r="1.1" fill="#264020"/>
<circle cx="460.2" cy="88.7" r="1.3" fill="#aed7a7"/>
<circle cx="460.1" cy="128.4" r="1.2" fill="#ccb3b9"/>
<circle cx="393.5" cy="74.0" r="1.1" fill="#f1e3e3"/>
<circle cx="543.5" cy="138.6" r="1.0" fill="#59404c"/>
<circle cx="504.5" cy="77.3" r="1.1" fill="#56934c"/>
<circle cx="405.3" cy="113.1" r="1.0" fill="#978983"/>
<circle cx="423.0" cy="112.4" r="1.1" fill="#e3d5d0"/>
<circle cx="467.6" cy="117.3" r="0.8" fill="#a1737f"/>
<circle cx="429.3" cy="176.2" r="0.9" fill="#606b60"/>
<circle cx="406.9" cy="82.6" r="1.2" fill="#746763"/>
<circle cx="381.5" cy="91.7" r="1.1" fill="#5a7953"/>
<circle cx="493.8" cy="71.5" r="1.4" fill="#56934c"/>
<circle cx="412.5" cy="155.2" r="1.0" fill="#e9c6ca"/>
<circle cx="513.3" cy="180.1" r="1.3" fill="#668c73"/>
<circle cx="381.6" cy="181.8" r="0.9" fill="#c7e9bc"/>
<circle cx="461.9" cy="112.5" r="0.9" fill="#bca6ab"/>
<circle cx="481.1" cy="86.6" r="1.3" fill="#56934c"/>
<circle cx="526.0" cy="89.8" r="1.4" fill="#2c322c"/>
<circle cx="490.7" cy="89.3" r="1.2" fill="#80666c"/>
<circle cx="435.5" cy="163.5" r="1.4" fill="#ac8c86"/>
<circle cx="415.1" cy="113.2" r="1.1" fill="#978983"/>
<circle cx="489.4" cy="173.4" r="0.8" fill="#849188"/>
<circle cx="518.3" cy="135.4" r="0.7" fill="#849a79"/>
<circle cx="431.4" cy="141.6" r="1.2" fill="#d9b3b9"/>
<circle cx="521.9" cy="75.8" r="1.0" fill="#081108"/>
<circle cx="529.7" cy="144.2" r="0.9" fill="#8b666e"/>
<circle cx="489.1" cy="154.2" r="0.7" fill="#a69986"/>
<circle cx="508.0" cy="95.4" r="1.0" fill="#131f13"/>
<circle cx="437.5" cy="98.9" r="0.9" fill="#161c13"/>
<circle cx="379.5" cy="113.2" r="1.2" fill="#93c686"/>
<circle cx="422.1" cy="82.0" r="1.1" fill="#827979"/>
<circle cx="463.0" cy="106.7" r="1.3" fill="#d2bcbc"/>
<circle cx="451.6" cy="157.0" r="1.0" fill="#917075"/>
<circle cx="442.5" cy="130.5" r="1.1" fill="#d9b3b9"/>
<circle cx="473.7" cy="191.7" r="0.9" fill="#274a2c"/>
<circle cx="426.8" cy="116.6" r="1.3" fill="#e9deda"/>
<circle cx="481.2" cy="103.4" r="1.0" fill="#603843"/>
<circle cx="532.0" cy="137.1" r="1.3" fill="#7b5059"/>
<circle cx="502.1" cy="124.4" r="1.1" fill="#a1737f"/>
<circle cx="415.1" cy="139.9" r="1.4" fill="#e9c6ca"/>
<circle cx="517.4" cy="77.2" r="1.1" fill="#0b160b"/>
<circle cx="433.4" cy="120.9" r="0.9" fill="#d2c2bc"/>
<circle cx="521.8" cy="132.1" r="1.1" fill="#2c3d23"/>
<circle cx="395.9" cy="175.4" r="1.3" fill="#6ea159"/>
<circle cx="503.1" cy="123.5" r="1.2" fill="#875966"/>
<circle cx="468.8" cy="74.9" r="0.8" fill="#aed7a7"/>
<circle cx="454.9" cy="179.6" r="1.1" fill="#a3caa7"/>
<circle cx="534.2" cy="148.9" r="1.5" fill="#481d26"/>
<circle cx="531.8" cy="144.2" r="0.9" fill="#31141a"/>
<circle cx="487.3" cy="94.6" r="0.9" fill="#58464a"/>
<circle cx="429.3" cy="90.0" r="1.1" fill="#f3e6e6"/>
<circle cx="541.1" cy="90.8" r="1.4" fill="#4e4348"/>
<circle cx="498.7" cy="162.0" r="1.0" fill="#264428"/>
<circle cx="499.0" cy="156.7" r="1.2" fill="#2c1c21"/>
<circle cx="501.4" cy="177.9" r="1.5" fill="#91ad95"/>
<circle cx="431.0" cy="100.2" r="0.8" fill="#f5ebeb"/>
<circle cx="483.7" cy="144.3" r="0.7" fill="#8d8488"/>
<circle cx="471.6" cy="115.5" r="0.9" fill="#be9ea7"/>
<circle cx="497.1" cy="91.0" r="1.2" fill="#b3999f"/>
<circle cx="382.9" cy="141.3" r="1.4" fill="#406333"/>
<circle cx="490.3" cy="76.2" r="1.3" fill="#4b8043"/>
<circle cx="441.0" cy="184.0" r="1.3" fill="#828a82"/>
<circle cx="541.6" cy="151.0" r="1.3" fill="#b09ea7"/>
<circle cx="534.1" cy="107.7" r="0.7" fill="#3a1a23"/>
<circle cx="459.7" cy="115.6" r="0.9" fill="#d2bcc2"/>
<circle cx="396.6" cy="112.6" r="1.0" fill="#bfe6b6"/>
<circle cx="432.4" cy="86.4" r="1.2" fill="#f3e6e6"/>
<circle cx="479.1" cy="93.3" r="1.1" fill="#3b6534"/>
<circle cx="505.7" cy="138.1" r="1.1" fill="#3e1921"/>
<circle cx="458.4" cy="73.3" r="1.4" fill="#98cd8f"/>
<circle cx="382.6" cy="91.5" r="0.9" fill="#b6e3ac"/>
<circle cx="450.2" cy="114.6" r="1.3" fill="#70916a"/>
<circle cx="498.4" cy="74.4" r="0.8" fill="#3b6534"/>
<circle cx="404.3" cy="72.7" r="0.9" fill="#746763"/>
<circle cx="485.7" cy="86.0" r="0.7" fill="#aed7a7"/>
<circle cx="519.2" cy="142.6" r="1.2" fill="#31141a"/>
<circle cx="415.6" cy="90.3" r="0.8" fill="#f1e3e3"/>
<circle cx="410.7" cy="147.4" r="0.8" fill="#976a70"/>
<circle cx="515.8" cy="166.2" r="0.8" fill="#664c59"/>
<circle cx="472.4" cy="131.0" r="0.7" fill="#594c53"/>
<circle cx="428.6" cy="190.5" r="0.9" fill="#0f180f"/>
<circle cx="433.4" cy="69.2" r="1.4" fill="#697064"/>
<circle cx="425.7" cy="103.5" r="0.8" fill="#f5ebeb"/>
<circle cx="441.4" cy="155.8" r="1.4" fill="#a68086"/>
<circle cx="395.1" cy="149.0" r="0.9" fill="#b38c8c"/>
<circle cx="426.2" cy="161.0" r="1.3" fill="#76605c"/>
<circle cx="532.4" cy="91.0" r="1.4" fill="#8c7f86"/>
<circle cx="434.4" cy="99.2" r="1.5" fill="#f3e6e6"/>
<circle cx="501.4" cy="175.4" r="1.2" fill="#2c5433"/>
<circle cx="490.7" cy="139.5" r="1.4" fill="#b18f95"/>
<circle cx="423.6" cy="97.0" r="1.2" fill="#f1e3e3"/>
<circle cx="538.3" cy="85.8" r="1.1" fill="#8c7f86"/>
<circle cx="392.1" cy="164.4" r="0.7" fill="#9bbe8d"/>
<circle cx="482.6" cy="102.7" r="1.5" fill="#80666c"/>
<circle cx="442.4" cy="101.2" r="1.4" fill="#cae5c6"/>
<circle cx="542.8" cy="100.6" r="1.1" fill="#542633"/>
<circle cx="478.7" cy="135.2" r="0.9" fill="#734c53"/>
<circle cx="470.5" cy="110.1" r="0.8" fill="#4b2c34"/>
<circle cx="492.5" cy="145.8" r="0.9" fill="#cab9bd"/>
<circle cx="543.6" cy="147.1" r="1.0" fill="#3d2c34"/>
<circle cx="531.4" cy="167.4" r="1.3" fill="#2c1621"/>
<circle cx="520.9" cy="184.0" r="0.9" fill="#668c73"/>
<circle cx="471.4" cy="97.9" r="1.3" fill="#aed7a7"/>
<circle cx="454.8" cy="153.0" r="1.4" fill="#917075"/>
<circle cx="487.1" cy="186.9" r="1.2" fill="#0b1621"/>
<circle cx="404.2" cy="72.4" r="1.4" fill="#dcc9c3"/>
<circle cx="468.6" cy="92.2" r="1.2" fill="#aed7a7"/>
<circle cx="539.6" cy="75.2" r="1.4" fill="#3d3439"/>
<circle cx="400.4" cy="151.9" r="1.2" fill="#a08c79"/>
<circle cx="469.0" cy="174.2" r="1.5" fill="#38633b"/>
<circle cx="386.6" cy="148.4" r="0.9" fill="#e6bfbf"/>
<circle cx="382.0" cy="88.0" r="0.8" fill="#5a7953"/>
<circle cx="435.5" cy="79.6" r="1.4" fill="#f5ebeb"/>
<circle cx="434.9" cy="82.9" r="1.2" fill="#f5ebeb"/>
<circle cx="439.4" cy="120.8" r="1.2" fill="#dccfca"/>
<circle cx="522.0" cy="152.0" r="0.9" fill="#481d26"/>
<circle cx="507.1" cy="146.5" r="0.9" fill="#7b5059"/>
<circle cx="451.2" cy="173.7" r="1.2" fill="#dfbfb9"/>
<circle cx="462.6" cy="131.3" r="1.1" fill="#604a4a"/>
<circle cx="437.4" cy="113.3" r="1.5" fill="#58464a"/>
<circle cx="510.2" cy="104.0" r="1.2" fill="#875966"/>
<circle cx="447.6" cy="102.7" r="1.1" fill="#cae5c6"/>
<circle cx="443.9" cy="127.5" r="0.8" fill="#998680"/>
<circle cx="396.8" cy="155.0" r="0.8" fill="#e9c7c7"/>
<circle cx="490.9" cy="86.7" r="1.2" fill="#4b8043"/>
<circle cx="393.5" cy="96.6" r="1.1" fill="#729a6a"/>
<circle cx="426.6" cy="113.6" r="1.3" fill="#978983"/>
<circle cx="377.5" cy="88.9" r="0.8" fill="#729a6a"/>
<circle cx="399.9" cy="178.4" r="1.3" fill="#9bbe8d"/>
<circle cx="472.2" cy="87.2" r="1.1" fill="#56934c"/>
<circle cx="478.6" cy="74.3" r="1.0" fill="#3b6534"/>
<circle cx="401.2" cy="164.7" r="1.1" fill="#111a0d"/>
<circle cx="540.9" cy="109.2" r="1.4" fill="#875966"/>
<circle cx="509.8" cy="93.6" r="1.4" fill="#131f13"/>
<circle cx="407.0" cy="129.4" r="1.4" fill="#4c6633"/>
<circle cx="412.0" cy="147.8" r="1.0" fill="#765358"/>
<circle cx="403.4" cy="124.8" r="1.0" fill="#43592c"/>
<circle cx="498.6" cy="180.0" r="1.4" fill="#08111a"/>
<circle cx="417.1" cy="172.7" r="1.5" fill="#e3c7c2"/>
<circle cx="522.3" cy="98.9" r="1.1" fill="#797e79"/>
<circle cx="524.0" cy="141.8" r="1.3" fill="#481d26"/>
<circle cx="433.6" cy="120.1" r="1.4" fill="#dccfca"/>
<circle cx="414.6" cy="75.8" r="0.8" fill="#d8d2cd"/>
<circle cx="405.5" cy="170.5" r="1.4" fill="#b3e6a6"/>
<circle cx="458.6" cy="92.6" r="0.8" fill="#7c6570"/>
<circle cx="540.7" cy="143.1" r="0.8" fill="#4e3843"/>
<circle cx="461.9" cy="132.3" r="1.3" fill="#c7abab"/>
<circle cx="508.4" cy="121.6" r="1.2" fill="#64594e"/>
<circle cx="439.9" cy="118.9" r="0.8" fill="#998680"/>
<circle cx="419.0" cy="125.7" r="1.4" fill="#e3d5d0"/>
<circle cx="511.4" cy="151.9" r="1.0" fill="#481d26"/>
<circle cx="485.0" cy="99.2" r="1.2" fill="#805933"/>
<circle cx="539.9" cy="89.5" r="1.2" fill="#594c53"/>
<circle cx="483.9" cy="154.8" r="1.1" fill="#e5dccf"/>
<circle cx="482.8" cy="134.2" r="0.9" fill="#a67f86"/>
<circle cx="524.5" cy="111.7" r="1.5" fill="#875966"/>
<circle cx="511.5" cy="183.6" r="0.9" fill="#335940"/>
<circle cx="457.6" cy="94.0" r="1.3" fill="#eacddb"/>
<circle cx="431.8" cy="91.7" r="1.0" fill="#827979"/>
<circle cx="390.9" cy="160.8" r="0.7" fill="#e9c7c7"/>
<circle cx="453.2" cy="142.2" r="1.0" fill="#a68086"/>
<circle cx="463.7" cy="122.4" r="1.5" fill="#80666c"/>
<circle cx="437.4" cy="182.4" r="1.2" fill="#828a82"/>
<circle cx="398.2" cy="168.2" r="0.8" fill="#111a0d"/>
<circle cx="487.2" cy="130.5" r="1.0" fill="#644348"/>
<circle cx="403.3" cy="191.0" r="0.9" fill="#80ad6e"/>
<circle cx="426.5" cy="77.7" r="1.2" fill="#f1e3e3"/>
<circle cx="456.5" cy="164.4" r="0.8" fill="#e9d3cf"/>
<circle cx="464.2" cy="176.0" r="1.3" fill="#739679"/>
<circle cx="527.4" cy="143.4" r="0.8" fill="#7b5059"/>
<circle cx="401.4" cy="73.8" r="1.5" fill="#94837d"/>
<circle cx="507.7" cy="82.1" r="1.1" fill="#0b160b"/>
<circle cx="471.8" cy="102.7" r="1.0" fill="#d2bcbc"/>
<circle cx="519.1" cy="167.6" r="1.1" fill="#23111a"/>
<circle cx="440.5" cy="180.2" r="0.8" fill="#131e13"/>
<circle cx="421.9" cy="163.3" r="1.3" fill="#e3c7c2"/>
<circle cx="407.6" cy="108.7" r="0.9" fill="#bebe9e"/>
<circle cx="454.7" cy="99.9" r="1.1" fill="#cab9bd"/>
<circle cx="469.0" cy="142.0" r="1.1" fill="#c7abab"/>
<circle cx="474.7" cy="68.4" r="1.4" fill="#4b8043"/>
<circle cx="440.8" cy="87.7" r="1.5" fill="#82867f"/>
<circle cx="406.9" cy="161.7" r="1.4" fill="#4c5946"/>
<circle cx="412.0" cy="82.9" r="1.0" fill="#a69a9a"/>
<circle cx="530.1" cy="79.3" r="1.1" fill="#3d3439"/></g>
<circle cx="387.0" cy="78.0" r="2.5" fill="#0c8c14"/>
<circle cx="400.1" cy="105.0" r="2.5" fill="#0c8c14"/>
<circle cx="473.9" cy="76.5" r="2.5" fill="#0c8c14"/>
<circle cx="483.2" cy="74.9" r="2.5" fill="#0c8c14"/>
<circle cx="482.4" cy="79.6" r="2.5" fill="#0c8c14"/>
<circle cx="520.6" cy="78.5" r="2.5" fill="#0c8c14"/>
<circle cx="380.9" cy="127.3" r="2.5" fill="#0c8c14"/>
<circle cx="393.2" cy="123.6" r="2.5" fill="#0c8c14"/>
<circle cx="389.0" cy="169.8" r="2.5" fill="#0c8c14"/>
<circle cx="402.0" cy="180.6" r="2.5" fill="#0c8c14"/>
<circle cx="460.0" cy="173.9" r="2.5" fill="#0c8c14"/>
<circle cx="476.2" cy="162.0" r="2.5" fill="#0c8c14"/>
<circle cx="487.0" cy="164.7" r="2.5" fill="#0c8c14"/>
<circle cx="485.5" cy="182.4" r="2.5" fill="#0c8c14"/>
<circle cx="489.8" cy="164.7" r="2.5" fill="#0c8c14"/>
<circle cx="497.0" cy="166.2" r="2.5" fill="#0c8c14"/>
<circle cx="506.0" cy="175.9" r="2.5" fill="#0c8c14"/>
<circle cx="518.3" cy="180.9" r="2.5" fill="#0c8c14"/>
<circle cx="529.9" cy="177.5" r="2.5" fill="#0c8c14"/>
<polygon points="383.20,85.55 384.00,87.70 386.29,87.80 384.50,89.22 385.11,91.43 383.20,90.16 381.29,91.43 381.90,89.22 380.11,87.80 382.40,87.70" fill="#1fb050"/>
<polygon points="384.70,89.45 385.50,91.60 387.79,91.70 386.00,93.12 386.61,95.33 384.70,94.06 382.79,95.33 383.40,93.12 381.61,91.70 383.90,91.60" fill="#1fb050"/>
<polygon points="390.90,92.55 391.70,94.70 393.99,94.80 392.20,96.22 392.81,98.43 390.90,97.16 388.99,98.43 389.60,96.22 387.81,94.80 390.10,94.70" fill="#1fb050"/>
<polygon points="395.50,97.95 396.30,100.10 398.59,100.20 396.80,101.62 397.41,103.83 395.50,102.56 393.59,103.83 394.20,101.62 392.41,100.20 394.70,100.10" fill="#1fb050"/>
<polygon points="393.20,104.15 394.00,106.30 396.29,106.40 394.50,107.82 395.11,110.03 393.20,108.77 391.29,110.03 391.90,107.82 390.11,106.40 392.40,106.30" fill="#1fb050"/>
<polygon points="478.50,67.85 479.30,70.00 481.59,70.10 479.80,71.52 480.41,73.73 478.50,72.46 476.59,73.73 477.20,71.52 475.41,70.10 477.70,70.00" fill="#1fb050"/>
<polygon points="485.50,67.05 486.30,69.20 488.59,69.30 486.80,70.72 487.41,72.93 485.50,71.66 483.59,72.93 484.20,70.72 482.41,69.30 484.70,69.20" fill="#1fb050"/>
<polygon points="477.80,80.15 478.60,82.30 480.89,82.40 479.10,83.82 479.71,86.03 477.80,84.77 475.89,86.03 476.50,83.82 474.71,82.40 477.00,82.30" fill="#1fb050"/>
<polygon points="480.80,84.85 481.60,87.00 483.89,87.10 482.10,88.52 482.71,90.73 480.80,89.46 478.89,90.73 479.50,88.52 477.71,87.10 480.00,87.00" fill="#1fb050"/>
<polygon points="449.20,97.95 450.00,100.10 452.29,100.20 450.50,101.62 451.11,103.83 449.20,102.56 447.29,103.83 447.90,101.62 446.11,100.20 448.40,100.10" fill="#1fb050"/>
<polygon points="503.70,69.35 504.50,71.50 506.79,71.60 505.00,73.02 505.61,75.23 503.70,73.96 501.79,75.23 502.40,73.02 500.61,71.60 502.90,71.50" fill="#1fb050"/>
<polygon points="509.00,70.95 509.80,73.10 512.09,73.20 510.30,74.62 510.91,76.83 509.00,75.56 507.09,76.83 507.70,74.62 505.91,73.20 508.20,73.10" fill="#1fb050"/>
<polygon points="491.30,80.15 492.10,82.30 494.39,82.40 492.60,83.82 493.21,86.03 491.30,84.77 489.39,86.03 490.00,83.82 488.21,82.40 490.50,82.30" fill="#1fb050"/>
<polygon points="495.20,77.85 496.00,80.00 498.29,80.10 496.50,81.52 497.11,83.73 495.20,82.46 493.29,83.73 493.90,81.52 492.11,80.10 494.40,80.00" fill="#1fb050"/>
<polygon points="388.60,109.85 389.40,112.00 391.69,112.10 389.90,113.52 390.51,115.73 388.60,114.46 386.69,115.73 387.30,113.52 385.51,112.10 387.80,112.00" fill="#1fb050"/>
<polygon points="395.50,109.85 396.30,112.00 398.59,112.10 396.80,113.52 397.41,115.73 395.50,114.46 393.59,115.73 394.20,113.52 392.41,112.10 394.70,112.00" fill="#1fb050"/>
<polygon points="390.10,114.45 390.90,116.60 393.19,116.70 391.40,118.12 392.01,120.33 390.10,119.06 388.19,120.33 388.80,118.12 387.01,116.70 389.30,116.60" fill="#1fb050"/>
<polygon points="445.30,110.65 446.10,112.80 448.39,112.90 446.60,114.32 447.21,116.53 445.30,115.27 443.39,116.53 444.00,114.32 442.21,112.90 444.50,112.80" fill="#1fb050"/>
<polygon points="448.40,112.95 449.20,115.10 451.49,115.20 449.70,116.62 450.31,118.83 448.40,117.56 446.49,118.83 447.10,116.62 445.31,115.20 447.60,115.10" fill="#1fb050"/>
<polygon points="380.10,172.25 380.90,174.40 383.19,174.50 381.40,175.92 382.01,178.13 380.10,176.87 378.19,178.13 378.80,175.92 377.01,174.50 379.30,174.40" fill="#1fb050"/>
<polygon points="384.70,174.55 385.50,176.70 387.79,176.80 386.00,178.22 386.61,180.43 384.70,179.17 382.79,180.43 383.40,178.22 381.61,176.80 383.90,176.70" fill="#1fb050"/>
<polygon points="389.30,176.85 390.10,179.00 392.39,179.10 390.60,180.52 391.21,182.73 389.30,181.47 387.39,182.73 388.00,180.52 386.21,179.10 388.50,179.00" fill="#1fb050"/>
<polygon points="382.40,179.15 383.20,181.30 385.49,181.40 383.70,182.82 384.31,185.03 382.40,183.77 380.49,185.03 381.10,182.82 379.31,181.40 381.60,181.30" fill="#1fb050"/>
<polygon points="386.30,182.25 387.10,184.40 389.39,184.50 387.60,185.92 388.21,188.13 386.30,186.87 384.39,188.13 385.00,185.92 383.21,184.50 385.50,184.40" fill="#1fb050"/>
<polygon points="390.90,179.15 391.70,181.30 393.99,181.40 392.20,182.82 392.81,185.03 390.90,183.77 388.99,185.03 389.60,182.82 387.81,181.40 390.10,181.30" fill="#1fb050"/>
<polygon points="453.10,181.45 453.90,183.60 456.19,183.70 454.40,185.12 455.01,187.33 453.10,186.06 451.19,187.33 451.80,185.12 450.01,183.70 452.30,183.60" fill="#1fb050"/>
<polygon points="471.60,178.35 472.40,180.50 474.69,180.60 472.90,182.02 473.51,184.23 471.60,182.97 469.69,184.23 470.30,182.02 468.51,180.60 470.80,180.50" fill="#1fb050"/>
<polygon points="473.90,183.75 474.70,185.90 476.99,186.00 475.20,187.42 475.81,189.63 473.90,188.37 471.99,189.63 472.60,187.42 470.81,186.00 473.10,185.90" fill="#1fb050"/>
<polygon points="390.60,69.35 391.40,71.50 393.69,71.60 391.90,73.02 392.51,75.23 390.60,73.96 388.69,75.23 389.30,73.02 387.51,71.60 389.80,71.50" fill="#2a6ed6"/>
<polygon points="463.90,71.65 464.70,73.80 466.99,73.90 465.20,75.32 465.81,77.53 463.90,76.27 461.99,77.53 462.60,75.32 460.81,73.90 463.10,73.80" fill="#2a6ed6"/>
<polygon points="483.20,96.35 484.00,98.50 486.29,98.60 484.50,100.02 485.11,102.23 483.20,100.96 481.29,102.23 481.90,100.02 480.11,98.60 482.40,98.50" fill="#2a6ed6"/>
<polygon points="486.20,101.05 487.00,103.20 489.29,103.30 487.50,104.72 488.11,106.93 486.20,105.66 484.29,106.93 484.90,104.72 483.11,103.30 485.40,103.20" fill="#2a6ed6"/>
<polygon points="485.00,98.25 485.80,100.40 488.09,100.50 486.30,101.92 486.91,104.13 485.00,102.86 483.09,104.13 483.70,101.92 481.91,100.50 484.20,100.40" fill="#2a6ed6"/>
<polygon points="491.30,96.35 492.10,98.50 494.39,98.60 492.60,100.02 493.21,102.23 491.30,100.96 489.39,102.23 490.00,100.02 488.21,98.60 490.50,98.50" fill="#2a6ed6"/>
<polygon points="494.40,97.95 495.20,100.10 497.49,100.20 495.70,101.62 496.31,103.83 494.40,102.56 492.49,103.83 493.10,101.62 491.31,100.20 493.60,100.10" fill="#2a6ed6"/>
<polygon points="542.20,95.65 543.00,97.80 545.29,97.90 543.50,99.32 544.11,101.53 542.20,100.27 540.29,101.53 540.90,99.32 539.11,97.90 541.40,97.80" fill="#2a6ed6"/>
<polygon points="407.10,133.75 407.90,135.90 410.19,136.00 408.40,137.42 409.01,139.63 407.10,138.37 405.19,139.63 405.80,137.42 404.01,136.00 406.30,135.90" fill="#2a6ed6"/>
<polygon points="406.30,139.15 407.10,141.30 409.39,141.40 407.60,142.82 408.21,145.03 406.30,143.77 404.39,145.03 405.00,142.82 403.21,141.40 405.50,141.30" fill="#2a6ed6"/>
<polygon points="407.50,136.25 408.30,138.40 410.59,138.50 408.80,139.92 409.41,142.13 407.50,140.87 405.59,142.13 406.20,139.92 404.41,138.50 406.70,138.40" fill="#2a6ed6"/>
<polygon points="439.90,122.15 440.70,124.30 442.99,124.40 441.20,125.82 441.81,128.03 439.90,126.77 437.99,128.03 438.60,125.82 436.81,124.40 439.10,124.30" fill="#2a6ed6"/>
<polygon points="444.60,121.45 445.40,123.60 447.69,123.70 445.90,125.12 446.51,127.33 444.60,126.06 442.69,127.33 443.30,125.12 441.51,123.70 443.80,123.60" fill="#2a6ed6"/>
<polygon points="448.40,123.75 449.20,125.90 451.49,126.00 449.70,127.42 450.31,129.63 448.40,128.37 446.49,129.63 447.10,127.42 445.31,126.00 447.60,125.90" fill="#2a6ed6"/>
<polygon points="443.00,126.85 443.80,129.00 446.09,129.10 444.30,130.52 444.91,132.73 443.00,131.47 441.09,132.73 441.70,130.52 439.91,129.10 442.20,129.00" fill="#2a6ed6"/>
<polygon points="450.00,126.85 450.80,129.00 453.09,129.10 451.30,130.52 451.91,132.73 450.00,131.47 448.09,132.73 448.70,130.52 446.91,129.10 449.20,129.00" fill="#2a6ed6"/>
<polygon points="530.70,145.05 531.50,147.20 533.79,147.30 532.00,148.72 532.61,150.93 530.70,149.67 528.79,150.93 529.40,148.72 527.61,147.30 529.90,147.20" fill="#2a6ed6"/>
<polygon points="495.90,177.65 496.70,179.80 498.99,179.90 497.20,181.32 497.81,183.53 495.90,182.27 493.99,183.53 494.60,181.32 492.81,179.90 495.10,179.80" fill="#2a6ed6"/>
<polygon points="494.40,183.05 495.20,185.20 497.49,185.30 495.70,186.72 496.31,188.93 494.40,187.67 492.49,188.93 493.10,186.72 491.31,185.30 493.60,185.20" fill="#2a6ed6"/>
<circle cx="428.4" cy="70.3" r="2.5" fill="#f80808"/>
<circle cx="436.4" cy="92.4" r="2.5" fill="#f80808"/>
<circle cx="459.2" cy="93.5" r="2.5" fill="#f80808"/>
<circle cx="460.8" cy="98.1" r="2.5" fill="#f80808"/>
<circle cx="465.4" cy="107.8" r="2.5" fill="#f80808"/>
<circle cx="532.7" cy="82.7" r="2.5" fill="#f80808"/>
<circle cx="527.3" cy="98.9" r="2.5" fill="#f80808"/>
<circle cx="521.7" cy="107.8" r="2.5" fill="#f80808"/>
<circle cx="428.7" cy="119.6" r="2.5" fill="#f80808"/>
<circle cx="430.2" cy="133.1" r="2.5" fill="#f80808"/>
<circle cx="464.6" cy="133.5" r="2.5" fill="#f80808"/>
<circle cx="475.9" cy="127.7" r="2.5" fill="#f80808"/>
<circle cx="465.1" cy="110.0" r="2.5" fill="#f80808"/>
<circle cx="525.0" cy="121.6" r="2.5" fill="#f80808"/>
<circle cx="410.6" cy="168.2" r="2.5" fill="#f80808"/>
<circle cx="424.1" cy="170.8" r="2.5" fill="#f80808"/>
<circle cx="432.4" cy="166.4" r="2.5" fill="#f80808"/>
<circle cx="436.1" cy="156.2" r="2.5" fill="#f80808"/>
<circle cx="542.2" cy="154.3" r="2.5" fill="#f80808"/>
<circle cx="519.1" cy="164.7" r="2.5" fill="#f80808"/>
<polygon points="454.60,90.95 455.40,93.10 457.69,93.20 455.90,94.62 456.51,96.83 454.60,95.56 452.69,96.83 453.30,94.62 451.51,93.20 453.80,93.10" fill="#f80808"/>
<polygon points="463.90,90.95 464.70,93.10 466.99,93.20 465.20,94.62 465.81,96.83 463.90,95.56 461.99,96.83 462.60,94.62 460.81,93.20 463.10,93.10" fill="#f80808"/>
<polygon points="519.90,96.85 520.70,99.00 522.99,99.10 521.20,100.52 521.81,102.73 519.90,101.46 517.99,102.73 518.60,100.52 516.81,99.10 519.10,99.00" fill="#f80808"/>
<polygon points="527.60,105.65 528.40,107.80 530.69,107.90 528.90,109.32 529.51,111.53 527.60,110.27 525.69,111.53 526.30,109.32 524.51,107.90 526.80,107.80" fill="#f80808"/>
<polygon points="423.30,129.85 424.10,132.00 426.39,132.10 424.60,133.52 425.21,135.73 423.30,134.47 421.39,135.73 422.00,133.52 420.21,132.10 422.50,132.00" fill="#f80808"/>
<polygon points="419.40,139.95 420.20,142.10 422.49,142.20 420.70,143.62 421.31,145.83 419.40,144.56 417.49,145.83 418.10,143.62 416.31,142.20 418.60,142.10" fill="#f80808"/>
<polygon points="414.80,143.75 415.60,145.90 417.89,146.00 416.10,147.42 416.71,149.63 414.80,148.37 412.89,149.63 413.50,147.42 411.71,146.00 414.00,145.90" fill="#f80808"/>
<polygon points="411.70,147.15 412.50,149.30 414.79,149.40 413.00,150.82 413.61,153.03 411.70,151.77 409.79,153.03 410.40,150.82 408.61,149.40 410.90,149.30" fill="#f80808"/>
<polygon points="417.00,145.75 417.80,147.90 420.09,148.00 418.30,149.42 418.91,151.63 417.00,150.37 415.09,151.63 415.70,149.42 413.91,148.00 416.20,147.90" fill="#f80808"/>
<polygon points="454.60,120.65 455.40,122.80 457.69,122.90 455.90,124.32 456.51,126.53 454.60,125.27 452.69,126.53 453.30,124.32 451.51,122.90 453.80,122.80" fill="#f80808"/>
<polygon points="439.20,131.45 440.00,133.60 442.29,133.70 440.50,135.12 441.11,137.33 439.20,136.06 437.29,137.33 437.90,135.12 436.11,133.70 438.40,133.60" fill="#f80808"/>
<polygon points="436.90,134.55 437.70,136.70 439.99,136.80 438.20,138.22 438.81,140.43 436.90,139.17 434.99,140.43 435.60,138.22 433.81,136.80 436.10,136.70" fill="#f80808"/>
<polygon points="441.50,135.25 442.30,137.40 444.59,137.50 442.80,138.92 443.41,141.13 441.50,139.87 439.59,141.13 440.20,138.92 438.41,137.50 440.70,137.40" fill="#f80808"/>
<polygon points="482.70,126.85 483.50,129.00 485.79,129.10 484.00,130.52 484.61,132.73 482.70,131.47 480.79,132.73 481.40,130.52 479.61,129.10 481.90,129.00" fill="#f80808"/>
<polygon points="487.80,134.55 488.60,136.70 490.89,136.80 489.10,138.22 489.71,140.43 487.80,139.17 485.89,140.43 486.50,138.22 484.71,136.80 487.00,136.70" fill="#f80808"/>
<polygon points="527.60,107.95 528.40,110.10 530.69,110.20 528.90,111.62 529.51,113.83 527.60,112.56 525.69,113.83 526.30,111.62 524.51,110.20 526.80,110.10" fill="#f80808"/>
<polygon points="530.40,114.15 531.20,116.30 533.49,116.40 531.70,117.82 532.31,120.03 530.40,118.77 528.49,120.03 529.10,117.82 527.31,116.40 529.60,116.30" fill="#f80808"/>
<polygon points="493.60,131.45 494.40,133.60 496.69,133.70 494.90,135.12 495.51,137.33 493.60,136.06 491.69,137.33 492.30,135.12 490.51,133.70 492.80,133.60" fill="#f80808"/>
<polygon points="494.90,140.75 495.70,142.90 497.99,143.00 496.20,144.42 496.81,146.63 494.90,145.37 492.99,146.63 493.60,144.42 491.81,143.00 494.10,142.90" fill="#f80808"/>
<polygon points="542.20,127.55 543.00,129.70 545.29,129.80 543.50,131.22 544.11,133.43 542.20,132.17 540.29,133.43 540.90,131.22 539.11,129.80 541.40,129.70" fill="#f80808"/>
<polygon points="407.90,149.05 408.70,151.20 410.99,151.30 409.20,152.72 409.81,154.93 407.90,153.67 405.99,154.93 406.60,152.72 404.81,151.30 407.10,151.20" fill="#f80808"/>
<polygon points="412.50,149.85 413.30,152.00 415.59,152.10 413.80,153.52 414.41,155.73 412.50,154.47 410.59,155.73 411.20,153.52 409.41,152.10 411.70,152.00" fill="#f80808"/>
<polygon points="410.20,152.95 411.00,155.10 413.29,155.20 411.50,156.62 412.11,158.83 410.20,157.56 408.29,158.83 408.90,156.62 407.11,155.20 409.40,155.10" fill="#f80808"/>
<polygon points="414.80,153.75 415.60,155.90 417.89,156.00 416.10,157.42 416.71,159.63 414.80,158.37 412.89,159.63 413.50,157.42 411.71,156.00 414.00,155.90" fill="#f80808"/>
<polygon points="417.90,156.75 418.70,158.90 420.99,159.00 419.20,160.42 419.81,162.63 417.90,161.37 415.99,162.63 416.60,160.42 414.81,159.00 417.10,158.90" fill="#f80808"/>
<polygon points="414.00,159.05 414.80,161.20 417.09,161.30 415.30,162.72 415.91,164.93 414.00,163.67 412.09,164.93 412.70,162.72 410.91,161.30 413.20,161.20" fill="#f80808"/>
</g>
<rect x="417" y="197" width="90.3" height="25" rx="1.5" fill="#fff" stroke="#e4e4e4" stroke-width="0.8"/>
<circle cx="421.2" cy="204.3" r="2.6" fill="#0a0aff"/>
<polygon points="421.20,212.55 421.93,214.50 424.01,214.59 422.38,215.88 422.93,217.89 421.20,216.74 419.47,217.89 420.02,215.88 418.39,214.59 420.47,214.50" fill="#0a0aff"/>
<circle cx="427.5" cy="204.3" r="2.6" fill="#ff0a0a"/>
<polygon points="427.50,212.55 428.23,214.50 430.31,214.59 428.68,215.88 429.23,217.89 427.50,216.74 425.77,217.89 426.32,215.88 424.69,214.59 426.77,214.50" fill="#ff0a0a"/>
<circle cx="433.5" cy="204.3" r="2.6" fill="#0a800a"/>
<polygon points="433.50,212.55 434.23,214.50 436.31,214.59 434.68,215.88 435.23,217.89 433.50,216.74 431.77,217.89 432.32,215.88 430.69,214.59 432.77,214.50" fill="#0a800a"/>
<text x="441.8" y="207.4" class="lg">labeled samples</text>
<text x="441.8" y="218.4" class="lg">pseudo-labels</text>
<text transform="translate(466 62.6) scale(0.965 1)" text-anchor="middle" class="pl">Pseudo-labels</text>
<rect x="435.2" y="234.3" width="5.5" height="5.2" fill="#4472c4"/>
<text x="443.9" y="240.2" class="cl">Coral</text>
<rect x="435.2" y="244.9" width="5.5" height="5.2" fill="#ff0000"/>
<text x="443.9" y="250.8" class="cl">Red Algae</text>
<rect x="435.2" y="255.5" width="5.5" height="5.2" fill="#00b050"/>
<text x="443.9" y="261.4" class="cl">Green Algae</text>
</svg>
</body></html>
